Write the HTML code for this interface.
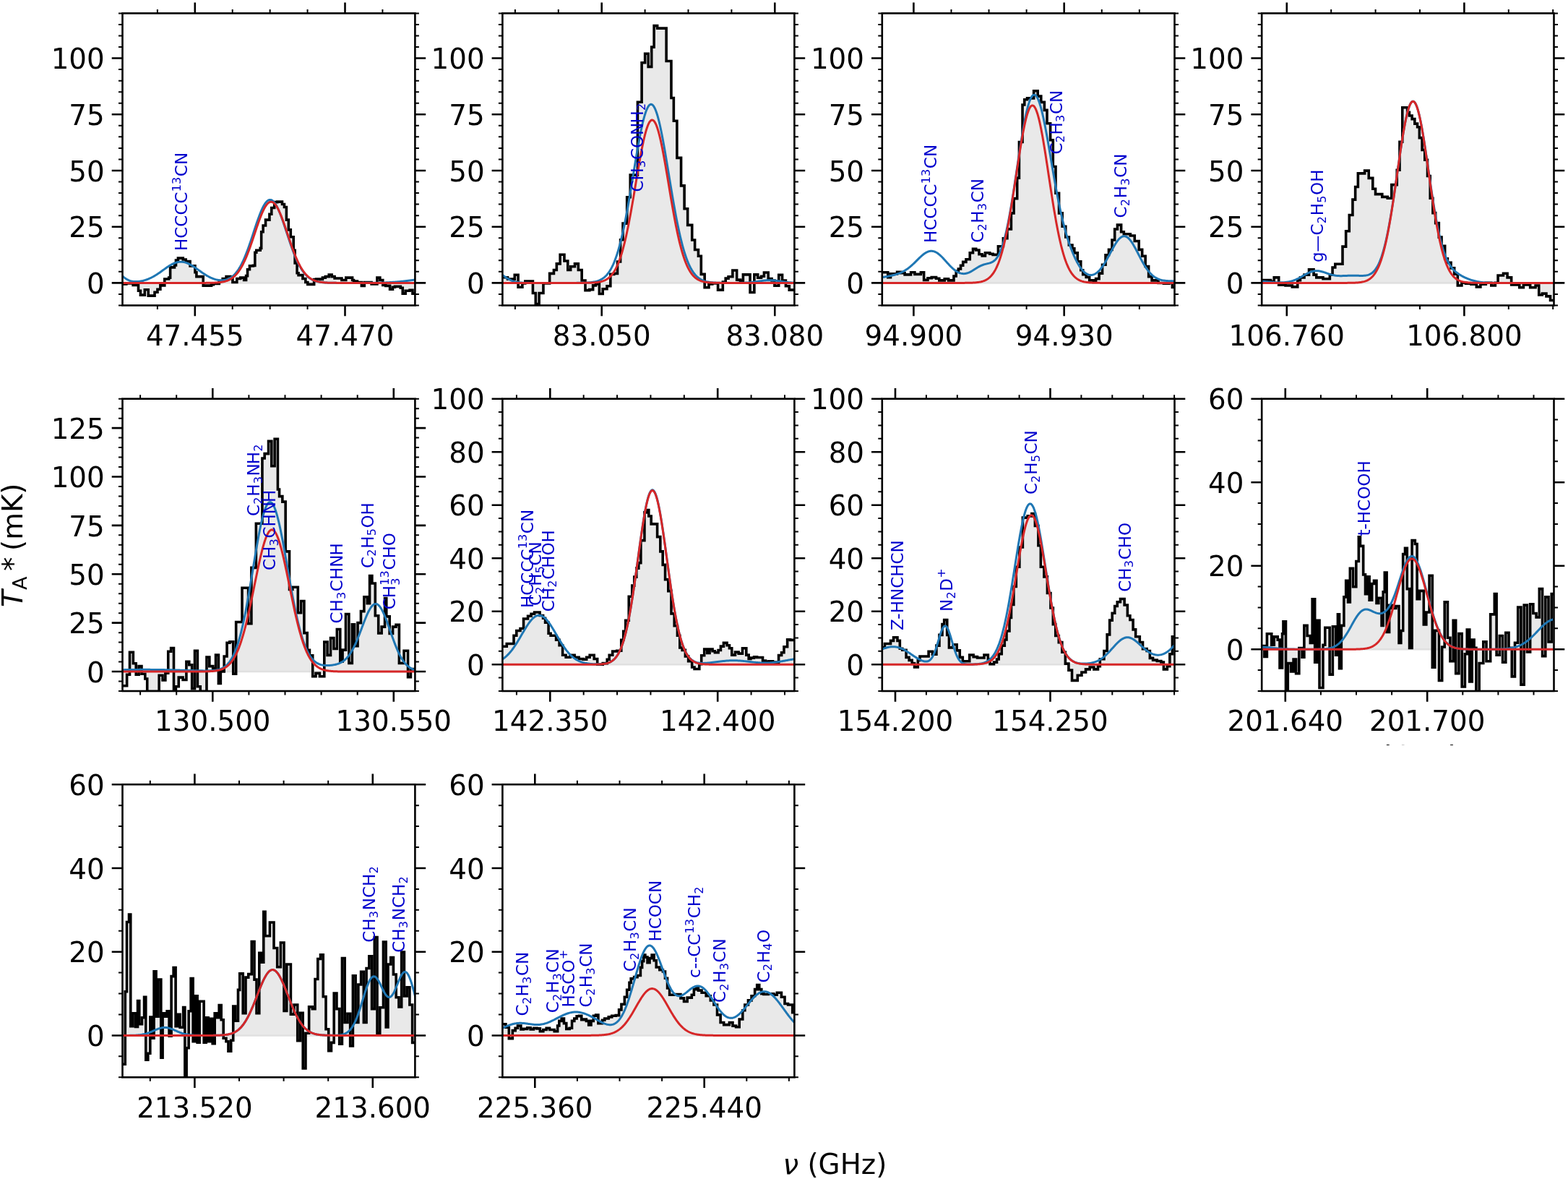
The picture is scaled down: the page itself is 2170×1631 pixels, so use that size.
<!DOCTYPE html>
<html><head><meta charset="utf-8"><style>
html,body{margin:0;padding:0;background:#fff;}
svg{display:block;}
.t{font-family:"DejaVu Sans","Liberation Sans",sans-serif;font-size:38.8px;fill:#000;}
.l{font-family:"DejaVu Sans","Liberation Sans",sans-serif;fill:#0000cd;}
.a{font-family:"DejaVu Sans","Liberation Sans",sans-serif;font-size:38.8px;fill:#000;}
</style></head><body>
<svg width="2170" height="1631" viewBox="0 0 2170 1631">
<rect width="2170" height="1631" fill="#fff"/>
<clipPath id="c1"><rect x="169.5" y="18.4" width="404.9" height="404.1"/></clipPath>
<g clip-path="url(#c1)">
<path d="M170.39,391.42 L170.39,392.91 L174.81,392.91 L174.81,391.93 L184.13,391.93 L184.13,394.38 L191.48,394.38 L191.48,402.23 L194.43,402.23 L194.43,408.11 L200.31,408.11 L200.31,400.76 L205.22,400.76 L205.22,409.09 L214.04,409.09 L214.04,404.19 L217.97,404.19 L217.97,400.26 L221.89,400.26 L221.89,394.87 L227.78,394.87 L227.78,386.04 L233.66,386.04 L233.66,384.08 L235.62,384.08 L235.62,369.86 L241.51,369.86 L241.51,366.92 L243.47,366.92 L243.47,360.05 L246.41,360.05 L246.41,357.11 L253.28,357.11 L253.28,359.07 L257.2,359.07 L257.2,361.52 L263.09,361.52 L263.09,367.9 L269.95,367.9 L269.95,376.72 L271.92,376.72 L271.92,382.61 L281.23,382.61 L281.23,395.16 L292.51,395.16 L292.51,393.59 L295.46,393.59 L295.46,392.42 L303.3,392.42 L303.3,388.49 L308.21,388.49 L308.21,385.55 L313.11,385.55 L313.11,382.61 L319,382.61 L319,385.55 L321.94,385.55 L321.94,390.46 L327.82,390.46 L327.82,385.55 L332.73,385.55 L332.73,384.08 L337.63,384.08 L337.63,387.51 L340.58,387.51 L340.58,381.63 L342.54,381.63 L342.54,372.8 L345.48,372.8 L345.48,367.9 L350.38,367.9 L350.38,367.41 L352.84,367.41 L352.84,349.26 L354.8,349.26 L354.8,346.32 L360.19,346.32 L360.19,343.37 L361.67,343.37 L361.67,320.81 L364.12,320.81 L364.12,311.99 L367.55,311.99 L367.55,304.14 L372.95,304.14 L372.95,296.29 L375.79,296.29 L375.79,287.46 L379.71,287.46 L379.71,279.62 L383.64,279.62 L383.64,279.13 L390.5,279.13 L390.5,282.56 L393.45,282.56 L393.45,286.48 L396.39,286.48 L396.39,304.14 L399.33,304.14 L399.33,317.87 L402.27,317.87 L402.27,327.68 L406.2,327.68 L406.2,346.32 L408.16,346.32 L408.16,363.97 L411.1,363.97 L411.1,377.7 L413.06,377.7 L413.06,380.65 L418.95,380.65 L418.95,385.55 L422.87,385.55 L422.87,390.46 L425.81,390.46 L425.81,393.4 L434.64,393.4 L434.64,386.53 L437.58,386.53 L437.58,386.04 L443.47,386.04 L443.47,386.53 L446.41,386.53 L446.41,384.08 L450.34,384.08 L450.34,382.61 L455.24,382.61 L455.24,380.16 L459.16,380.16 L459.16,382.61 L463.09,382.61 L463.09,385.06 L472.9,385.06 L472.9,387.51 L478.78,387.51 L478.78,384.08 L487.61,384.08 L487.61,387.51 L489.57,387.51 L489.57,388.98 L494.48,388.98 L494.48,390.46 L500.36,390.46 L500.36,395.36 L504.28,395.36 L504.28,390.46 L514.09,390.46 L514.09,392.91 L521.94,392.91 L521.94,384.08 L525.86,384.08 L525.86,387.51 L529.79,387.51 L529.79,394.38 L533.71,394.38 L533.71,395.36 L539.6,395.36 L539.6,400.26 L543.52,400.26 L543.52,397.32 L546.46,397.32 L546.46,396.34 L554.31,396.34 L554.31,398.3 L557.25,398.3 L557.25,406.15 L561.17,406.15 L561.17,402.23 L567.06,402.23 L567.06,401.25 L570.98,401.25 L570.98,406.15 L575,406.15 L575,391.42 Z" fill="#e9e9e9" stroke="none"/>
<line x1="169.5" y1="391.42" x2="574.4" y2="391.42" stroke="#e0e0e0" stroke-width="2.6"/>
<path d="M170.39,392.91 L174.81,392.91 L174.81,391.93 L184.13,391.93 L184.13,394.38 L191.48,394.38 L191.48,402.23 L194.43,402.23 L194.43,408.11 L200.31,408.11 L200.31,400.76 L205.22,400.76 L205.22,409.09 L214.04,409.09 L214.04,404.19 L217.97,404.19 L217.97,400.26 L221.89,400.26 L221.89,394.87 L227.78,394.87 L227.78,386.04 L233.66,386.04 L233.66,384.08 L235.62,384.08 L235.62,369.86 L241.51,369.86 L241.51,366.92 L243.47,366.92 L243.47,360.05 L246.41,360.05 L246.41,357.11 L253.28,357.11 L253.28,359.07 L257.2,359.07 L257.2,361.52 L263.09,361.52 L263.09,367.9 L269.95,367.9 L269.95,376.72 L271.92,376.72 L271.92,382.61 L281.23,382.61 L281.23,395.16 L292.51,395.16 L292.51,393.59 L295.46,393.59 L295.46,392.42 L303.3,392.42 L303.3,388.49 L308.21,388.49 L308.21,385.55 L313.11,385.55 L313.11,382.61 L319,382.61 L319,385.55 L321.94,385.55 L321.94,390.46 L327.82,390.46 L327.82,385.55 L332.73,385.55 L332.73,384.08 L337.63,384.08 L337.63,387.51 L340.58,387.51 L340.58,381.63 L342.54,381.63 L342.54,372.8 L345.48,372.8 L345.48,367.9 L350.38,367.9 L350.38,367.41 L352.84,367.41 L352.84,349.26 L354.8,349.26 L354.8,346.32 L360.19,346.32 L360.19,343.37 L361.67,343.37 L361.67,320.81 L364.12,320.81 L364.12,311.99 L367.55,311.99 L367.55,304.14 L372.95,304.14 L372.95,296.29 L375.79,296.29 L375.79,287.46 L379.71,287.46 L379.71,279.62 L383.64,279.62 L383.64,279.13 L390.5,279.13 L390.5,282.56 L393.45,282.56 L393.45,286.48 L396.39,286.48 L396.39,304.14 L399.33,304.14 L399.33,317.87 L402.27,317.87 L402.27,327.68 L406.2,327.68 L406.2,346.32 L408.16,346.32 L408.16,363.97 L411.1,363.97 L411.1,377.7 L413.06,377.7 L413.06,380.65 L418.95,380.65 L418.95,385.55 L422.87,385.55 L422.87,390.46 L425.81,390.46 L425.81,393.4 L434.64,393.4 L434.64,386.53 L437.58,386.53 L437.58,386.04 L443.47,386.04 L443.47,386.53 L446.41,386.53 L446.41,384.08 L450.34,384.08 L450.34,382.61 L455.24,382.61 L455.24,380.16 L459.16,380.16 L459.16,382.61 L463.09,382.61 L463.09,385.06 L472.9,385.06 L472.9,387.51 L478.78,387.51 L478.78,384.08 L487.61,384.08 L487.61,387.51 L489.57,387.51 L489.57,388.98 L494.48,388.98 L494.48,390.46 L500.36,390.46 L500.36,395.36 L504.28,395.36 L504.28,390.46 L514.09,390.46 L514.09,392.91 L521.94,392.91 L521.94,384.08 L525.86,384.08 L525.86,387.51 L529.79,387.51 L529.79,394.38 L533.71,394.38 L533.71,395.36 L539.6,395.36 L539.6,400.26 L543.52,400.26 L543.52,397.32 L546.46,397.32 L546.46,396.34 L554.31,396.34 L554.31,398.3 L557.25,398.3 L557.25,406.15 L561.17,406.15 L561.17,402.23 L567.06,402.23 L567.06,401.25 L570.98,401.25 L570.98,406.15 L575,406.15" fill="none" stroke="#000" stroke-width="3.6" stroke-linejoin="miter" stroke-linecap="square"/>
<path d="M167.5,379.93 L168.5,380.91 L169.5,381.86 L170.5,382.75 L171.5,383.6 L172.5,384.38 L173.5,385.11 L174.5,385.78 L175.5,386.39 L176.5,386.94 L177.5,387.44 L178.5,387.87 L179.5,388.25 L180.5,388.58 L181.5,388.85 L182.5,389.08 L183.5,389.26 L184.5,389.4 L185.5,389.51 L186.5,389.57 L187.5,389.6 L188.5,389.6 L189.5,389.57 L190.5,389.51 L191.5,389.43 L192.5,389.32 L193.5,389.18 L194.5,389.03 L195.5,388.84 L196.5,388.64 L197.5,388.42 L198.5,388.17 L199.5,387.9 L200.5,387.61 L201.5,387.3 L202.5,386.97 L203.5,386.61 L204.5,386.24 L205.5,385.84 L206.5,385.42 L207.5,384.98 L208.5,384.51 L209.5,384.03 L210.5,383.52 L211.5,382.99 L212.5,382.44 L213.5,381.87 L214.5,381.28 L215.5,380.67 L216.5,380.05 L217.5,379.4 L218.5,378.74 L219.5,378.07 L220.5,377.39 L221.5,376.69 L222.5,375.99 L223.5,375.27 L224.5,374.56 L225.5,373.84 L226.5,373.12 L227.5,372.4 L228.5,371.68 L229.5,370.98 L230.5,370.28 L231.5,369.6 L232.5,368.93 L233.5,368.27 L234.5,367.64 L235.5,367.03 L236.5,366.45 L237.5,365.9 L238.5,365.37 L239.5,364.88 L240.5,364.42 L241.5,364.01 L242.5,363.63 L243.5,363.29 L244.5,363 L245.5,362.75 L246.5,362.54 L247.5,362.38 L248.5,362.27 L249.5,362.21 L250.5,362.2 L251.5,362.23 L252.5,362.31 L253.5,362.44 L254.5,362.62 L255.5,362.84 L256.5,363.11 L257.5,363.42 L258.5,363.77 L259.5,364.17 L260.5,364.6 L261.5,365.07 L262.5,365.58 L263.5,366.11 L264.5,366.68 L265.5,367.27 L266.5,367.89 L267.5,368.53 L268.5,369.19 L269.5,369.86 L270.5,370.55 L271.5,371.25 L272.5,371.96 L273.5,372.68 L274.5,373.4 L275.5,374.11 L276.5,374.83 L277.5,375.54 L278.5,376.25 L279.5,376.95 L280.5,377.63 L281.5,378.31 L282.5,378.97 L283.5,379.61 L284.5,380.24 L285.5,380.85 L286.5,381.44 L287.5,382.01 L288.5,382.55 L289.5,383.08 L290.5,383.57 L291.5,384.05 L292.5,384.5 L293.5,384.92 L294.5,385.31 L295.5,385.68 L296.5,386.02 L297.5,386.33 L298.5,386.61 L299.5,386.87 L300.5,387.09 L301.5,387.28 L302.5,387.44 L303.5,387.56 L304.5,387.65 L305.5,387.71 L306.5,387.73 L307.5,387.72 L308.5,387.66 L309.5,387.57 L310.5,387.43 L311.5,387.25 L312.5,387.02 L313.5,386.75 L314.5,386.42 L315.5,386.04 L316.5,385.61 L317.5,385.11 L318.5,384.56 L319.5,383.94 L320.5,383.25 L321.5,382.5 L322.5,381.67 L323.5,380.76 L324.5,379.77 L325.5,378.7 L326.5,377.55 L327.5,376.31 L328.5,374.97 L329.5,373.55 L330.5,372.02 L331.5,370.4 L332.5,368.69 L333.5,366.87 L334.5,364.96 L335.5,362.94 L336.5,360.83 L337.5,358.62 L338.5,356.31 L339.5,353.91 L340.5,351.42 L341.5,348.85 L342.5,346.2 L343.5,343.47 L344.5,340.67 L345.5,337.81 L346.5,334.89 L347.5,331.93 L348.5,328.93 L349.5,325.91 L350.5,322.87 L351.5,319.82 L352.5,316.79 L353.5,313.77 L354.5,310.78 L355.5,307.84 L356.5,304.95 L357.5,302.14 L358.5,299.41 L359.5,296.77 L360.5,294.25 L361.5,291.85 L362.5,289.59 L363.5,287.47 L364.5,285.51 L365.5,283.71 L366.5,282.1 L367.5,280.67 L368.5,279.44 L369.5,278.41 L370.5,277.59 L371.5,276.98 L372.5,276.59 L373.5,276.41 L374.5,276.46 L375.5,276.72 L376.5,277.2 L377.5,277.89 L378.5,278.8 L379.5,279.91 L380.5,281.22 L381.5,282.72 L382.5,284.41 L383.5,286.27 L384.5,288.3 L385.5,290.48 L386.5,292.8 L387.5,295.25 L388.5,297.82 L389.5,300.49 L390.5,303.26 L391.5,306.1 L392.5,309.01 L393.5,311.97 L394.5,314.98 L395.5,318 L396.5,321.05 L397.5,324.09 L398.5,327.13 L399.5,330.14 L400.5,333.13 L401.5,336.08 L402.5,338.97 L403.5,341.81 L404.5,344.59 L405.5,347.29 L406.5,349.92 L407.5,352.47 L408.5,354.93 L409.5,357.3 L410.5,359.57 L411.5,361.75 L412.5,363.84 L413.5,365.82 L414.5,367.71 L415.5,369.5 L416.5,371.2 L417.5,372.8 L418.5,374.3 L419.5,375.71 L420.5,377.04 L421.5,378.28 L422.5,379.43 L423.5,380.5 L424.5,381.5 L425.5,382.42 L426.5,383.27 L427.5,384.06 L428.5,384.78 L429.5,385.44 L430.5,386.05 L431.5,386.61 L432.5,387.11 L433.5,387.57 L434.5,387.99 L435.5,388.36 L436.5,388.71 L437.5,389.01 L438.5,389.29 L439.5,389.54 L440.5,389.76 L441.5,389.96 L442.5,390.14 L443.5,390.3 L444.5,390.44 L445.5,390.56 L446.5,390.67 L447.5,390.77 L448.5,390.85 L449.5,390.93 L450.5,390.99 L451.5,391.05 L452.5,391.1 L453.5,391.15 L454.5,391.18 L455.5,391.22 L456.5,391.25 L457.5,391.27 L458.5,391.29 L459.5,391.31 L460.5,391.33 L461.5,391.34 L462.5,391.35 L463.5,391.36 L464.5,391.37 L465.5,391.38 L466.5,391.38 L467.5,391.39 L468.5,391.39 L469.5,391.4 L470.5,391.4 L471.5,391.4 L472.5,391.4 L473.5,391.41 L474.5,391.41 L475.5,391.41 L476.5,391.41 L477.5,391.41 L478.5,391.41 L479.5,391.41 L480.5,391.41 L481.5,391.41 L482.5,391.41 L483.5,391.41 L484.5,391.41 L485.5,391.41 L486.5,391.41 L487.5,391.41 L488.5,391.41 L489.5,391.41 L490.5,391.41 L491.5,391.41 L492.5,391.41 L493.5,391.4 L494.5,391.4 L495.5,391.4 L496.5,391.4 L497.5,391.4 L498.5,391.4 L499.5,391.39 L500.5,391.39 L501.5,391.39 L502.5,391.38 L503.5,391.38 L504.5,391.38 L505.5,391.37 L506.5,391.37 L507.5,391.36 L508.5,391.36 L509.5,391.35 L510.5,391.34 L511.5,391.34 L512.5,391.33 L513.5,391.32 L514.5,391.31 L515.5,391.3 L516.5,391.29 L517.5,391.27 L518.5,391.26 L519.5,391.25 L520.5,391.23 L521.5,391.21 L522.5,391.19 L523.5,391.17 L524.5,391.15 L525.5,391.13 L526.5,391.11 L527.5,391.08 L528.5,391.05 L529.5,391.02 L530.5,390.99 L531.5,390.96 L532.5,390.92 L533.5,390.88 L534.5,390.84 L535.5,390.8 L536.5,390.75 L537.5,390.71 L538.5,390.66 L539.5,390.6 L540.5,390.55 L541.5,390.49 L542.5,390.42 L543.5,390.36 L544.5,390.29 L545.5,390.22 L546.5,390.15 L547.5,390.07 L548.5,389.99 L549.5,389.91 L550.5,389.82 L551.5,389.73 L552.5,389.64 L553.5,389.55 L554.5,389.45 L555.5,389.35 L556.5,389.24 L557.5,389.14 L558.5,389.03 L559.5,388.92 L560.5,388.8 L561.5,388.69 L562.5,388.57 L563.5,388.45 L564.5,388.33 L565.5,388.21 L566.5,388.08 L567.5,387.96 L568.5,387.83 L569.5,387.71 L570.5,387.58 L571.5,387.46 L572.5,387.33 L573.5,387.21 L574.5,387.08 L575.5,386.96" fill="none" stroke="#1f77b4" stroke-width="3.0" stroke-linejoin="round"/>
<path d="M167.5,391.42 L168.5,391.42 L169.5,391.42 L170.5,391.42 L171.5,391.42 L172.5,391.42 L173.5,391.42 L174.5,391.42 L175.5,391.42 L176.5,391.42 L177.5,391.42 L178.5,391.42 L179.5,391.42 L180.5,391.42 L181.5,391.42 L182.5,391.42 L183.5,391.42 L184.5,391.42 L185.5,391.42 L186.5,391.42 L187.5,391.42 L188.5,391.42 L189.5,391.42 L190.5,391.42 L191.5,391.42 L192.5,391.42 L193.5,391.42 L194.5,391.42 L195.5,391.42 L196.5,391.42 L197.5,391.42 L198.5,391.42 L199.5,391.42 L200.5,391.42 L201.5,391.42 L202.5,391.42 L203.5,391.42 L204.5,391.42 L205.5,391.42 L206.5,391.42 L207.5,391.42 L208.5,391.42 L209.5,391.42 L210.5,391.42 L211.5,391.42 L212.5,391.42 L213.5,391.42 L214.5,391.42 L215.5,391.42 L216.5,391.42 L217.5,391.42 L218.5,391.42 L219.5,391.42 L220.5,391.42 L221.5,391.42 L222.5,391.42 L223.5,391.42 L224.5,391.42 L225.5,391.42 L226.5,391.42 L227.5,391.42 L228.5,391.42 L229.5,391.42 L230.5,391.42 L231.5,391.42 L232.5,391.42 L233.5,391.42 L234.5,391.42 L235.5,391.42 L236.5,391.42 L237.5,391.42 L238.5,391.42 L239.5,391.42 L240.5,391.42 L241.5,391.42 L242.5,391.42 L243.5,391.42 L244.5,391.42 L245.5,391.42 L246.5,391.42 L247.5,391.42 L248.5,391.42 L249.5,391.42 L250.5,391.42 L251.5,391.42 L252.5,391.42 L253.5,391.42 L254.5,391.42 L255.5,391.42 L256.5,391.42 L257.5,391.42 L258.5,391.42 L259.5,391.42 L260.5,391.42 L261.5,391.41 L262.5,391.41 L263.5,391.41 L264.5,391.41 L265.5,391.41 L266.5,391.41 L267.5,391.41 L268.5,391.41 L269.5,391.41 L270.5,391.41 L271.5,391.41 L272.5,391.41 L273.5,391.41 L274.5,391.41 L275.5,391.41 L276.5,391.41 L277.5,391.4 L278.5,391.4 L279.5,391.4 L280.5,391.4 L281.5,391.39 L282.5,391.39 L283.5,391.38 L284.5,391.38 L285.5,391.37 L286.5,391.36 L287.5,391.35 L288.5,391.34 L289.5,391.32 L290.5,391.31 L291.5,391.29 L292.5,391.27 L293.5,391.24 L294.5,391.21 L295.5,391.18 L296.5,391.14 L297.5,391.09 L298.5,391.04 L299.5,390.98 L300.5,390.91 L301.5,390.83 L302.5,390.74 L303.5,390.64 L304.5,390.52 L305.5,390.4 L306.5,390.25 L307.5,390.08 L308.5,389.9 L309.5,389.69 L310.5,389.46 L311.5,389.2 L312.5,388.91 L313.5,388.59 L314.5,388.23 L315.5,387.84 L316.5,387.41 L317.5,386.93 L318.5,386.4 L319.5,385.83 L320.5,385.2 L321.5,384.51 L322.5,383.76 L323.5,382.94 L324.5,382.06 L325.5,381.1 L326.5,380.07 L327.5,378.96 L328.5,377.77 L329.5,376.49 L330.5,375.13 L331.5,373.67 L332.5,372.13 L333.5,370.48 L334.5,368.75 L335.5,366.91 L336.5,364.98 L337.5,362.95 L338.5,360.83 L339.5,358.61 L340.5,356.29 L341.5,353.89 L342.5,351.4 L343.5,348.83 L344.5,346.18 L345.5,343.46 L346.5,340.67 L347.5,337.83 L348.5,334.94 L349.5,332 L350.5,329.04 L351.5,326.05 L352.5,323.05 L353.5,320.06 L354.5,317.08 L355.5,314.12 L356.5,311.2 L357.5,308.33 L358.5,305.53 L359.5,302.8 L360.5,300.17 L361.5,297.64 L362.5,295.22 L363.5,292.94 L364.5,290.79 L365.5,288.8 L366.5,286.97 L367.5,285.32 L368.5,283.84 L369.5,282.56 L370.5,281.48 L371.5,280.6 L372.5,279.93 L373.5,279.48 L374.5,279.24 L375.5,279.22 L376.5,279.41 L377.5,279.83 L378.5,280.45 L379.5,281.29 L380.5,282.33 L381.5,283.57 L382.5,285.01 L383.5,286.63 L384.5,288.42 L385.5,290.38 L386.5,292.49 L387.5,294.75 L388.5,297.14 L389.5,299.65 L390.5,302.27 L391.5,304.98 L392.5,307.77 L393.5,310.62 L394.5,313.53 L395.5,316.48 L396.5,319.46 L397.5,322.45 L398.5,325.45 L399.5,328.44 L400.5,331.41 L401.5,334.35 L402.5,337.26 L403.5,340.11 L404.5,342.91 L405.5,345.64 L406.5,348.31 L407.5,350.89 L408.5,353.4 L409.5,355.82 L410.5,358.15 L411.5,360.39 L412.5,362.53 L413.5,364.58 L414.5,366.53 L415.5,368.39 L416.5,370.14 L417.5,371.81 L418.5,373.37 L419.5,374.85 L420.5,376.23 L421.5,377.52 L422.5,378.73 L423.5,379.86 L424.5,380.9 L425.5,381.87 L426.5,382.77 L427.5,383.6 L428.5,384.36 L429.5,385.06 L430.5,385.7 L431.5,386.29 L432.5,386.83 L433.5,387.32 L434.5,387.76 L435.5,388.16 L436.5,388.52 L437.5,388.85 L438.5,389.14 L439.5,389.41 L440.5,389.65 L441.5,389.86 L442.5,390.05 L443.5,390.22 L444.5,390.37 L445.5,390.5 L446.5,390.62 L447.5,390.72 L448.5,390.81 L449.5,390.89 L450.5,390.96 L451.5,391.03 L452.5,391.08 L453.5,391.13 L454.5,391.17 L455.5,391.2 L456.5,391.23 L457.5,391.26 L458.5,391.28 L459.5,391.3 L460.5,391.32 L461.5,391.34 L462.5,391.35 L463.5,391.36 L464.5,391.37 L465.5,391.37 L466.5,391.38 L467.5,391.39 L468.5,391.39 L469.5,391.4 L470.5,391.4 L471.5,391.4 L472.5,391.4 L473.5,391.41 L474.5,391.41 L475.5,391.41 L476.5,391.41 L477.5,391.41 L478.5,391.41 L479.5,391.41 L480.5,391.41 L481.5,391.41 L482.5,391.41 L483.5,391.41 L484.5,391.41 L485.5,391.41 L486.5,391.41 L487.5,391.41 L488.5,391.41 L489.5,391.42 L490.5,391.42 L491.5,391.42 L492.5,391.42 L493.5,391.42 L494.5,391.42 L495.5,391.42 L496.5,391.42 L497.5,391.42 L498.5,391.42 L499.5,391.42 L500.5,391.42 L501.5,391.42 L502.5,391.42 L503.5,391.42 L504.5,391.42 L505.5,391.42 L506.5,391.42 L507.5,391.42 L508.5,391.42 L509.5,391.42 L510.5,391.42 L511.5,391.42 L512.5,391.42 L513.5,391.42 L514.5,391.42 L515.5,391.42 L516.5,391.42 L517.5,391.42 L518.5,391.42 L519.5,391.42 L520.5,391.42 L521.5,391.42 L522.5,391.42 L523.5,391.42 L524.5,391.42 L525.5,391.42 L526.5,391.42 L527.5,391.42 L528.5,391.42 L529.5,391.42 L530.5,391.42 L531.5,391.42 L532.5,391.42 L533.5,391.42 L534.5,391.42 L535.5,391.42 L536.5,391.42 L537.5,391.42 L538.5,391.42 L539.5,391.42 L540.5,391.42 L541.5,391.42 L542.5,391.42 L543.5,391.42 L544.5,391.42 L545.5,391.42 L546.5,391.42 L547.5,391.42 L548.5,391.42 L549.5,391.42 L550.5,391.42 L551.5,391.42 L552.5,391.42 L553.5,391.42 L554.5,391.42 L555.5,391.42 L556.5,391.42 L557.5,391.42 L558.5,391.42 L559.5,391.42 L560.5,391.42 L561.5,391.42 L562.5,391.42 L563.5,391.42 L564.5,391.42 L565.5,391.42 L566.5,391.42 L567.5,391.42 L568.5,391.42 L569.5,391.42 L570.5,391.42 L571.5,391.42 L572.5,391.42 L573.5,391.42 L574.5,391.42 L575.5,391.42" fill="none" stroke="#d62728" stroke-width="3.0" stroke-linejoin="round"/>
</g>
<text transform="translate(258.7,347) rotate(-90)" class="l"><tspan x="0" y="-0" style="font-size:23px">H</tspan><tspan x="17.29" y="-0" style="font-size:23px">C</tspan><tspan x="33.35" y="-0" style="font-size:23px">C</tspan><tspan x="49.41" y="-0" style="font-size:23px">C</tspan><tspan x="65.47" y="-0" style="font-size:23px">C</tspan><tspan x="81.75" y="-8.8" style="font-size:16.1px">1</tspan><tspan x="92" y="-8.8" style="font-size:16.1px">3</tspan><tspan x="102.87" y="-0" style="font-size:23px">C</tspan><tspan x="118.93" y="-0" style="font-size:23px">N</tspan></text>
<rect x="169.5" y="18.4" width="404.9" height="404.1" fill="none" stroke="#000" stroke-width="2.6"/>
<path d="M164,422.5H169.5M574.4,422.5H579.9" stroke="#000" stroke-width="2.0"/>
<path d="M164,406.96H169.5M574.4,406.96H579.9" stroke="#000" stroke-width="2.0"/>
<path d="M154.7,391.42H169.5M574.4,391.42H589.2" stroke="#000" stroke-width="2.6"/>
<text x="144.7" y="406.02" text-anchor="end" class="t">0</text>
<path d="M164,375.87H169.5M574.4,375.87H579.9" stroke="#000" stroke-width="2.0"/>
<path d="M164,360.33H169.5M574.4,360.33H579.9" stroke="#000" stroke-width="2.0"/>
<path d="M164,344.79H169.5M574.4,344.79H579.9" stroke="#000" stroke-width="2.0"/>
<path d="M164,329.25H169.5M574.4,329.25H579.9" stroke="#000" stroke-width="2.0"/>
<path d="M154.7,313.7H169.5M574.4,313.7H589.2" stroke="#000" stroke-width="2.6"/>
<text x="144.7" y="328.3" text-anchor="end" class="t">25</text>
<path d="M164,298.16H169.5M574.4,298.16H579.9" stroke="#000" stroke-width="2.0"/>
<path d="M164,282.62H169.5M574.4,282.62H579.9" stroke="#000" stroke-width="2.0"/>
<path d="M164,267.08H169.5M574.4,267.08H579.9" stroke="#000" stroke-width="2.0"/>
<path d="M164,251.53H169.5M574.4,251.53H579.9" stroke="#000" stroke-width="2.0"/>
<path d="M154.7,235.99H169.5M574.4,235.99H589.2" stroke="#000" stroke-width="2.6"/>
<text x="144.7" y="250.59" text-anchor="end" class="t">50</text>
<path d="M164,220.45H169.5M574.4,220.45H579.9" stroke="#000" stroke-width="2.0"/>
<path d="M164,204.91H169.5M574.4,204.91H579.9" stroke="#000" stroke-width="2.0"/>
<path d="M164,189.37H169.5M574.4,189.37H579.9" stroke="#000" stroke-width="2.0"/>
<path d="M164,173.82H169.5M574.4,173.82H579.9" stroke="#000" stroke-width="2.0"/>
<path d="M154.7,158.28H169.5M574.4,158.28H589.2" stroke="#000" stroke-width="2.6"/>
<text x="144.7" y="172.88" text-anchor="end" class="t">75</text>
<path d="M164,142.74H169.5M574.4,142.74H579.9" stroke="#000" stroke-width="2.0"/>
<path d="M164,127.2H169.5M574.4,127.2H579.9" stroke="#000" stroke-width="2.0"/>
<path d="M164,111.65H169.5M574.4,111.65H579.9" stroke="#000" stroke-width="2.0"/>
<path d="M164,96.11H169.5M574.4,96.11H579.9" stroke="#000" stroke-width="2.0"/>
<path d="M154.7,80.57H169.5M574.4,80.57H589.2" stroke="#000" stroke-width="2.6"/>
<text x="144.7" y="95.17" text-anchor="end" class="t">100</text>
<path d="M164,65.03H169.5M574.4,65.03H579.9" stroke="#000" stroke-width="2.0"/>
<path d="M164,49.48H169.5M574.4,49.48H579.9" stroke="#000" stroke-width="2.0"/>
<path d="M164,33.94H169.5M574.4,33.94H579.9" stroke="#000" stroke-width="2.0"/>
<path d="M164,18.4H169.5M574.4,18.4H579.9" stroke="#000" stroke-width="2.0"/>
<path d="M269.8,422.5V437.3M269.8,3.6V18.4" stroke="#000" stroke-width="2.6"/>
<text x="269.8" y="477.8" text-anchor="middle" class="t">47.455</text>
<path d="M477.5,422.5V437.3M477.5,3.6V18.4" stroke="#000" stroke-width="2.6"/>
<text x="477.5" y="477.8" text-anchor="middle" class="t">47.470</text>
<path d="M217.88,422.5V428M217.88,12.9V18.4" stroke="#000" stroke-width="2.0"/>
<path d="M321.73,422.5V428M321.73,12.9V18.4" stroke="#000" stroke-width="2.0"/>
<path d="M373.65,422.5V428M373.65,12.9V18.4" stroke="#000" stroke-width="2.0"/>
<path d="M425.57,422.5V428M425.57,12.9V18.4" stroke="#000" stroke-width="2.0"/>
<path d="M529.42,422.5V428M529.42,12.9V18.4" stroke="#000" stroke-width="2.0"/>
<clipPath id="c2"><rect x="695.4" y="18.4" width="404" height="404.1"/></clipPath>
<g clip-path="url(#c2)">
<path d="M695.81,391.42 L695.81,383.71 L702.58,383.71 L702.58,386.13 L712.26,386.13 L712.26,380.32 L717.1,380.32 L717.1,397.26 L722.9,397.26 L722.9,391.94 L726.78,391.94 L726.78,389.03 L737.42,389.03 L737.42,405.49 L741.29,405.49 L741.29,420.49 L746.13,420.49 L746.13,405.49 L751.94,405.49 L751.94,391.94 L760.65,391.94 L760.65,378.39 L766.45,378.39 L766.45,373.55 L770.33,373.55 L770.33,364.84 L775.16,364.84 L775.16,352.26 L780.97,352.26 L780.97,360.97 L785.81,360.97 L785.81,373.55 L789.68,373.55 L789.68,368.71 L795.49,368.71 L795.49,364.84 L800.33,364.84 L800.33,373.55 L805.17,373.55 L805.17,388.07 L810,388.07 L810,401.62 L815.81,401.62 L815.81,400.65 L820.65,400.65 L820.65,394.84 L824.52,394.84 L824.52,392.91 L829.36,392.91 L829.36,406.45 L834.2,406.45 L834.2,399.68 L840,399.68 L840,395.81 L844.84,395.81 L844.84,379.36 L849.68,379.36 L849.68,378.39 L854.52,378.39 L854.52,361.94 L858.61,361.94 L858.61,331.79 L862.02,331.79 L862.02,309.1 L867.69,309.1 L867.69,272.8 L872.23,272.8 L872.23,242.16 L882.44,242.16 L882.44,141.19 L888.11,141.19 L888.11,86.73 L892.65,86.73 L892.65,74.25 L897.19,74.25 L897.19,92.4 L901.73,92.4 L901.73,65.17 L905.13,65.17 L905.13,35.67 L909.67,35.67 L909.67,39.08 L922.15,39.08 L922.15,84.46 L928.96,84.46 L928.96,135.51 L932.36,135.51 L932.36,167.28 L936.9,167.28 L936.9,218.34 L942.57,218.34 L942.57,256.91 L947.11,256.91 L947.11,288.68 L951.65,288.68 L951.65,311.37 L957.74,311.37 L957.74,331.94 L961.62,331.94 L961.62,345.48 L966.45,345.48 L966.45,354.19 L970.33,354.19 L970.33,379.36 L975.16,379.36 L975.16,397.74 L980.97,397.74 L980.97,392.91 L985.81,392.91 L985.81,391.94 L993.55,391.94 L993.55,401.13 L1000.33,401.13 L1000.33,390 L1004.2,390 L1004.2,385.16 L1008.07,385.16 L1008.07,382.74 L1013.87,382.74 L1013.87,374.03 L1019.68,374.03 L1019.68,387.1 L1024.52,387.1 L1024.52,388.55 L1028.39,388.55 L1028.39,379.84 L1038.07,379.84 L1038.07,404.52 L1043.88,404.52 L1043.88,379.84 L1048.71,379.84 L1048.71,384.2 L1053.55,384.2 L1053.55,382.26 L1057.42,382.26 L1057.42,376.94 L1063.23,376.94 L1063.23,385.65 L1068.07,385.65 L1068.07,388.07 L1071.94,388.07 L1071.94,395.32 L1077.75,395.32 L1077.75,380.32 L1082.59,380.32 L1082.59,388.07 L1087.43,388.07 L1087.43,395.81 L1092.26,395.81 L1092.26,401.13 L1099.04,401.13 L1099.04,391.42 Z" fill="#e9e9e9" stroke="none"/>
<line x1="695.4" y1="391.42" x2="1099.4" y2="391.42" stroke="#e0e0e0" stroke-width="2.6"/>
<path d="M695.81,383.71 L702.58,383.71 L702.58,386.13 L712.26,386.13 L712.26,380.32 L717.1,380.32 L717.1,397.26 L722.9,397.26 L722.9,391.94 L726.78,391.94 L726.78,389.03 L737.42,389.03 L737.42,405.49 L741.29,405.49 L741.29,420.49 L746.13,420.49 L746.13,405.49 L751.94,405.49 L751.94,391.94 L760.65,391.94 L760.65,378.39 L766.45,378.39 L766.45,373.55 L770.33,373.55 L770.33,364.84 L775.16,364.84 L775.16,352.26 L780.97,352.26 L780.97,360.97 L785.81,360.97 L785.81,373.55 L789.68,373.55 L789.68,368.71 L795.49,368.71 L795.49,364.84 L800.33,364.84 L800.33,373.55 L805.17,373.55 L805.17,388.07 L810,388.07 L810,401.62 L815.81,401.62 L815.81,400.65 L820.65,400.65 L820.65,394.84 L824.52,394.84 L824.52,392.91 L829.36,392.91 L829.36,406.45 L834.2,406.45 L834.2,399.68 L840,399.68 L840,395.81 L844.84,395.81 L844.84,379.36 L849.68,379.36 L849.68,378.39 L854.52,378.39 L854.52,361.94 L858.61,361.94 L858.61,331.79 L862.02,331.79 L862.02,309.1 L867.69,309.1 L867.69,272.8 L872.23,272.8 L872.23,242.16 L882.44,242.16 L882.44,141.19 L888.11,141.19 L888.11,86.73 L892.65,86.73 L892.65,74.25 L897.19,74.25 L897.19,92.4 L901.73,92.4 L901.73,65.17 L905.13,65.17 L905.13,35.67 L909.67,35.67 L909.67,39.08 L922.15,39.08 L922.15,84.46 L928.96,84.46 L928.96,135.51 L932.36,135.51 L932.36,167.28 L936.9,167.28 L936.9,218.34 L942.57,218.34 L942.57,256.91 L947.11,256.91 L947.11,288.68 L951.65,288.68 L951.65,311.37 L957.74,311.37 L957.74,331.94 L961.62,331.94 L961.62,345.48 L966.45,345.48 L966.45,354.19 L970.33,354.19 L970.33,379.36 L975.16,379.36 L975.16,397.74 L980.97,397.74 L980.97,392.91 L985.81,392.91 L985.81,391.94 L993.55,391.94 L993.55,401.13 L1000.33,401.13 L1000.33,390 L1004.2,390 L1004.2,385.16 L1008.07,385.16 L1008.07,382.74 L1013.87,382.74 L1013.87,374.03 L1019.68,374.03 L1019.68,387.1 L1024.52,387.1 L1024.52,388.55 L1028.39,388.55 L1028.39,379.84 L1038.07,379.84 L1038.07,404.52 L1043.88,404.52 L1043.88,379.84 L1048.71,379.84 L1048.71,384.2 L1053.55,384.2 L1053.55,382.26 L1057.42,382.26 L1057.42,376.94 L1063.23,376.94 L1063.23,385.65 L1068.07,385.65 L1068.07,388.07 L1071.94,388.07 L1071.94,395.32 L1077.75,395.32 L1077.75,380.32 L1082.59,380.32 L1082.59,388.07 L1087.43,388.07 L1087.43,395.81 L1092.26,395.81 L1092.26,401.13 L1099.04,401.13" fill="none" stroke="#000" stroke-width="3.6" stroke-linejoin="miter" stroke-linecap="square"/>
<path d="M693.4,378.9 L694.4,379.65 L695.4,380.4 L696.4,381.16 L697.4,381.9 L698.4,382.63 L699.4,383.33 L700.4,384.02 L701.4,384.67 L702.4,385.3 L703.4,385.89 L704.4,386.45 L705.4,386.97 L706.4,387.45 L707.4,387.9 L708.4,388.31 L709.4,388.68 L710.4,389.02 L711.4,389.33 L712.4,389.61 L713.4,389.85 L714.4,390.07 L715.4,390.26 L716.4,390.43 L717.4,390.58 L718.4,390.71 L719.4,390.82 L720.4,390.92 L721.4,391 L722.4,391.07 L723.4,391.13 L724.4,391.18 L725.4,391.22 L726.4,391.26 L727.4,391.29 L728.4,391.31 L729.4,391.33 L730.4,391.35 L731.4,391.36 L732.4,391.37 L733.4,391.38 L734.4,391.39 L735.4,391.4 L736.4,391.4 L737.4,391.4 L738.4,391.41 L739.4,391.41 L740.4,391.41 L741.4,391.41 L742.4,391.41 L743.4,391.41 L744.4,391.41 L745.4,391.41 L746.4,391.41 L747.4,391.41 L748.4,391.41 L749.4,391.41 L750.4,391.42 L751.4,391.42 L752.4,391.42 L753.4,391.42 L754.4,391.42 L755.4,391.42 L756.4,391.42 L757.4,391.42 L758.4,391.42 L759.4,391.42 L760.4,391.42 L761.4,391.42 L762.4,391.42 L763.4,391.42 L764.4,391.42 L765.4,391.42 L766.4,391.42 L767.4,391.42 L768.4,391.42 L769.4,391.42 L770.4,391.42 L771.4,391.42 L772.4,391.42 L773.4,391.42 L774.4,391.41 L775.4,391.41 L776.4,391.41 L777.4,391.41 L778.4,391.41 L779.4,391.41 L780.4,391.41 L781.4,391.41 L782.4,391.41 L783.4,391.41 L784.4,391.41 L785.4,391.41 L786.4,391.41 L787.4,391.41 L788.4,391.41 L789.4,391.41 L790.4,391.41 L791.4,391.4 L792.4,391.4 L793.4,391.4 L794.4,391.39 L795.4,391.39 L796.4,391.39 L797.4,391.38 L798.4,391.37 L799.4,391.37 L800.4,391.36 L801.4,391.35 L802.4,391.34 L803.4,391.32 L804.4,391.3 L805.4,391.29 L806.4,391.26 L807.4,391.24 L808.4,391.21 L809.4,391.17 L810.4,391.14 L811.4,391.09 L812.4,391.04 L813.4,390.98 L814.4,390.91 L815.4,390.84 L816.4,390.75 L817.4,390.65 L818.4,390.53 L819.4,390.41 L820.4,390.26 L821.4,390.1 L822.4,389.92 L823.4,389.71 L824.4,389.48 L825.4,389.22 L826.4,388.93 L827.4,388.6 L828.4,388.24 L829.4,387.84 L830.4,387.39 L831.4,386.9 L832.4,386.35 L833.4,385.75 L834.4,385.09 L835.4,384.36 L836.4,383.55 L837.4,382.68 L838.4,381.72 L839.4,380.67 L840.4,379.53 L841.4,378.28 L842.4,376.94 L843.4,375.48 L844.4,373.9 L845.4,372.2 L846.4,370.37 L847.4,368.4 L848.4,366.29 L849.4,364.03 L850.4,361.62 L851.4,359.05 L852.4,356.31 L853.4,353.41 L854.4,350.33 L855.4,347.08 L856.4,343.65 L857.4,340.03 L858.4,336.24 L859.4,332.27 L860.4,328.11 L861.4,323.77 L862.4,319.26 L863.4,314.57 L864.4,309.71 L865.4,304.69 L866.4,299.51 L867.4,294.18 L868.4,288.72 L869.4,283.12 L870.4,277.41 L871.4,271.6 L872.4,265.69 L873.4,259.72 L874.4,253.69 L875.4,247.62 L876.4,241.53 L877.4,235.44 L878.4,229.37 L879.4,223.34 L880.4,217.38 L881.4,211.5 L882.4,205.73 L883.4,200.09 L884.4,194.61 L885.4,189.3 L886.4,184.2 L887.4,179.31 L888.4,174.67 L889.4,170.29 L890.4,166.2 L891.4,162.41 L892.4,158.94 L893.4,155.81 L894.4,153.03 L895.4,150.61 L896.4,148.58 L897.4,146.92 L898.4,145.67 L899.4,144.81 L900.4,144.37 L901.4,144.33 L902.4,144.69 L903.4,145.47 L904.4,146.64 L905.4,148.21 L906.4,150.18 L907.4,152.52 L908.4,155.22 L909.4,158.29 L910.4,161.69 L911.4,165.42 L912.4,169.45 L913.4,173.77 L914.4,178.37 L915.4,183.2 L916.4,188.27 L917.4,193.54 L918.4,198.98 L919.4,204.59 L920.4,210.34 L921.4,216.2 L922.4,222.14 L923.4,228.16 L924.4,234.22 L925.4,240.31 L926.4,246.4 L927.4,252.48 L928.4,258.52 L929.4,264.5 L930.4,270.42 L931.4,276.26 L932.4,281.99 L933.4,287.61 L934.4,293.1 L935.4,298.46 L936.4,303.67 L937.4,308.72 L938.4,313.61 L939.4,318.33 L940.4,322.88 L941.4,327.26 L942.4,331.45 L943.4,335.46 L944.4,339.29 L945.4,342.94 L946.4,346.4 L947.4,349.69 L948.4,352.8 L949.4,355.74 L950.4,358.51 L951.4,361.12 L952.4,363.56 L953.4,365.85 L954.4,367.99 L955.4,369.99 L956.4,371.84 L957.4,373.57 L958.4,375.17 L959.4,376.65 L960.4,378.02 L961.4,379.29 L962.4,380.45 L963.4,381.51 L964.4,382.49 L965.4,383.39 L966.4,384.2 L967.4,384.95 L968.4,385.62 L969.4,386.24 L970.4,386.8 L971.4,387.3 L972.4,387.75 L973.4,388.16 L974.4,388.53 L975.4,388.86 L976.4,389.16 L977.4,389.43 L978.4,389.66 L979.4,389.88 L980.4,390.06 L981.4,390.23 L982.4,390.38 L983.4,390.51 L984.4,390.63 L985.4,390.73 L986.4,390.82 L987.4,390.9 L988.4,390.97 L989.4,391.03 L990.4,391.08 L991.4,391.13 L992.4,391.17 L993.4,391.2 L994.4,391.23 L995.4,391.26 L996.4,391.28 L997.4,391.3 L998.4,391.32 L999.4,391.33 L1000.4,391.34 L1001.4,391.36 L1002.4,391.36 L1003.4,391.37 L1004.4,391.38 L1005.4,391.38 L1006.4,391.39 L1007.4,391.39 L1008.4,391.39 L1009.4,391.4 L1010.4,391.4 L1011.4,391.4 L1012.4,391.4 L1013.4,391.4 L1014.4,391.4 L1015.4,391.39 L1016.4,391.39 L1017.4,391.39 L1018.4,391.38 L1019.4,391.38 L1020.4,391.37 L1021.4,391.36 L1022.4,391.35 L1023.4,391.33 L1024.4,391.32 L1025.4,391.3 L1026.4,391.28 L1027.4,391.25 L1028.4,391.22 L1029.4,391.19 L1030.4,391.15 L1031.4,391.11 L1032.4,391.06 L1033.4,391.01 L1034.4,390.95 L1035.4,390.88 L1036.4,390.81 L1037.4,390.73 L1038.4,390.64 L1039.4,390.55 L1040.4,390.44 L1041.4,390.33 L1042.4,390.22 L1043.4,390.09 L1044.4,389.96 L1045.4,389.83 L1046.4,389.69 L1047.4,389.54 L1048.4,389.39 L1049.4,389.24 L1050.4,389.09 L1051.4,388.94 L1052.4,388.79 L1053.4,388.65 L1054.4,388.51 L1055.4,388.38 L1056.4,388.25 L1057.4,388.13 L1058.4,388.03 L1059.4,387.94 L1060.4,387.86 L1061.4,387.79 L1062.4,387.74 L1063.4,387.71 L1064.4,387.69 L1065.4,387.69 L1066.4,387.7 L1067.4,387.73 L1068.4,387.78 L1069.4,387.84 L1070.4,387.92 L1071.4,388.01 L1072.4,388.11 L1073.4,388.23 L1074.4,388.35 L1075.4,388.48 L1076.4,388.62 L1077.4,388.76 L1078.4,388.91 L1079.4,389.06 L1080.4,389.21 L1081.4,389.36 L1082.4,389.51 L1083.4,389.66 L1084.4,389.8 L1085.4,389.94 L1086.4,390.07 L1087.4,390.19 L1088.4,390.31 L1089.4,390.42 L1090.4,390.53 L1091.4,390.62 L1092.4,390.71 L1093.4,390.79 L1094.4,390.87 L1095.4,390.94 L1096.4,391 L1097.4,391.05 L1098.4,391.1 L1099.4,391.15 L1100.4,391.19 L1101.4,391.22" fill="none" stroke="#1f77b4" stroke-width="3.0" stroke-linejoin="round"/>
<path d="M693.4,391.42 L694.4,391.42 L695.4,391.42 L696.4,391.42 L697.4,391.42 L698.4,391.42 L699.4,391.42 L700.4,391.42 L701.4,391.42 L702.4,391.42 L703.4,391.42 L704.4,391.42 L705.4,391.42 L706.4,391.42 L707.4,391.42 L708.4,391.42 L709.4,391.42 L710.4,391.42 L711.4,391.42 L712.4,391.42 L713.4,391.42 L714.4,391.42 L715.4,391.42 L716.4,391.42 L717.4,391.42 L718.4,391.42 L719.4,391.42 L720.4,391.42 L721.4,391.42 L722.4,391.42 L723.4,391.42 L724.4,391.42 L725.4,391.42 L726.4,391.42 L727.4,391.42 L728.4,391.42 L729.4,391.42 L730.4,391.42 L731.4,391.42 L732.4,391.42 L733.4,391.42 L734.4,391.42 L735.4,391.42 L736.4,391.42 L737.4,391.42 L738.4,391.42 L739.4,391.42 L740.4,391.42 L741.4,391.42 L742.4,391.42 L743.4,391.42 L744.4,391.42 L745.4,391.42 L746.4,391.42 L747.4,391.42 L748.4,391.42 L749.4,391.42 L750.4,391.42 L751.4,391.42 L752.4,391.42 L753.4,391.42 L754.4,391.42 L755.4,391.42 L756.4,391.42 L757.4,391.42 L758.4,391.42 L759.4,391.42 L760.4,391.42 L761.4,391.42 L762.4,391.42 L763.4,391.42 L764.4,391.42 L765.4,391.42 L766.4,391.42 L767.4,391.42 L768.4,391.42 L769.4,391.42 L770.4,391.42 L771.4,391.42 L772.4,391.42 L773.4,391.42 L774.4,391.42 L775.4,391.42 L776.4,391.42 L777.4,391.42 L778.4,391.42 L779.4,391.42 L780.4,391.42 L781.4,391.42 L782.4,391.42 L783.4,391.42 L784.4,391.42 L785.4,391.41 L786.4,391.41 L787.4,391.41 L788.4,391.41 L789.4,391.41 L790.4,391.41 L791.4,391.41 L792.4,391.41 L793.4,391.41 L794.4,391.41 L795.4,391.41 L796.4,391.41 L797.4,391.41 L798.4,391.41 L799.4,391.41 L800.4,391.41 L801.4,391.4 L802.4,391.4 L803.4,391.4 L804.4,391.39 L805.4,391.39 L806.4,391.38 L807.4,391.38 L808.4,391.37 L809.4,391.36 L810.4,391.35 L811.4,391.34 L812.4,391.32 L813.4,391.31 L814.4,391.29 L815.4,391.26 L816.4,391.23 L817.4,391.2 L818.4,391.17 L819.4,391.12 L820.4,391.07 L821.4,391.01 L822.4,390.94 L823.4,390.87 L824.4,390.78 L825.4,390.67 L826.4,390.56 L827.4,390.42 L828.4,390.27 L829.4,390.09 L830.4,389.9 L831.4,389.67 L832.4,389.42 L833.4,389.13 L834.4,388.81 L835.4,388.45 L836.4,388.04 L837.4,387.59 L838.4,387.08 L839.4,386.52 L840.4,385.89 L841.4,385.2 L842.4,384.43 L843.4,383.58 L844.4,382.65 L845.4,381.62 L846.4,380.5 L847.4,379.26 L848.4,377.92 L849.4,376.45 L850.4,374.86 L851.4,373.13 L852.4,371.26 L853.4,369.24 L854.4,367.07 L855.4,364.73 L856.4,362.23 L857.4,359.56 L858.4,356.7 L859.4,353.66 L860.4,350.44 L861.4,347.03 L862.4,343.42 L863.4,339.62 L864.4,335.63 L865.4,331.45 L866.4,327.07 L867.4,322.51 L868.4,317.77 L869.4,312.85 L870.4,307.77 L871.4,302.52 L872.4,297.13 L873.4,291.61 L874.4,285.97 L875.4,280.22 L876.4,274.38 L877.4,268.47 L878.4,262.51 L879.4,256.52 L880.4,250.53 L881.4,244.55 L882.4,238.62 L883.4,232.75 L884.4,226.97 L885.4,221.3 L886.4,215.78 L887.4,210.43 L888.4,205.28 L889.4,200.34 L890.4,195.65 L891.4,191.24 L892.4,187.11 L893.4,183.31 L894.4,179.83 L895.4,176.72 L896.4,173.98 L897.4,171.62 L898.4,169.67 L899.4,168.13 L900.4,167.01 L901.4,166.31 L902.4,166.05 L903.4,166.23 L904.4,166.83 L905.4,167.87 L906.4,169.32 L907.4,171.2 L908.4,173.47 L909.4,176.14 L910.4,179.18 L911.4,182.58 L912.4,186.33 L913.4,190.39 L914.4,194.75 L915.4,199.38 L916.4,204.27 L917.4,209.38 L918.4,214.7 L919.4,220.19 L920.4,225.82 L921.4,231.58 L922.4,237.44 L923.4,243.36 L924.4,249.33 L925.4,255.33 L926.4,261.32 L927.4,267.28 L928.4,273.2 L929.4,279.05 L930.4,284.82 L931.4,290.49 L932.4,296.04 L933.4,301.46 L934.4,306.73 L935.4,311.85 L936.4,316.8 L937.4,321.58 L938.4,326.17 L939.4,330.59 L940.4,334.81 L941.4,338.84 L942.4,342.68 L943.4,346.32 L944.4,349.77 L945.4,353.04 L946.4,356.11 L947.4,359 L948.4,361.71 L949.4,364.25 L950.4,366.61 L951.4,368.82 L952.4,370.87 L953.4,372.77 L954.4,374.52 L955.4,376.14 L956.4,377.63 L957.4,379 L958.4,380.26 L959.4,381.4 L960.4,382.45 L961.4,383.4 L962.4,384.27 L963.4,385.05 L964.4,385.76 L965.4,386.4 L966.4,386.98 L967.4,387.49 L968.4,387.96 L969.4,388.37 L970.4,388.74 L971.4,389.07 L972.4,389.36 L973.4,389.62 L974.4,389.85 L975.4,390.06 L976.4,390.24 L977.4,390.39 L978.4,390.53 L979.4,390.65 L980.4,390.76 L981.4,390.85 L982.4,390.93 L983.4,391 L984.4,391.06 L985.4,391.11 L986.4,391.16 L987.4,391.2 L988.4,391.23 L989.4,391.26 L990.4,391.28 L991.4,391.3 L992.4,391.32 L993.4,391.34 L994.4,391.35 L995.4,391.36 L996.4,391.37 L997.4,391.38 L998.4,391.38 L999.4,391.39 L1000.4,391.39 L1001.4,391.4 L1002.4,391.4 L1003.4,391.4 L1004.4,391.41 L1005.4,391.41 L1006.4,391.41 L1007.4,391.41 L1008.4,391.41 L1009.4,391.41 L1010.4,391.41 L1011.4,391.41 L1012.4,391.41 L1013.4,391.41 L1014.4,391.41 L1015.4,391.41 L1016.4,391.41 L1017.4,391.41 L1018.4,391.41 L1019.4,391.41 L1020.4,391.42 L1021.4,391.42 L1022.4,391.42 L1023.4,391.42 L1024.4,391.42 L1025.4,391.42 L1026.4,391.42 L1027.4,391.42 L1028.4,391.42 L1029.4,391.42 L1030.4,391.42 L1031.4,391.42 L1032.4,391.42 L1033.4,391.42 L1034.4,391.42 L1035.4,391.42 L1036.4,391.42 L1037.4,391.42 L1038.4,391.42 L1039.4,391.42 L1040.4,391.42 L1041.4,391.42 L1042.4,391.42 L1043.4,391.42 L1044.4,391.42 L1045.4,391.42 L1046.4,391.42 L1047.4,391.42 L1048.4,391.42 L1049.4,391.42 L1050.4,391.42 L1051.4,391.42 L1052.4,391.42 L1053.4,391.42 L1054.4,391.42 L1055.4,391.42 L1056.4,391.42 L1057.4,391.42 L1058.4,391.42 L1059.4,391.42 L1060.4,391.42 L1061.4,391.42 L1062.4,391.42 L1063.4,391.42 L1064.4,391.42 L1065.4,391.42 L1066.4,391.42 L1067.4,391.42 L1068.4,391.42 L1069.4,391.42 L1070.4,391.42 L1071.4,391.42 L1072.4,391.42 L1073.4,391.42 L1074.4,391.42 L1075.4,391.42 L1076.4,391.42 L1077.4,391.42 L1078.4,391.42 L1079.4,391.42 L1080.4,391.42 L1081.4,391.42 L1082.4,391.42 L1083.4,391.42 L1084.4,391.42 L1085.4,391.42 L1086.4,391.42 L1087.4,391.42 L1088.4,391.42 L1089.4,391.42 L1090.4,391.42 L1091.4,391.42 L1092.4,391.42 L1093.4,391.42 L1094.4,391.42 L1095.4,391.42 L1096.4,391.42 L1097.4,391.42 L1098.4,391.42 L1099.4,391.42 L1100.4,391.42 L1101.4,391.42" fill="none" stroke="#d62728" stroke-width="3.0" stroke-linejoin="round"/>
</g>
<text transform="translate(889.7,265.5) rotate(-90)" class="l"><tspan x="0" y="-0" style="font-size:23px">C</tspan><tspan x="16.06" y="-0" style="font-size:23px">H</tspan><tspan x="33.57" y="3.77" style="font-size:16.1px">3</tspan><tspan x="44.45" y="-0" style="font-size:23px">C</tspan><tspan x="60.51" y="-0" style="font-size:23px">O</tspan><tspan x="78.61" y="-0" style="font-size:23px">N</tspan><tspan x="94.94" y="-0" style="font-size:23px">H</tspan><tspan x="112.46" y="3.77" style="font-size:16.1px">2</tspan></text>
<rect x="695.4" y="18.4" width="404" height="404.1" fill="none" stroke="#000" stroke-width="2.6"/>
<path d="M689.9,422.5H695.4M1099.4,422.5H1104.9" stroke="#000" stroke-width="2.0"/>
<path d="M689.9,406.96H695.4M1099.4,406.96H1104.9" stroke="#000" stroke-width="2.0"/>
<path d="M680.6,391.42H695.4M1099.4,391.42H1114.2" stroke="#000" stroke-width="2.6"/>
<text x="670.6" y="406.02" text-anchor="end" class="t">0</text>
<path d="M689.9,375.87H695.4M1099.4,375.87H1104.9" stroke="#000" stroke-width="2.0"/>
<path d="M689.9,360.33H695.4M1099.4,360.33H1104.9" stroke="#000" stroke-width="2.0"/>
<path d="M689.9,344.79H695.4M1099.4,344.79H1104.9" stroke="#000" stroke-width="2.0"/>
<path d="M689.9,329.25H695.4M1099.4,329.25H1104.9" stroke="#000" stroke-width="2.0"/>
<path d="M680.6,313.7H695.4M1099.4,313.7H1114.2" stroke="#000" stroke-width="2.6"/>
<text x="670.6" y="328.3" text-anchor="end" class="t">25</text>
<path d="M689.9,298.16H695.4M1099.4,298.16H1104.9" stroke="#000" stroke-width="2.0"/>
<path d="M689.9,282.62H695.4M1099.4,282.62H1104.9" stroke="#000" stroke-width="2.0"/>
<path d="M689.9,267.08H695.4M1099.4,267.08H1104.9" stroke="#000" stroke-width="2.0"/>
<path d="M689.9,251.53H695.4M1099.4,251.53H1104.9" stroke="#000" stroke-width="2.0"/>
<path d="M680.6,235.99H695.4M1099.4,235.99H1114.2" stroke="#000" stroke-width="2.6"/>
<text x="670.6" y="250.59" text-anchor="end" class="t">50</text>
<path d="M689.9,220.45H695.4M1099.4,220.45H1104.9" stroke="#000" stroke-width="2.0"/>
<path d="M689.9,204.91H695.4M1099.4,204.91H1104.9" stroke="#000" stroke-width="2.0"/>
<path d="M689.9,189.37H695.4M1099.4,189.37H1104.9" stroke="#000" stroke-width="2.0"/>
<path d="M689.9,173.82H695.4M1099.4,173.82H1104.9" stroke="#000" stroke-width="2.0"/>
<path d="M680.6,158.28H695.4M1099.4,158.28H1114.2" stroke="#000" stroke-width="2.6"/>
<text x="670.6" y="172.88" text-anchor="end" class="t">75</text>
<path d="M689.9,142.74H695.4M1099.4,142.74H1104.9" stroke="#000" stroke-width="2.0"/>
<path d="M689.9,127.2H695.4M1099.4,127.2H1104.9" stroke="#000" stroke-width="2.0"/>
<path d="M689.9,111.65H695.4M1099.4,111.65H1104.9" stroke="#000" stroke-width="2.0"/>
<path d="M689.9,96.11H695.4M1099.4,96.11H1104.9" stroke="#000" stroke-width="2.0"/>
<path d="M680.6,80.57H695.4M1099.4,80.57H1114.2" stroke="#000" stroke-width="2.6"/>
<text x="670.6" y="95.17" text-anchor="end" class="t">100</text>
<path d="M689.9,65.03H695.4M1099.4,65.03H1104.9" stroke="#000" stroke-width="2.0"/>
<path d="M689.9,49.48H695.4M1099.4,49.48H1104.9" stroke="#000" stroke-width="2.0"/>
<path d="M689.9,33.94H695.4M1099.4,33.94H1104.9" stroke="#000" stroke-width="2.0"/>
<path d="M689.9,18.4H695.4M1099.4,18.4H1104.9" stroke="#000" stroke-width="2.0"/>
<path d="M832.7,422.5V437.3M832.7,3.6V18.4" stroke="#000" stroke-width="2.6"/>
<text x="832.7" y="477.8" text-anchor="middle" class="t">83.050</text>
<path d="M1072.3,422.5V437.3M1072.3,3.6V18.4" stroke="#000" stroke-width="2.6"/>
<text x="1072.3" y="477.8" text-anchor="middle" class="t">83.080</text>
<path d="M772.8,422.5V428M772.8,12.9V18.4" stroke="#000" stroke-width="2.0"/>
<path d="M712.9,422.5V428M712.9,12.9V18.4" stroke="#000" stroke-width="2.0"/>
<path d="M892.6,422.5V428M892.6,12.9V18.4" stroke="#000" stroke-width="2.0"/>
<path d="M952.5,422.5V428M952.5,12.9V18.4" stroke="#000" stroke-width="2.0"/>
<path d="M1012.4,422.5V428M1012.4,12.9V18.4" stroke="#000" stroke-width="2.0"/>
<clipPath id="c3"><rect x="1220.8" y="18.4" width="404.7" height="404.1"/></clipPath>
<g clip-path="url(#c3)">
<path d="M1222.42,391.42 L1222.42,376.72 L1228.79,376.72 L1228.79,383.62 L1232.5,383.62 L1232.5,378.84 L1241.51,378.84 L1241.51,376.19 L1246.81,376.19 L1246.81,377.78 L1252.12,377.78 L1252.12,379.9 L1260.6,379.9 L1260.6,376.72 L1265.9,376.72 L1265.9,379.37 L1274.38,379.37 L1274.38,376.72 L1278.63,376.72 L1278.63,387.33 L1283.93,387.33 L1283.93,384.68 L1289.23,384.68 L1289.23,383.62 L1295.59,383.62 L1295.59,385.21 L1299.84,385.21 L1299.84,387.86 L1307.26,387.86 L1307.26,385.74 L1312.56,385.74 L1312.56,387.86 L1319.98,387.86 L1319.98,382.03 L1323.17,382.03 L1323.17,375.13 L1326.35,375.13 L1326.35,371.95 L1329.53,371.95 L1329.53,367.18 L1332.71,367.18 L1332.71,362.41 L1336.95,362.41 L1336.95,358.7 L1342.25,358.7 L1342.25,349.68 L1346.5,349.68 L1346.5,344.38 L1350.74,344.38 L1350.74,345.97 L1354.98,345.97 L1354.98,351.8 L1359.22,351.8 L1359.22,353.92 L1363.46,353.92 L1363.46,349.68 L1369.83,349.68 L1369.83,351.27 L1374.07,351.27 L1374.07,352.33 L1381.4,352.33 L1381.4,340.81 L1388.38,340.81 L1388.38,329.78 L1393.9,329.78 L1393.9,316.91 L1399.41,316.91 L1399.41,294.85 L1403.09,294.85 L1403.09,274.63 L1407.68,274.63 L1407.68,246.14 L1410.44,246.14 L1410.44,196.51 L1415.04,196.51 L1415.04,145.04 L1417.79,145.04 L1417.79,137.68 L1421.47,137.68 L1421.47,135.85 L1430.66,135.85 L1430.66,125.74 L1436.18,125.74 L1436.18,133.09 L1440.77,133.09 L1440.77,141.36 L1445.37,141.36 L1445.37,152.39 L1449.04,152.39 L1449.04,170.77 L1453.64,170.77 L1453.64,193.75 L1457.32,193.75 L1457.32,230.51 L1460.99,230.51 L1460.99,267.28 L1465.59,267.28 L1465.59,294.85 L1470.18,294.85 L1470.18,313.24 L1474.78,313.24 L1474.78,327.94 L1479.38,327.94 L1479.38,338.97 L1483.99,338.97 L1483.99,343.89 L1486.82,343.89 L1486.82,349.85 L1491.29,349.85 L1491.29,361.76 L1495.76,361.76 L1495.76,373.68 L1498.74,373.68 L1498.74,379.64 L1503.21,379.64 L1503.21,383.37 L1507.68,383.37 L1507.68,387.84 L1513.64,387.84 L1513.64,388.58 L1516.62,388.58 L1516.62,385.6 L1521.08,385.6 L1521.08,378.15 L1525.55,378.15 L1525.55,366.23 L1530.02,366.23 L1530.02,352.82 L1534.49,352.82 L1534.49,345.38 L1538.96,345.38 L1538.96,331.97 L1542.69,331.97 L1542.69,317.07 L1546.41,317.07 L1546.41,311.11 L1551.63,311.11 L1551.63,320.79 L1555.35,320.79 L1555.35,323.77 L1564.29,323.77 L1564.29,326.01 L1570.25,326.01 L1570.25,333.46 L1576.21,333.46 L1576.21,345.38 L1580.68,345.38 L1580.68,354.31 L1585.15,354.31 L1585.15,368.47 L1589.62,368.47 L1589.62,382.62 L1594.09,382.62 L1594.09,387.84 L1603.03,387.84 L1603.03,391.56 L1610.48,391.56 L1610.48,392.31 L1617.93,392.31 L1617.93,391.56 L1622.4,391.56 L1622.4,397.52 L1625.38,397.52 L1625.38,391.42 Z" fill="#e9e9e9" stroke="none"/>
<line x1="1220.8" y1="391.42" x2="1625.5" y2="391.42" stroke="#e0e0e0" stroke-width="2.6"/>
<path d="M1222.42,376.72 L1228.79,376.72 L1228.79,383.62 L1232.5,383.62 L1232.5,378.84 L1241.51,378.84 L1241.51,376.19 L1246.81,376.19 L1246.81,377.78 L1252.12,377.78 L1252.12,379.9 L1260.6,379.9 L1260.6,376.72 L1265.9,376.72 L1265.9,379.37 L1274.38,379.37 L1274.38,376.72 L1278.63,376.72 L1278.63,387.33 L1283.93,387.33 L1283.93,384.68 L1289.23,384.68 L1289.23,383.62 L1295.59,383.62 L1295.59,385.21 L1299.84,385.21 L1299.84,387.86 L1307.26,387.86 L1307.26,385.74 L1312.56,385.74 L1312.56,387.86 L1319.98,387.86 L1319.98,382.03 L1323.17,382.03 L1323.17,375.13 L1326.35,375.13 L1326.35,371.95 L1329.53,371.95 L1329.53,367.18 L1332.71,367.18 L1332.71,362.41 L1336.95,362.41 L1336.95,358.7 L1342.25,358.7 L1342.25,349.68 L1346.5,349.68 L1346.5,344.38 L1350.74,344.38 L1350.74,345.97 L1354.98,345.97 L1354.98,351.8 L1359.22,351.8 L1359.22,353.92 L1363.46,353.92 L1363.46,349.68 L1369.83,349.68 L1369.83,351.27 L1374.07,351.27 L1374.07,352.33 L1381.4,352.33 L1381.4,340.81 L1388.38,340.81 L1388.38,329.78 L1393.9,329.78 L1393.9,316.91 L1399.41,316.91 L1399.41,294.85 L1403.09,294.85 L1403.09,274.63 L1407.68,274.63 L1407.68,246.14 L1410.44,246.14 L1410.44,196.51 L1415.04,196.51 L1415.04,145.04 L1417.79,145.04 L1417.79,137.68 L1421.47,137.68 L1421.47,135.85 L1430.66,135.85 L1430.66,125.74 L1436.18,125.74 L1436.18,133.09 L1440.77,133.09 L1440.77,141.36 L1445.37,141.36 L1445.37,152.39 L1449.04,152.39 L1449.04,170.77 L1453.64,170.77 L1453.64,193.75 L1457.32,193.75 L1457.32,230.51 L1460.99,230.51 L1460.99,267.28 L1465.59,267.28 L1465.59,294.85 L1470.18,294.85 L1470.18,313.24 L1474.78,313.24 L1474.78,327.94 L1479.38,327.94 L1479.38,338.97 L1483.99,338.97 L1483.99,343.89 L1486.82,343.89 L1486.82,349.85 L1491.29,349.85 L1491.29,361.76 L1495.76,361.76 L1495.76,373.68 L1498.74,373.68 L1498.74,379.64 L1503.21,379.64 L1503.21,383.37 L1507.68,383.37 L1507.68,387.84 L1513.64,387.84 L1513.64,388.58 L1516.62,388.58 L1516.62,385.6 L1521.08,385.6 L1521.08,378.15 L1525.55,378.15 L1525.55,366.23 L1530.02,366.23 L1530.02,352.82 L1534.49,352.82 L1534.49,345.38 L1538.96,345.38 L1538.96,331.97 L1542.69,331.97 L1542.69,317.07 L1546.41,317.07 L1546.41,311.11 L1551.63,311.11 L1551.63,320.79 L1555.35,320.79 L1555.35,323.77 L1564.29,323.77 L1564.29,326.01 L1570.25,326.01 L1570.25,333.46 L1576.21,333.46 L1576.21,345.38 L1580.68,345.38 L1580.68,354.31 L1585.15,354.31 L1585.15,368.47 L1589.62,368.47 L1589.62,382.62 L1594.09,382.62 L1594.09,387.84 L1603.03,387.84 L1603.03,391.56 L1610.48,391.56 L1610.48,392.31 L1617.93,392.31 L1617.93,391.56 L1622.4,391.56 L1622.4,397.52 L1625.38,397.52" fill="none" stroke="#000" stroke-width="3.6" stroke-linejoin="miter" stroke-linecap="square"/>
<path d="M1218.8,384 L1219.8,383.84 L1220.8,383.67 L1221.8,383.51 L1222.8,383.34 L1223.8,383.17 L1224.8,382.99 L1225.8,382.81 L1226.8,382.63 L1227.8,382.45 L1228.8,382.26 L1229.8,382.06 L1230.8,381.86 L1231.8,381.66 L1232.8,381.44 L1233.8,381.22 L1234.8,380.99 L1235.8,380.75 L1236.8,380.49 L1237.8,380.23 L1238.8,379.95 L1239.8,379.66 L1240.8,379.35 L1241.8,379.02 L1242.8,378.68 L1243.8,378.31 L1244.8,377.93 L1245.8,377.52 L1246.8,377.08 L1247.8,376.63 L1248.8,376.14 L1249.8,375.63 L1250.8,375.08 L1251.8,374.51 L1252.8,373.91 L1253.8,373.27 L1254.8,372.61 L1255.8,371.91 L1256.8,371.18 L1257.8,370.42 L1258.8,369.62 L1259.8,368.8 L1260.8,367.95 L1261.8,367.07 L1262.8,366.16 L1263.8,365.24 L1264.8,364.29 L1265.8,363.33 L1266.8,362.35 L1267.8,361.37 L1268.8,360.38 L1269.8,359.38 L1270.8,358.4 L1271.8,357.42 L1272.8,356.45 L1273.8,355.51 L1274.8,354.59 L1275.8,353.7 L1276.8,352.85 L1277.8,352.03 L1278.8,351.27 L1279.8,350.56 L1280.8,349.91 L1281.8,349.32 L1282.8,348.79 L1283.8,348.34 L1284.8,347.96 L1285.8,347.66 L1286.8,347.44 L1287.8,347.3 L1288.8,347.25 L1289.8,347.28 L1290.8,347.4 L1291.8,347.6 L1292.8,347.89 L1293.8,348.26 L1294.8,348.71 L1295.8,349.23 L1296.8,349.83 L1297.8,350.51 L1298.8,351.25 L1299.8,352.05 L1300.8,352.91 L1301.8,353.82 L1302.8,354.77 L1303.8,355.77 L1304.8,356.8 L1305.8,357.86 L1306.8,358.94 L1307.8,360.04 L1308.8,361.15 L1309.8,362.26 L1310.8,363.38 L1311.8,364.48 L1312.8,365.57 L1313.8,366.65 L1314.8,367.7 L1315.8,368.73 L1316.8,369.72 L1317.8,370.67 L1318.8,371.59 L1319.8,372.46 L1320.8,373.29 L1321.8,374.06 L1322.8,374.78 L1323.8,375.45 L1324.8,376.05 L1325.8,376.6 L1326.8,377.08 L1327.8,377.5 L1328.8,377.86 L1329.8,378.15 L1330.8,378.37 L1331.8,378.52 L1332.8,378.61 L1333.8,378.63 L1334.8,378.59 L1335.8,378.48 L1336.8,378.31 L1337.8,378.07 L1338.8,377.78 L1339.8,377.44 L1340.8,377.04 L1341.8,376.59 L1342.8,376.11 L1343.8,375.58 L1344.8,375.02 L1345.8,374.43 L1346.8,373.83 L1347.8,373.2 L1348.8,372.57 L1349.8,371.94 L1350.8,371.31 L1351.8,370.68 L1352.8,370.08 L1353.8,369.49 L1354.8,368.93 L1355.8,368.4 L1356.8,367.9 L1357.8,367.44 L1358.8,367.01 L1359.8,366.62 L1360.8,366.26 L1361.8,365.94 L1362.8,365.64 L1363.8,365.38 L1364.8,365.13 L1365.8,364.89 L1366.8,364.65 L1367.8,364.41 L1368.8,364.16 L1369.8,363.87 L1370.8,363.55 L1371.8,363.17 L1372.8,362.72 L1373.8,362.19 L1374.8,361.56 L1375.8,360.83 L1376.8,359.96 L1377.8,358.96 L1378.8,357.8 L1379.8,356.47 L1380.8,354.97 L1381.8,353.26 L1382.8,351.35 L1383.8,349.23 L1384.8,346.88 L1385.8,344.29 L1386.8,341.47 L1387.8,338.39 L1388.8,335.07 L1389.8,331.49 L1390.8,327.66 L1391.8,323.57 L1392.8,319.23 L1393.8,314.64 L1394.8,309.81 L1395.8,304.74 L1396.8,299.45 L1397.8,293.94 L1398.8,288.23 L1399.8,282.34 L1400.8,276.27 L1401.8,270.04 L1402.8,263.68 L1403.8,257.21 L1404.8,250.65 L1405.8,244.01 L1406.8,237.34 L1407.8,230.64 L1408.8,223.95 L1409.8,217.3 L1410.8,210.71 L1411.8,204.21 L1412.8,197.84 L1413.8,191.6 L1414.8,185.55 L1415.8,179.69 L1416.8,174.07 L1417.8,168.7 L1418.8,163.61 L1419.8,158.82 L1420.8,154.36 L1421.8,150.24 L1422.8,146.49 L1423.8,143.12 L1424.8,140.14 L1425.8,137.57 L1426.8,135.42 L1427.8,133.7 L1428.8,132.41 L1429.8,131.56 L1430.8,131.14 L1431.8,131.16 L1432.8,131.62 L1433.8,132.5 L1434.8,133.8 L1435.8,135.51 L1436.8,137.62 L1437.8,140.12 L1438.8,142.98 L1439.8,146.2 L1440.8,149.76 L1441.8,153.63 L1442.8,157.79 L1443.8,162.23 L1444.8,166.92 L1445.8,171.84 L1446.8,176.96 L1447.8,182.27 L1448.8,187.72 L1449.8,193.31 L1450.8,199.01 L1451.8,204.79 L1452.8,210.63 L1453.8,216.51 L1454.8,222.4 L1455.8,228.28 L1456.8,234.14 L1457.8,239.96 L1458.8,245.71 L1459.8,251.38 L1460.8,256.96 L1461.8,262.44 L1462.8,267.79 L1463.8,273.02 L1464.8,278.11 L1465.8,283.06 L1466.8,287.86 L1467.8,292.51 L1468.8,297.01 L1469.8,301.35 L1470.8,305.55 L1471.8,309.59 L1472.8,313.48 L1473.8,317.23 L1474.8,320.84 L1475.8,324.31 L1476.8,327.65 L1477.8,330.87 L1478.8,333.97 L1479.8,336.94 L1480.8,339.81 L1481.8,342.57 L1482.8,345.23 L1483.8,347.78 L1484.8,350.24 L1485.8,352.6 L1486.8,354.86 L1487.8,357.03 L1488.8,359.11 L1489.8,361.1 L1490.8,362.99 L1491.8,364.79 L1492.8,366.5 L1493.8,368.11 L1494.8,369.63 L1495.8,371.05 L1496.8,372.37 L1497.8,373.59 L1498.8,374.72 L1499.8,375.74 L1500.8,376.66 L1501.8,377.49 L1502.8,378.21 L1503.8,378.84 L1504.8,379.36 L1505.8,379.79 L1506.8,380.11 L1507.8,380.34 L1508.8,380.47 L1509.8,380.51 L1510.8,380.45 L1511.8,380.29 L1512.8,380.04 L1513.8,379.7 L1514.8,379.26 L1515.8,378.73 L1516.8,378.11 L1517.8,377.4 L1518.8,376.6 L1519.8,375.71 L1520.8,374.74 L1521.8,373.67 L1522.8,372.52 L1523.8,371.29 L1524.8,369.98 L1525.8,368.59 L1526.8,367.13 L1527.8,365.6 L1528.8,364 L1529.8,362.34 L1530.8,360.63 L1531.8,358.87 L1532.8,357.07 L1533.8,355.23 L1534.8,353.37 L1535.8,351.5 L1536.8,349.62 L1537.8,347.74 L1538.8,345.88 L1539.8,344.04 L1540.8,342.24 L1541.8,340.49 L1542.8,338.8 L1543.8,337.18 L1544.8,335.64 L1545.8,334.19 L1546.8,332.85 L1547.8,331.62 L1548.8,330.51 L1549.8,329.53 L1550.8,328.69 L1551.8,328 L1552.8,327.45 L1553.8,327.06 L1554.8,326.83 L1555.8,326.76 L1556.8,326.85 L1557.8,327.1 L1558.8,327.51 L1559.8,328.08 L1560.8,328.8 L1561.8,329.66 L1562.8,330.66 L1563.8,331.8 L1564.8,333.06 L1565.8,334.44 L1566.8,335.92 L1567.8,337.5 L1568.8,339.17 L1569.8,340.9 L1570.8,342.7 L1571.8,344.55 L1572.8,346.44 L1573.8,348.36 L1574.8,350.29 L1575.8,352.23 L1576.8,354.17 L1577.8,356.09 L1578.8,358 L1579.8,359.87 L1580.8,361.7 L1581.8,363.49 L1582.8,365.22 L1583.8,366.9 L1584.8,368.52 L1585.8,370.07 L1586.8,371.56 L1587.8,372.97 L1588.8,374.31 L1589.8,375.58 L1590.8,376.78 L1591.8,377.9 L1592.8,378.94 L1593.8,379.92 L1594.8,380.83 L1595.8,381.67 L1596.8,382.44 L1597.8,383.16 L1598.8,383.81 L1599.8,384.4 L1600.8,384.94 L1601.8,385.43 L1602.8,385.87 L1603.8,386.27 L1604.8,386.62 L1605.8,386.94 L1606.8,387.22 L1607.8,387.47 L1608.8,387.69 L1609.8,387.88 L1610.8,388.05 L1611.8,388.2 L1612.8,388.32 L1613.8,388.43 L1614.8,388.52 L1615.8,388.6 L1616.8,388.66 L1617.8,388.72 L1618.8,388.76 L1619.8,388.79 L1620.8,388.82 L1621.8,388.85 L1622.8,388.86 L1623.8,388.88 L1624.8,388.88 L1625.8,388.89 L1626.8,388.89" fill="none" stroke="#1f77b4" stroke-width="3.0" stroke-linejoin="round"/>
<path d="M1218.8,391.42 L1219.8,391.42 L1220.8,391.42 L1221.8,391.42 L1222.8,391.42 L1223.8,391.42 L1224.8,391.42 L1225.8,391.42 L1226.8,391.42 L1227.8,391.42 L1228.8,391.42 L1229.8,391.42 L1230.8,391.42 L1231.8,391.42 L1232.8,391.42 L1233.8,391.42 L1234.8,391.42 L1235.8,391.42 L1236.8,391.42 L1237.8,391.42 L1238.8,391.42 L1239.8,391.42 L1240.8,391.42 L1241.8,391.42 L1242.8,391.42 L1243.8,391.42 L1244.8,391.42 L1245.8,391.42 L1246.8,391.42 L1247.8,391.42 L1248.8,391.42 L1249.8,391.42 L1250.8,391.42 L1251.8,391.42 L1252.8,391.42 L1253.8,391.42 L1254.8,391.42 L1255.8,391.42 L1256.8,391.42 L1257.8,391.42 L1258.8,391.42 L1259.8,391.42 L1260.8,391.42 L1261.8,391.42 L1262.8,391.42 L1263.8,391.42 L1264.8,391.42 L1265.8,391.42 L1266.8,391.42 L1267.8,391.42 L1268.8,391.42 L1269.8,391.42 L1270.8,391.42 L1271.8,391.42 L1272.8,391.42 L1273.8,391.42 L1274.8,391.42 L1275.8,391.42 L1276.8,391.42 L1277.8,391.42 L1278.8,391.42 L1279.8,391.42 L1280.8,391.42 L1281.8,391.42 L1282.8,391.42 L1283.8,391.42 L1284.8,391.42 L1285.8,391.42 L1286.8,391.42 L1287.8,391.42 L1288.8,391.42 L1289.8,391.42 L1290.8,391.42 L1291.8,391.42 L1292.8,391.42 L1293.8,391.42 L1294.8,391.42 L1295.8,391.42 L1296.8,391.42 L1297.8,391.42 L1298.8,391.42 L1299.8,391.42 L1300.8,391.42 L1301.8,391.42 L1302.8,391.42 L1303.8,391.42 L1304.8,391.42 L1305.8,391.42 L1306.8,391.42 L1307.8,391.42 L1308.8,391.42 L1309.8,391.42 L1310.8,391.42 L1311.8,391.42 L1312.8,391.41 L1313.8,391.41 L1314.8,391.41 L1315.8,391.41 L1316.8,391.41 L1317.8,391.41 L1318.8,391.41 L1319.8,391.41 L1320.8,391.41 L1321.8,391.41 L1322.8,391.41 L1323.8,391.41 L1324.8,391.41 L1325.8,391.41 L1326.8,391.41 L1327.8,391.41 L1328.8,391.4 L1329.8,391.4 L1330.8,391.4 L1331.8,391.39 L1332.8,391.39 L1333.8,391.38 L1334.8,391.38 L1335.8,391.37 L1336.8,391.36 L1337.8,391.35 L1338.8,391.33 L1339.8,391.32 L1340.8,391.3 L1341.8,391.28 L1342.8,391.25 L1343.8,391.22 L1344.8,391.18 L1345.8,391.14 L1346.8,391.09 L1347.8,391.04 L1348.8,390.97 L1349.8,390.9 L1350.8,390.81 L1351.8,390.71 L1352.8,390.6 L1353.8,390.47 L1354.8,390.32 L1355.8,390.14 L1356.8,389.95 L1357.8,389.73 L1358.8,389.47 L1359.8,389.19 L1360.8,388.86 L1361.8,388.5 L1362.8,388.09 L1363.8,387.63 L1364.8,387.12 L1365.8,386.54 L1366.8,385.9 L1367.8,385.19 L1368.8,384.4 L1369.8,383.53 L1370.8,382.56 L1371.8,381.49 L1372.8,380.32 L1373.8,379.04 L1374.8,377.63 L1375.8,376.09 L1376.8,374.42 L1377.8,372.6 L1378.8,370.63 L1379.8,368.49 L1380.8,366.19 L1381.8,363.7 L1382.8,361.04 L1383.8,358.18 L1384.8,355.13 L1385.8,351.87 L1386.8,348.41 L1387.8,344.73 L1388.8,340.85 L1389.8,336.74 L1390.8,332.42 L1391.8,327.89 L1392.8,323.14 L1393.8,318.18 L1394.8,313.01 L1395.8,307.65 L1396.8,302.1 L1397.8,296.36 L1398.8,290.46 L1399.8,284.4 L1400.8,278.2 L1401.8,271.88 L1402.8,265.46 L1403.8,258.95 L1404.8,252.39 L1405.8,245.78 L1406.8,239.16 L1407.8,232.56 L1408.8,225.99 L1409.8,219.49 L1410.8,213.1 L1411.8,206.82 L1412.8,200.71 L1413.8,194.78 L1414.8,189.07 L1415.8,183.6 L1416.8,178.4 L1417.8,173.51 L1418.8,168.94 L1419.8,164.73 L1420.8,160.89 L1421.8,157.45 L1422.8,154.42 L1423.8,151.84 L1424.8,149.7 L1425.8,148.02 L1426.8,146.82 L1427.8,146.09 L1428.8,145.85 L1429.8,146.09 L1430.8,146.82 L1431.8,148.02 L1432.8,149.7 L1433.8,151.84 L1434.8,154.42 L1435.8,157.45 L1436.8,160.89 L1437.8,164.73 L1438.8,168.94 L1439.8,173.51 L1440.8,178.4 L1441.8,183.6 L1442.8,189.07 L1443.8,194.78 L1444.8,200.71 L1445.8,206.82 L1446.8,213.1 L1447.8,219.49 L1448.8,225.99 L1449.8,232.56 L1450.8,239.16 L1451.8,245.78 L1452.8,252.39 L1453.8,258.95 L1454.8,265.46 L1455.8,271.88 L1456.8,278.2 L1457.8,284.4 L1458.8,290.46 L1459.8,296.36 L1460.8,302.1 L1461.8,307.65 L1462.8,313.01 L1463.8,318.18 L1464.8,323.14 L1465.8,327.89 L1466.8,332.42 L1467.8,336.74 L1468.8,340.85 L1469.8,344.73 L1470.8,348.41 L1471.8,351.87 L1472.8,355.13 L1473.8,358.18 L1474.8,361.04 L1475.8,363.7 L1476.8,366.19 L1477.8,368.49 L1478.8,370.63 L1479.8,372.6 L1480.8,374.42 L1481.8,376.09 L1482.8,377.63 L1483.8,379.04 L1484.8,380.32 L1485.8,381.49 L1486.8,382.56 L1487.8,383.53 L1488.8,384.4 L1489.8,385.19 L1490.8,385.9 L1491.8,386.54 L1492.8,387.12 L1493.8,387.63 L1494.8,388.09 L1495.8,388.5 L1496.8,388.86 L1497.8,389.19 L1498.8,389.47 L1499.8,389.73 L1500.8,389.95 L1501.8,390.14 L1502.8,390.32 L1503.8,390.47 L1504.8,390.6 L1505.8,390.71 L1506.8,390.81 L1507.8,390.9 L1508.8,390.97 L1509.8,391.04 L1510.8,391.09 L1511.8,391.14 L1512.8,391.18 L1513.8,391.22 L1514.8,391.25 L1515.8,391.28 L1516.8,391.3 L1517.8,391.32 L1518.8,391.33 L1519.8,391.35 L1520.8,391.36 L1521.8,391.37 L1522.8,391.38 L1523.8,391.38 L1524.8,391.39 L1525.8,391.39 L1526.8,391.4 L1527.8,391.4 L1528.8,391.4 L1529.8,391.41 L1530.8,391.41 L1531.8,391.41 L1532.8,391.41 L1533.8,391.41 L1534.8,391.41 L1535.8,391.41 L1536.8,391.41 L1537.8,391.41 L1538.8,391.41 L1539.8,391.41 L1540.8,391.41 L1541.8,391.41 L1542.8,391.41 L1543.8,391.41 L1544.8,391.41 L1545.8,391.42 L1546.8,391.42 L1547.8,391.42 L1548.8,391.42 L1549.8,391.42 L1550.8,391.42 L1551.8,391.42 L1552.8,391.42 L1553.8,391.42 L1554.8,391.42 L1555.8,391.42 L1556.8,391.42 L1557.8,391.42 L1558.8,391.42 L1559.8,391.42 L1560.8,391.42 L1561.8,391.42 L1562.8,391.42 L1563.8,391.42 L1564.8,391.42 L1565.8,391.42 L1566.8,391.42 L1567.8,391.42 L1568.8,391.42 L1569.8,391.42 L1570.8,391.42 L1571.8,391.42 L1572.8,391.42 L1573.8,391.42 L1574.8,391.42 L1575.8,391.42 L1576.8,391.42 L1577.8,391.42 L1578.8,391.42 L1579.8,391.42 L1580.8,391.42 L1581.8,391.42 L1582.8,391.42 L1583.8,391.42 L1584.8,391.42 L1585.8,391.42 L1586.8,391.42 L1587.8,391.42 L1588.8,391.42 L1589.8,391.42 L1590.8,391.42 L1591.8,391.42 L1592.8,391.42 L1593.8,391.42 L1594.8,391.42 L1595.8,391.42 L1596.8,391.42 L1597.8,391.42 L1598.8,391.42 L1599.8,391.42 L1600.8,391.42 L1601.8,391.42 L1602.8,391.42 L1603.8,391.42 L1604.8,391.42 L1605.8,391.42 L1606.8,391.42 L1607.8,391.42 L1608.8,391.42 L1609.8,391.42 L1610.8,391.42 L1611.8,391.42 L1612.8,391.42 L1613.8,391.42 L1614.8,391.42 L1615.8,391.42 L1616.8,391.42 L1617.8,391.42 L1618.8,391.42 L1619.8,391.42 L1620.8,391.42 L1621.8,391.42 L1622.8,391.42 L1623.8,391.42 L1624.8,391.42 L1625.8,391.42 L1626.8,391.42" fill="none" stroke="#d62728" stroke-width="3.0" stroke-linejoin="round"/>
</g>
<text transform="translate(1296.1,336) rotate(-90)" class="l"><tspan x="0" y="-0" style="font-size:23px">H</tspan><tspan x="17.29" y="-0" style="font-size:23px">C</tspan><tspan x="33.35" y="-0" style="font-size:23px">C</tspan><tspan x="49.41" y="-0" style="font-size:23px">C</tspan><tspan x="65.47" y="-0" style="font-size:23px">C</tspan><tspan x="81.75" y="-8.8" style="font-size:16.1px">1</tspan><tspan x="92" y="-8.8" style="font-size:16.1px">3</tspan><tspan x="102.87" y="-0" style="font-size:23px">C</tspan><tspan x="118.93" y="-0" style="font-size:23px">N</tspan></text>
<text transform="translate(1361.3,335.8) rotate(-90)" class="l"><tspan x="0" y="-0" style="font-size:23px">C</tspan><tspan x="16.28" y="3.77" style="font-size:16.1px">2</tspan><tspan x="27.15" y="-0" style="font-size:23px">H</tspan><tspan x="44.67" y="3.77" style="font-size:16.1px">3</tspan><tspan x="55.54" y="-0" style="font-size:23px">C</tspan><tspan x="71.6" y="-0" style="font-size:23px">N</tspan></text>
<text transform="translate(1469.6,213.6) rotate(-90)" class="l"><tspan x="0" y="-0" style="font-size:23px">C</tspan><tspan x="16.28" y="3.77" style="font-size:16.1px">2</tspan><tspan x="27.15" y="-0" style="font-size:23px">H</tspan><tspan x="44.67" y="3.77" style="font-size:16.1px">3</tspan><tspan x="55.54" y="-0" style="font-size:23px">C</tspan><tspan x="71.6" y="-0" style="font-size:23px">N</tspan></text>
<text transform="translate(1559.1,301.4) rotate(-90)" class="l"><tspan x="0" y="-0" style="font-size:23px">C</tspan><tspan x="16.28" y="3.77" style="font-size:16.1px">2</tspan><tspan x="27.15" y="-0" style="font-size:23px">H</tspan><tspan x="44.67" y="3.77" style="font-size:16.1px">3</tspan><tspan x="55.54" y="-0" style="font-size:23px">C</tspan><tspan x="71.6" y="-0" style="font-size:23px">N</tspan></text>
<rect x="1220.8" y="18.4" width="404.7" height="404.1" fill="none" stroke="#000" stroke-width="2.6"/>
<path d="M1215.3,422.5H1220.8M1625.5,422.5H1631" stroke="#000" stroke-width="2.0"/>
<path d="M1215.3,406.96H1220.8M1625.5,406.96H1631" stroke="#000" stroke-width="2.0"/>
<path d="M1206,391.42H1220.8M1625.5,391.42H1640.3" stroke="#000" stroke-width="2.6"/>
<text x="1196" y="406.02" text-anchor="end" class="t">0</text>
<path d="M1215.3,375.87H1220.8M1625.5,375.87H1631" stroke="#000" stroke-width="2.0"/>
<path d="M1215.3,360.33H1220.8M1625.5,360.33H1631" stroke="#000" stroke-width="2.0"/>
<path d="M1215.3,344.79H1220.8M1625.5,344.79H1631" stroke="#000" stroke-width="2.0"/>
<path d="M1215.3,329.25H1220.8M1625.5,329.25H1631" stroke="#000" stroke-width="2.0"/>
<path d="M1206,313.7H1220.8M1625.5,313.7H1640.3" stroke="#000" stroke-width="2.6"/>
<text x="1196" y="328.3" text-anchor="end" class="t">25</text>
<path d="M1215.3,298.16H1220.8M1625.5,298.16H1631" stroke="#000" stroke-width="2.0"/>
<path d="M1215.3,282.62H1220.8M1625.5,282.62H1631" stroke="#000" stroke-width="2.0"/>
<path d="M1215.3,267.08H1220.8M1625.5,267.08H1631" stroke="#000" stroke-width="2.0"/>
<path d="M1215.3,251.53H1220.8M1625.5,251.53H1631" stroke="#000" stroke-width="2.0"/>
<path d="M1206,235.99H1220.8M1625.5,235.99H1640.3" stroke="#000" stroke-width="2.6"/>
<text x="1196" y="250.59" text-anchor="end" class="t">50</text>
<path d="M1215.3,220.45H1220.8M1625.5,220.45H1631" stroke="#000" stroke-width="2.0"/>
<path d="M1215.3,204.91H1220.8M1625.5,204.91H1631" stroke="#000" stroke-width="2.0"/>
<path d="M1215.3,189.37H1220.8M1625.5,189.37H1631" stroke="#000" stroke-width="2.0"/>
<path d="M1215.3,173.82H1220.8M1625.5,173.82H1631" stroke="#000" stroke-width="2.0"/>
<path d="M1206,158.28H1220.8M1625.5,158.28H1640.3" stroke="#000" stroke-width="2.6"/>
<text x="1196" y="172.88" text-anchor="end" class="t">75</text>
<path d="M1215.3,142.74H1220.8M1625.5,142.74H1631" stroke="#000" stroke-width="2.0"/>
<path d="M1215.3,127.2H1220.8M1625.5,127.2H1631" stroke="#000" stroke-width="2.0"/>
<path d="M1215.3,111.65H1220.8M1625.5,111.65H1631" stroke="#000" stroke-width="2.0"/>
<path d="M1215.3,96.11H1220.8M1625.5,96.11H1631" stroke="#000" stroke-width="2.0"/>
<path d="M1206,80.57H1220.8M1625.5,80.57H1640.3" stroke="#000" stroke-width="2.6"/>
<text x="1196" y="95.17" text-anchor="end" class="t">100</text>
<path d="M1215.3,65.03H1220.8M1625.5,65.03H1631" stroke="#000" stroke-width="2.0"/>
<path d="M1215.3,49.48H1220.8M1625.5,49.48H1631" stroke="#000" stroke-width="2.0"/>
<path d="M1215.3,33.94H1220.8M1625.5,33.94H1631" stroke="#000" stroke-width="2.0"/>
<path d="M1215.3,18.4H1220.8M1625.5,18.4H1631" stroke="#000" stroke-width="2.0"/>
<path d="M1264.4,422.5V437.3M1264.4,3.6V18.4" stroke="#000" stroke-width="2.6"/>
<text x="1264.4" y="477.8" text-anchor="middle" class="t">94.900</text>
<path d="M1472.7,422.5V437.3M1472.7,3.6V18.4" stroke="#000" stroke-width="2.6"/>
<text x="1472.7" y="477.8" text-anchor="middle" class="t">94.930</text>
<path d="M1316.48,422.5V428M1316.48,12.9V18.4" stroke="#000" stroke-width="2.0"/>
<path d="M1368.55,422.5V428M1368.55,12.9V18.4" stroke="#000" stroke-width="2.0"/>
<path d="M1420.62,422.5V428M1420.62,12.9V18.4" stroke="#000" stroke-width="2.0"/>
<path d="M1524.78,422.5V428M1524.78,12.9V18.4" stroke="#000" stroke-width="2.0"/>
<path d="M1576.85,422.5V428M1576.85,12.9V18.4" stroke="#000" stroke-width="2.0"/>
<clipPath id="c4"><rect x="1746.2" y="18.4" width="404.3" height="404.1"/></clipPath>
<g clip-path="url(#c4)">
<path d="M1747.43,391.42 L1747.43,387.61 L1758.58,387.61 L1758.58,389.47 L1763.23,389.47 L1763.23,383.89 L1769.73,383.89 L1769.73,394.11 L1779.03,394.11 L1779.03,395.04 L1788.32,395.04 L1788.32,396.9 L1795.75,396.9 L1795.75,387.61 L1799.47,387.61 L1799.47,383.89 L1805.04,383.89 L1805.04,380.17 L1811.55,380.17 L1811.55,372.74 L1818.05,372.74 L1818.05,380.17 L1821.77,380.17 L1821.77,383.89 L1831.06,383.89 L1831.06,385.75 L1840.35,385.75 L1840.35,380.17 L1844.07,380.17 L1844.07,369.95 L1847.79,369.95 L1847.79,365.31 L1858.01,365.31 L1858.01,341.15 L1862.65,341.15 L1862.65,319.78 L1867.3,319.78 L1867.3,297.48 L1871.95,297.48 L1871.95,276.1 L1875.66,276.1 L1875.66,258.45 L1879.38,258.45 L1879.38,239.87 L1888.67,239.87 L1888.67,236.15 L1894.25,236.15 L1894.25,246.37 L1899.82,246.37 L1899.82,261.24 L1903.54,261.24 L1903.54,268.67 L1912.83,268.67 L1912.83,272.39 L1920.26,272.39 L1920.26,274.25 L1925.84,274.25 L1925.84,255.66 L1933.27,255.66 L1933.27,235.22 L1936.99,235.22 L1936.99,196.19 L1940.78,196.19 L1940.78,148.8 L1947.65,148.8 L1947.65,155.3 L1950.44,155.3 L1950.44,159.95 L1954.15,159.95 L1954.15,164.59 L1957.87,164.59 L1957.87,171.1 L1961.59,171.1 L1961.59,175.74 L1964.37,175.74 L1964.37,190.61 L1968.09,190.61 L1968.09,207.33 L1971.81,207.33 L1971.81,221.26 L1975.52,221.26 L1975.52,243.56 L1979.24,243.56 L1979.24,274.22 L1982.95,274.22 L1982.95,294.66 L1986.67,294.66 L1986.67,308.59 L1991.32,308.59 L1991.32,328.1 L1995.03,328.1 L1995.03,340.18 L1999.68,340.18 L1999.68,357.83 L2003.39,357.83 L2003.39,363.4 L2008.04,363.4 L2008.04,370.84 L2012.68,370.84 L2012.68,379.2 L2017.33,379.2 L2017.33,394.99 L2022.9,394.99 L2022.9,391.27 L2028.48,391.27 L2028.48,392.2 L2035.91,392.2 L2035.91,393.13 L2043.34,393.13 L2043.34,396.85 L2048.91,396.85 L2048.91,393.13 L2056.35,393.13 L2056.35,391.27 L2063.78,391.27 L2063.78,394.99 L2069.35,394.99 L2069.35,391.27 L2073.07,391.27 L2073.07,381.06 L2080.5,381.06 L2080.5,378.27 L2086.08,378.27 L2086.08,383.84 L2091.65,383.84 L2091.65,394.06 L2102.8,394.06 L2102.8,397.78 L2108.37,397.78 L2108.37,394.06 L2117.66,394.06 L2117.66,397.78 L2125.09,397.78 L2125.09,394.99 L2129.74,394.99 L2129.74,408 L2134.38,408 L2134.38,406.14 L2139.96,406.14 L2139.96,409.86 L2145.53,409.86 L2145.53,415.43 L2152.97,415.43 L2152.97,391.42 Z" fill="#e9e9e9" stroke="none"/>
<line x1="1746.2" y1="391.42" x2="2150.5" y2="391.42" stroke="#e0e0e0" stroke-width="2.6"/>
<path d="M1747.43,387.61 L1758.58,387.61 L1758.58,389.47 L1763.23,389.47 L1763.23,383.89 L1769.73,383.89 L1769.73,394.11 L1779.03,394.11 L1779.03,395.04 L1788.32,395.04 L1788.32,396.9 L1795.75,396.9 L1795.75,387.61 L1799.47,387.61 L1799.47,383.89 L1805.04,383.89 L1805.04,380.17 L1811.55,380.17 L1811.55,372.74 L1818.05,372.74 L1818.05,380.17 L1821.77,380.17 L1821.77,383.89 L1831.06,383.89 L1831.06,385.75 L1840.35,385.75 L1840.35,380.17 L1844.07,380.17 L1844.07,369.95 L1847.79,369.95 L1847.79,365.31 L1858.01,365.31 L1858.01,341.15 L1862.65,341.15 L1862.65,319.78 L1867.3,319.78 L1867.3,297.48 L1871.95,297.48 L1871.95,276.1 L1875.66,276.1 L1875.66,258.45 L1879.38,258.45 L1879.38,239.87 L1888.67,239.87 L1888.67,236.15 L1894.25,236.15 L1894.25,246.37 L1899.82,246.37 L1899.82,261.24 L1903.54,261.24 L1903.54,268.67 L1912.83,268.67 L1912.83,272.39 L1920.26,272.39 L1920.26,274.25 L1925.84,274.25 L1925.84,255.66 L1933.27,255.66 L1933.27,235.22 L1936.99,235.22 L1936.99,196.19 L1940.78,196.19 L1940.78,148.8 L1947.65,148.8 L1947.65,155.3 L1950.44,155.3 L1950.44,159.95 L1954.15,159.95 L1954.15,164.59 L1957.87,164.59 L1957.87,171.1 L1961.59,171.1 L1961.59,175.74 L1964.37,175.74 L1964.37,190.61 L1968.09,190.61 L1968.09,207.33 L1971.81,207.33 L1971.81,221.26 L1975.52,221.26 L1975.52,243.56 L1979.24,243.56 L1979.24,274.22 L1982.95,274.22 L1982.95,294.66 L1986.67,294.66 L1986.67,308.59 L1991.32,308.59 L1991.32,328.1 L1995.03,328.1 L1995.03,340.18 L1999.68,340.18 L1999.68,357.83 L2003.39,357.83 L2003.39,363.4 L2008.04,363.4 L2008.04,370.84 L2012.68,370.84 L2012.68,379.2 L2017.33,379.2 L2017.33,394.99 L2022.9,394.99 L2022.9,391.27 L2028.48,391.27 L2028.48,392.2 L2035.91,392.2 L2035.91,393.13 L2043.34,393.13 L2043.34,396.85 L2048.91,396.85 L2048.91,393.13 L2056.35,393.13 L2056.35,391.27 L2063.78,391.27 L2063.78,394.99 L2069.35,394.99 L2069.35,391.27 L2073.07,391.27 L2073.07,381.06 L2080.5,381.06 L2080.5,378.27 L2086.08,378.27 L2086.08,383.84 L2091.65,383.84 L2091.65,394.06 L2102.8,394.06 L2102.8,397.78 L2108.37,397.78 L2108.37,394.06 L2117.66,394.06 L2117.66,397.78 L2125.09,397.78 L2125.09,394.99 L2129.74,394.99 L2129.74,408 L2134.38,408 L2134.38,406.14 L2139.96,406.14 L2139.96,409.86 L2145.53,409.86 L2145.53,415.43 L2152.97,415.43" fill="none" stroke="#000" stroke-width="3.6" stroke-linejoin="miter" stroke-linecap="square"/>
<path d="M1744.2,389.02 L1745.2,389.07 L1746.2,389.13 L1747.2,389.2 L1748.2,389.27 L1749.2,389.35 L1750.2,389.44 L1751.2,389.53 L1752.2,389.62 L1753.2,389.72 L1754.2,389.82 L1755.2,389.92 L1756.2,390.01 L1757.2,390.11 L1758.2,390.2 L1759.2,390.29 L1760.2,390.38 L1761.2,390.46 L1762.2,390.53 L1763.2,390.6 L1764.2,390.67 L1765.2,390.72 L1766.2,390.77 L1767.2,390.81 L1768.2,390.84 L1769.2,390.86 L1770.2,390.87 L1771.2,390.87 L1772.2,390.87 L1773.2,390.85 L1774.2,390.81 L1775.2,390.77 L1776.2,390.71 L1777.2,390.64 L1778.2,390.55 L1779.2,390.45 L1780.2,390.33 L1781.2,390.2 L1782.2,390.04 L1783.2,389.87 L1784.2,389.67 L1785.2,389.45 L1786.2,389.21 L1787.2,388.95 L1788.2,388.66 L1789.2,388.35 L1790.2,388.02 L1791.2,387.65 L1792.2,387.27 L1793.2,386.86 L1794.2,386.42 L1795.2,385.96 L1796.2,385.48 L1797.2,384.98 L1798.2,384.46 L1799.2,383.92 L1800.2,383.37 L1801.2,382.8 L1802.2,382.23 L1803.2,381.65 L1804.2,381.07 L1805.2,380.5 L1806.2,379.92 L1807.2,379.36 L1808.2,378.82 L1809.2,378.29 L1810.2,377.78 L1811.2,377.31 L1812.2,376.86 L1813.2,376.44 L1814.2,376.06 L1815.2,375.73 L1816.2,375.43 L1817.2,375.18 L1818.2,374.98 L1819.2,374.82 L1820.2,374.71 L1821.2,374.65 L1822.2,374.63 L1823.2,374.67 L1824.2,374.74 L1825.2,374.86 L1826.2,375.02 L1827.2,375.21 L1828.2,375.44 L1829.2,375.69 L1830.2,375.98 L1831.2,376.28 L1832.2,376.6 L1833.2,376.94 L1834.2,377.28 L1835.2,377.63 L1836.2,377.98 L1837.2,378.32 L1838.2,378.66 L1839.2,379 L1840.2,379.31 L1841.2,379.62 L1842.2,379.9 L1843.2,380.17 L1844.2,380.41 L1845.2,380.63 L1846.2,380.83 L1847.2,381.01 L1848.2,381.17 L1849.2,381.3 L1850.2,381.4 L1851.2,381.49 L1852.2,381.56 L1853.2,381.61 L1854.2,381.64 L1855.2,381.65 L1856.2,381.65 L1857.2,381.64 L1858.2,381.62 L1859.2,381.59 L1860.2,381.55 L1861.2,381.51 L1862.2,381.47 L1863.2,381.42 L1864.2,381.38 L1865.2,381.33 L1866.2,381.29 L1867.2,381.26 L1868.2,381.23 L1869.2,381.2 L1870.2,381.18 L1871.2,381.17 L1872.2,381.17 L1873.2,381.17 L1874.2,381.19 L1875.2,381.2 L1876.2,381.23 L1877.2,381.25 L1878.2,381.28 L1879.2,381.32 L1880.2,381.35 L1881.2,381.38 L1882.2,381.41 L1883.2,381.43 L1884.2,381.44 L1885.2,381.43 L1886.2,381.41 L1887.2,381.37 L1888.2,381.3 L1889.2,381.2 L1890.2,381.07 L1891.2,380.89 L1892.2,380.67 L1893.2,380.4 L1894.2,380.06 L1895.2,379.66 L1896.2,379.19 L1897.2,378.63 L1898.2,377.98 L1899.2,377.24 L1900.2,376.38 L1901.2,375.41 L1902.2,374.32 L1903.2,373.09 L1904.2,371.72 L1905.2,370.19 L1906.2,368.5 L1907.2,366.63 L1908.2,364.58 L1909.2,362.34 L1910.2,359.9 L1911.2,357.25 L1912.2,354.38 L1913.2,351.29 L1914.2,347.96 L1915.2,344.41 L1916.2,340.61 L1917.2,336.57 L1918.2,332.28 L1919.2,327.75 L1920.2,322.98 L1921.2,317.97 L1922.2,312.72 L1923.2,307.24 L1924.2,301.54 L1925.2,295.63 L1926.2,289.52 L1927.2,283.24 L1928.2,276.79 L1929.2,270.19 L1930.2,263.47 L1931.2,256.64 L1932.2,249.74 L1933.2,242.79 L1934.2,235.82 L1935.2,228.85 L1936.2,221.93 L1937.2,215.08 L1938.2,208.33 L1939.2,201.72 L1940.2,195.28 L1941.2,189.05 L1942.2,183.06 L1943.2,177.35 L1944.2,171.94 L1945.2,166.86 L1946.2,162.16 L1947.2,157.85 L1948.2,153.96 L1949.2,150.51 L1950.2,147.53 L1951.2,145.04 L1952.2,143.04 L1953.2,141.56 L1954.2,140.6 L1955.2,140.17 L1956.2,140.27 L1957.2,140.9 L1958.2,142.06 L1959.2,143.73 L1960.2,145.91 L1961.2,148.58 L1962.2,151.72 L1963.2,155.33 L1964.2,159.36 L1965.2,163.8 L1966.2,168.63 L1967.2,173.8 L1968.2,179.3 L1969.2,185.08 L1970.2,191.11 L1971.2,197.37 L1972.2,203.82 L1973.2,210.41 L1974.2,217.12 L1975.2,223.92 L1976.2,230.77 L1977.2,237.64 L1978.2,244.49 L1979.2,251.3 L1980.2,258.05 L1981.2,264.7 L1982.2,271.23 L1983.2,277.62 L1984.2,283.84 L1985.2,289.89 L1986.2,295.75 L1987.2,301.4 L1988.2,306.83 L1989.2,312.03 L1990.2,317 L1991.2,321.73 L1992.2,326.23 L1993.2,330.48 L1994.2,334.49 L1995.2,338.27 L1996.2,341.81 L1997.2,345.13 L1998.2,348.23 L1999.2,351.11 L2000.2,353.79 L2001.2,356.28 L2002.2,358.59 L2003.2,360.72 L2004.2,362.68 L2005.2,364.5 L2006.2,366.17 L2007.2,367.71 L2008.2,369.14 L2009.2,370.45 L2010.2,371.66 L2011.2,372.78 L2012.2,373.82 L2013.2,374.79 L2014.2,375.69 L2015.2,376.53 L2016.2,377.32 L2017.2,378.06 L2018.2,378.76 L2019.2,379.43 L2020.2,380.06 L2021.2,380.66 L2022.2,381.24 L2023.2,381.8 L2024.2,382.33 L2025.2,382.84 L2026.2,383.34 L2027.2,383.82 L2028.2,384.28 L2029.2,384.72 L2030.2,385.15 L2031.2,385.56 L2032.2,385.96 L2033.2,386.34 L2034.2,386.71 L2035.2,387.06 L2036.2,387.39 L2037.2,387.71 L2038.2,388.01 L2039.2,388.29 L2040.2,388.56 L2041.2,388.81 L2042.2,389.05 L2043.2,389.27 L2044.2,389.47 L2045.2,389.66 L2046.2,389.84 L2047.2,390 L2048.2,390.15 L2049.2,390.29 L2050.2,390.42 L2051.2,390.53 L2052.2,390.63 L2053.2,390.73 L2054.2,390.81 L2055.2,390.89 L2056.2,390.95 L2057.2,391.01 L2058.2,391.07 L2059.2,391.11 L2060.2,391.15 L2061.2,391.19 L2062.2,391.22 L2063.2,391.25 L2064.2,391.28 L2065.2,391.3 L2066.2,391.31 L2067.2,391.33 L2068.2,391.34 L2069.2,391.36 L2070.2,391.37 L2071.2,391.37 L2072.2,391.38 L2073.2,391.39 L2074.2,391.39 L2075.2,391.4 L2076.2,391.4 L2077.2,391.4 L2078.2,391.4 L2079.2,391.41 L2080.2,391.41 L2081.2,391.41 L2082.2,391.41 L2083.2,391.41 L2084.2,391.41 L2085.2,391.41 L2086.2,391.41 L2087.2,391.41 L2088.2,391.41 L2089.2,391.41 L2090.2,391.41 L2091.2,391.41 L2092.2,391.41 L2093.2,391.42 L2094.2,391.42 L2095.2,391.42 L2096.2,391.42 L2097.2,391.42 L2098.2,391.42 L2099.2,391.42 L2100.2,391.42 L2101.2,391.42 L2102.2,391.42 L2103.2,391.42 L2104.2,391.42 L2105.2,391.42 L2106.2,391.42 L2107.2,391.42 L2108.2,391.42 L2109.2,391.42 L2110.2,391.42 L2111.2,391.42 L2112.2,391.42 L2113.2,391.42 L2114.2,391.42 L2115.2,391.42 L2116.2,391.42 L2117.2,391.42 L2118.2,391.42 L2119.2,391.42 L2120.2,391.42 L2121.2,391.42 L2122.2,391.42 L2123.2,391.42 L2124.2,391.42 L2125.2,391.42 L2126.2,391.42 L2127.2,391.42 L2128.2,391.42 L2129.2,391.42 L2130.2,391.42 L2131.2,391.42 L2132.2,391.42 L2133.2,391.42 L2134.2,391.42 L2135.2,391.42 L2136.2,391.42 L2137.2,391.42 L2138.2,391.42 L2139.2,391.42 L2140.2,391.42 L2141.2,391.42 L2142.2,391.42 L2143.2,391.42 L2144.2,391.42 L2145.2,391.42 L2146.2,391.42 L2147.2,391.42 L2148.2,391.42 L2149.2,391.42 L2150.2,391.42 L2151.2,391.42 L2152.2,391.42" fill="none" stroke="#1f77b4" stroke-width="3.0" stroke-linejoin="round"/>
<path d="M1744.2,391.42 L1745.2,391.42 L1746.2,391.42 L1747.2,391.42 L1748.2,391.42 L1749.2,391.42 L1750.2,391.42 L1751.2,391.42 L1752.2,391.42 L1753.2,391.42 L1754.2,391.42 L1755.2,391.42 L1756.2,391.42 L1757.2,391.42 L1758.2,391.42 L1759.2,391.42 L1760.2,391.42 L1761.2,391.42 L1762.2,391.42 L1763.2,391.42 L1764.2,391.42 L1765.2,391.42 L1766.2,391.42 L1767.2,391.42 L1768.2,391.42 L1769.2,391.42 L1770.2,391.42 L1771.2,391.42 L1772.2,391.42 L1773.2,391.42 L1774.2,391.42 L1775.2,391.42 L1776.2,391.42 L1777.2,391.42 L1778.2,391.42 L1779.2,391.42 L1780.2,391.42 L1781.2,391.42 L1782.2,391.42 L1783.2,391.42 L1784.2,391.42 L1785.2,391.42 L1786.2,391.42 L1787.2,391.42 L1788.2,391.42 L1789.2,391.42 L1790.2,391.42 L1791.2,391.42 L1792.2,391.42 L1793.2,391.42 L1794.2,391.42 L1795.2,391.42 L1796.2,391.42 L1797.2,391.42 L1798.2,391.42 L1799.2,391.42 L1800.2,391.42 L1801.2,391.42 L1802.2,391.42 L1803.2,391.42 L1804.2,391.42 L1805.2,391.42 L1806.2,391.42 L1807.2,391.42 L1808.2,391.42 L1809.2,391.42 L1810.2,391.42 L1811.2,391.42 L1812.2,391.42 L1813.2,391.42 L1814.2,391.42 L1815.2,391.42 L1816.2,391.42 L1817.2,391.42 L1818.2,391.42 L1819.2,391.42 L1820.2,391.42 L1821.2,391.42 L1822.2,391.42 L1823.2,391.42 L1824.2,391.42 L1825.2,391.42 L1826.2,391.42 L1827.2,391.42 L1828.2,391.42 L1829.2,391.42 L1830.2,391.42 L1831.2,391.42 L1832.2,391.42 L1833.2,391.42 L1834.2,391.42 L1835.2,391.42 L1836.2,391.42 L1837.2,391.42 L1838.2,391.42 L1839.2,391.42 L1840.2,391.42 L1841.2,391.42 L1842.2,391.42 L1843.2,391.42 L1844.2,391.41 L1845.2,391.41 L1846.2,391.41 L1847.2,391.41 L1848.2,391.41 L1849.2,391.41 L1850.2,391.41 L1851.2,391.41 L1852.2,391.41 L1853.2,391.41 L1854.2,391.41 L1855.2,391.41 L1856.2,391.41 L1857.2,391.41 L1858.2,391.4 L1859.2,391.4 L1860.2,391.4 L1861.2,391.4 L1862.2,391.39 L1863.2,391.39 L1864.2,391.38 L1865.2,391.37 L1866.2,391.36 L1867.2,391.35 L1868.2,391.34 L1869.2,391.32 L1870.2,391.3 L1871.2,391.28 L1872.2,391.26 L1873.2,391.23 L1874.2,391.19 L1875.2,391.15 L1876.2,391.1 L1877.2,391.04 L1878.2,390.97 L1879.2,390.9 L1880.2,390.81 L1881.2,390.7 L1882.2,390.58 L1883.2,390.44 L1884.2,390.28 L1885.2,390.09 L1886.2,389.88 L1887.2,389.64 L1888.2,389.37 L1889.2,389.06 L1890.2,388.7 L1891.2,388.3 L1892.2,387.85 L1893.2,387.34 L1894.2,386.77 L1895.2,386.13 L1896.2,385.41 L1897.2,384.61 L1898.2,383.73 L1899.2,382.74 L1900.2,381.65 L1901.2,380.44 L1902.2,379.12 L1903.2,377.66 L1904.2,376.06 L1905.2,374.31 L1906.2,372.4 L1907.2,370.32 L1908.2,368.07 L1909.2,365.63 L1910.2,362.99 L1911.2,360.16 L1912.2,357.11 L1913.2,353.85 L1914.2,350.36 L1915.2,346.64 L1916.2,342.69 L1917.2,338.51 L1918.2,334.09 L1919.2,329.43 L1920.2,324.53 L1921.2,319.4 L1922.2,314.04 L1923.2,308.46 L1924.2,302.66 L1925.2,296.66 L1926.2,290.47 L1927.2,284.11 L1928.2,277.58 L1929.2,270.91 L1930.2,264.13 L1931.2,257.24 L1932.2,250.29 L1933.2,243.29 L1934.2,236.27 L1935.2,229.26 L1936.2,222.3 L1937.2,215.41 L1938.2,208.63 L1939.2,201.99 L1940.2,195.53 L1941.2,189.27 L1942.2,183.26 L1943.2,177.53 L1944.2,172.1 L1945.2,167.01 L1946.2,162.29 L1947.2,157.97 L1948.2,154.07 L1949.2,150.62 L1950.2,147.63 L1951.2,145.13 L1952.2,143.14 L1953.2,141.66 L1954.2,140.7 L1955.2,140.28 L1956.2,140.38 L1957.2,141.02 L1958.2,142.19 L1959.2,143.88 L1960.2,146.07 L1961.2,148.77 L1962.2,151.94 L1963.2,155.58 L1964.2,159.65 L1965.2,164.13 L1966.2,169 L1967.2,174.23 L1968.2,179.78 L1969.2,185.63 L1970.2,191.75 L1971.2,198.09 L1972.2,204.63 L1973.2,211.33 L1974.2,218.15 L1975.2,225.08 L1976.2,232.06 L1977.2,239.08 L1978.2,246.09 L1979.2,253.08 L1980.2,260.01 L1981.2,266.86 L1982.2,273.6 L1983.2,280.21 L1984.2,286.67 L1985.2,292.97 L1986.2,299.09 L1987.2,305.01 L1988.2,310.72 L1989.2,316.21 L1990.2,321.48 L1991.2,326.52 L1992.2,331.32 L1993.2,335.88 L1994.2,340.21 L1995.2,344.3 L1996.2,348.16 L1997.2,351.78 L1998.2,355.18 L1999.2,358.35 L2000.2,361.32 L2001.2,364.07 L2002.2,366.63 L2003.2,368.99 L2004.2,371.17 L2005.2,373.18 L2006.2,375.02 L2007.2,376.71 L2008.2,378.26 L2009.2,379.66 L2010.2,380.94 L2011.2,382.1 L2012.2,383.15 L2013.2,384.09 L2014.2,384.94 L2015.2,385.71 L2016.2,386.39 L2017.2,387.01 L2018.2,387.55 L2019.2,388.04 L2020.2,388.47 L2021.2,388.85 L2022.2,389.18 L2023.2,389.48 L2024.2,389.74 L2025.2,389.97 L2026.2,390.17 L2027.2,390.35 L2028.2,390.5 L2029.2,390.63 L2030.2,390.74 L2031.2,390.84 L2032.2,390.93 L2033.2,391 L2034.2,391.07 L2035.2,391.12 L2036.2,391.17 L2037.2,391.21 L2038.2,391.24 L2039.2,391.27 L2040.2,391.29 L2041.2,391.31 L2042.2,391.33 L2043.2,391.34 L2044.2,391.36 L2045.2,391.37 L2046.2,391.37 L2047.2,391.38 L2048.2,391.39 L2049.2,391.39 L2050.2,391.4 L2051.2,391.4 L2052.2,391.4 L2053.2,391.41 L2054.2,391.41 L2055.2,391.41 L2056.2,391.41 L2057.2,391.41 L2058.2,391.41 L2059.2,391.41 L2060.2,391.41 L2061.2,391.41 L2062.2,391.41 L2063.2,391.41 L2064.2,391.41 L2065.2,391.41 L2066.2,391.41 L2067.2,391.41 L2068.2,391.42 L2069.2,391.42 L2070.2,391.42 L2071.2,391.42 L2072.2,391.42 L2073.2,391.42 L2074.2,391.42 L2075.2,391.42 L2076.2,391.42 L2077.2,391.42 L2078.2,391.42 L2079.2,391.42 L2080.2,391.42 L2081.2,391.42 L2082.2,391.42 L2083.2,391.42 L2084.2,391.42 L2085.2,391.42 L2086.2,391.42 L2087.2,391.42 L2088.2,391.42 L2089.2,391.42 L2090.2,391.42 L2091.2,391.42 L2092.2,391.42 L2093.2,391.42 L2094.2,391.42 L2095.2,391.42 L2096.2,391.42 L2097.2,391.42 L2098.2,391.42 L2099.2,391.42 L2100.2,391.42 L2101.2,391.42 L2102.2,391.42 L2103.2,391.42 L2104.2,391.42 L2105.2,391.42 L2106.2,391.42 L2107.2,391.42 L2108.2,391.42 L2109.2,391.42 L2110.2,391.42 L2111.2,391.42 L2112.2,391.42 L2113.2,391.42 L2114.2,391.42 L2115.2,391.42 L2116.2,391.42 L2117.2,391.42 L2118.2,391.42 L2119.2,391.42 L2120.2,391.42 L2121.2,391.42 L2122.2,391.42 L2123.2,391.42 L2124.2,391.42 L2125.2,391.42 L2126.2,391.42 L2127.2,391.42 L2128.2,391.42 L2129.2,391.42 L2130.2,391.42 L2131.2,391.42 L2132.2,391.42 L2133.2,391.42 L2134.2,391.42 L2135.2,391.42 L2136.2,391.42 L2137.2,391.42 L2138.2,391.42 L2139.2,391.42 L2140.2,391.42 L2141.2,391.42 L2142.2,391.42 L2143.2,391.42 L2144.2,391.42 L2145.2,391.42 L2146.2,391.42 L2147.2,391.42 L2148.2,391.42 L2149.2,391.42 L2150.2,391.42 L2151.2,391.42 L2152.2,391.42" fill="none" stroke="#d62728" stroke-width="3.0" stroke-linejoin="round"/>
</g>
<text transform="translate(1831.1,363) rotate(-90)" class="l"><tspan x="0" y="-0" style="font-size:23px">g</tspan><tspan x="14.6" y="-0" style="font-size:23px">—</tspan><tspan x="37.6" y="-0" style="font-size:23px">C</tspan><tspan x="53.88" y="3.77" style="font-size:16.1px">2</tspan><tspan x="64.75" y="-0" style="font-size:23px">H</tspan><tspan x="82.27" y="3.77" style="font-size:16.1px">5</tspan><tspan x="93.14" y="-0" style="font-size:23px">O</tspan><tspan x="111.24" y="-0" style="font-size:23px">H</tspan></text>
<rect x="1746.2" y="18.4" width="404.3" height="404.1" fill="none" stroke="#000" stroke-width="2.6"/>
<path d="M1740.7,422.5H1746.2M2150.5,422.5H2156" stroke="#000" stroke-width="2.0"/>
<path d="M1740.7,406.96H1746.2M2150.5,406.96H2156" stroke="#000" stroke-width="2.0"/>
<path d="M1731.4,391.42H1746.2M2150.5,391.42H2165.3" stroke="#000" stroke-width="2.6"/>
<text x="1721.4" y="406.02" text-anchor="end" class="t">0</text>
<path d="M1740.7,375.87H1746.2M2150.5,375.87H2156" stroke="#000" stroke-width="2.0"/>
<path d="M1740.7,360.33H1746.2M2150.5,360.33H2156" stroke="#000" stroke-width="2.0"/>
<path d="M1740.7,344.79H1746.2M2150.5,344.79H2156" stroke="#000" stroke-width="2.0"/>
<path d="M1740.7,329.25H1746.2M2150.5,329.25H2156" stroke="#000" stroke-width="2.0"/>
<path d="M1731.4,313.7H1746.2M2150.5,313.7H2165.3" stroke="#000" stroke-width="2.6"/>
<text x="1721.4" y="328.3" text-anchor="end" class="t">25</text>
<path d="M1740.7,298.16H1746.2M2150.5,298.16H2156" stroke="#000" stroke-width="2.0"/>
<path d="M1740.7,282.62H1746.2M2150.5,282.62H2156" stroke="#000" stroke-width="2.0"/>
<path d="M1740.7,267.08H1746.2M2150.5,267.08H2156" stroke="#000" stroke-width="2.0"/>
<path d="M1740.7,251.53H1746.2M2150.5,251.53H2156" stroke="#000" stroke-width="2.0"/>
<path d="M1731.4,235.99H1746.2M2150.5,235.99H2165.3" stroke="#000" stroke-width="2.6"/>
<text x="1721.4" y="250.59" text-anchor="end" class="t">50</text>
<path d="M1740.7,220.45H1746.2M2150.5,220.45H2156" stroke="#000" stroke-width="2.0"/>
<path d="M1740.7,204.91H1746.2M2150.5,204.91H2156" stroke="#000" stroke-width="2.0"/>
<path d="M1740.7,189.37H1746.2M2150.5,189.37H2156" stroke="#000" stroke-width="2.0"/>
<path d="M1740.7,173.82H1746.2M2150.5,173.82H2156" stroke="#000" stroke-width="2.0"/>
<path d="M1731.4,158.28H1746.2M2150.5,158.28H2165.3" stroke="#000" stroke-width="2.6"/>
<text x="1721.4" y="172.88" text-anchor="end" class="t">75</text>
<path d="M1740.7,142.74H1746.2M2150.5,142.74H2156" stroke="#000" stroke-width="2.0"/>
<path d="M1740.7,127.2H1746.2M2150.5,127.2H2156" stroke="#000" stroke-width="2.0"/>
<path d="M1740.7,111.65H1746.2M2150.5,111.65H2156" stroke="#000" stroke-width="2.0"/>
<path d="M1740.7,96.11H1746.2M2150.5,96.11H2156" stroke="#000" stroke-width="2.0"/>
<path d="M1731.4,80.57H1746.2M2150.5,80.57H2165.3" stroke="#000" stroke-width="2.6"/>
<text x="1721.4" y="95.17" text-anchor="end" class="t">100</text>
<path d="M1740.7,65.03H1746.2M2150.5,65.03H2156" stroke="#000" stroke-width="2.0"/>
<path d="M1740.7,49.48H1746.2M2150.5,49.48H2156" stroke="#000" stroke-width="2.0"/>
<path d="M1740.7,33.94H1746.2M2150.5,33.94H2156" stroke="#000" stroke-width="2.0"/>
<path d="M1740.7,18.4H1746.2M2150.5,18.4H2156" stroke="#000" stroke-width="2.0"/>
<path d="M1780.8,422.5V437.3M1780.8,3.6V18.4" stroke="#000" stroke-width="2.6"/>
<text x="1780.8" y="477.8" text-anchor="middle" class="t">106.760</text>
<path d="M2026.4,422.5V437.3M2026.4,3.6V18.4" stroke="#000" stroke-width="2.6"/>
<text x="2026.4" y="477.8" text-anchor="middle" class="t">106.800</text>
<path d="M1842.2,422.5V428M1842.2,12.9V18.4" stroke="#000" stroke-width="2.0"/>
<path d="M1903.6,422.5V428M1903.6,12.9V18.4" stroke="#000" stroke-width="2.0"/>
<path d="M1965,422.5V428M1965,12.9V18.4" stroke="#000" stroke-width="2.0"/>
<path d="M2087.8,422.5V428M2087.8,12.9V18.4" stroke="#000" stroke-width="2.0"/>
<path d="M2149.2,422.5V428M2149.2,12.9V18.4" stroke="#000" stroke-width="2.0"/>
<clipPath id="c5"><rect x="169.5" y="551.7" width="404.9" height="404.3"/></clipPath>
<g clip-path="url(#c5)">
<path d="M170.81,929.05 L170.81,948.71 L175.65,948.71 L175.65,933.23 L179.52,933.23 L179.52,902.26 L184.36,902.26 L184.36,917.74 L188.23,917.74 L188.23,933.23 L192.1,933.23 L192.1,921.62 L195.97,921.62 L195.97,932.26 L200.81,932.26 L200.81,939.04 L203.71,939.04 L203.71,956.46 L220.16,956.46 L220.16,934.2 L225,934.2 L225,940.97 L228.87,940.97 L228.87,931.29 L232.74,931.29 L232.74,901.29 L236.62,901.29 L236.62,896.45 L240.49,896.45 L240.49,956.46 L243.39,956.46 L243.39,949.68 L247.26,949.68 L247.26,937.1 L253.07,937.1 L253.07,940.49 L257.91,940.49 L257.91,915.32 L261.78,915.32 L261.78,919.68 L265.65,919.68 L265.65,952.58 L269.52,952.58 L269.52,900.32 L273.39,900.32 L273.39,949.68 L277.26,949.68 L277.26,956.46 L285.97,956.46 L285.97,909.03 L289.84,909.03 L289.84,921.62 L294.68,921.62 L294.68,924.52 L298.55,924.52 L298.55,906.13 L302.42,906.13 L302.42,945.33 L305.33,945.33 L305.33,928.87 L310.17,928.87 L310.17,908.07 L314.04,908.07 L314.04,889.19 L317.91,889.19 L317.91,887.74 L322.75,887.74 L322.75,932.26 L326.66,932.26 L326.66,860.56 L335.03,860.56 L335.03,813.32 L343.62,813.32 L343.62,862.71 L347.91,862.71 L347.91,785.4 L354.36,785.4 L354.36,724.21 L362.95,724.21 L362.95,634.02 L366.17,634.02 L366.17,627.58 L371.54,627.58 L371.54,610.4 L375.83,610.4 L375.83,644.76 L380.12,644.76 L380.12,607.18 L384.42,607.18 L384.42,676.97 L386.57,676.97 L386.57,686.63 L390.86,686.63 L390.86,694.14 L395.16,694.14 L395.16,762.86 L400.52,762.86 L400.52,815.47 L404.82,815.47 L404.82,812.25 L412.33,812.25 L412.33,847.68 L416.63,847.68 L416.63,831.57 L420.92,831.57 L420.92,875.59 L425.22,875.59 L425.22,899.21 L428.44,899.21 L428.44,906.73 L432.73,906.73 L432.73,935.72 L437.03,935.72 L437.03,931.42 L442.4,931.42 L442.4,935.72 L448.8,935.72 L448.8,888.14 L453.1,888.14 L453.1,906.34 L457.52,906.34 L457.52,882.62 L461.93,882.62 L461.93,897.52 L466.34,897.52 L466.34,870.48 L470.76,870.48 L470.76,915.17 L474.07,915.17 L474.07,899.17 L478.48,899.17 L478.48,849.52 L482.9,849.52 L482.9,917.38 L487.31,917.38 L487.31,863.86 L490.62,863.86 L490.62,893.66 L495.03,893.66 L495.03,861.66 L499.45,861.66 L499.45,845.66 L503.86,845.66 L503.86,825.79 L508.28,825.79 L508.28,834.62 L511.59,834.62 L511.59,796.55 L514.9,796.55 L514.9,807.03 L519.31,807.03 L519.31,851.72 L523.72,851.72 L523.72,876 L528.14,876 L528.14,867.17 L532.55,867.17 L532.55,827.45 L534.76,827.45 L534.76,852.83 L539.17,852.83 L539.17,876.55 L543.59,876.55 L543.59,867.17 L548,867.17 L548,864.41 L552.41,864.41 L552.41,917.38 L559.03,917.38 L559.03,900.28 L564.55,900.28 L564.55,936.69 L568.41,936.69 L568.41,925.66 L574.48,925.66 L574.48,929.05 Z" fill="#e9e9e9" stroke="none"/>
<line x1="169.5" y1="929.05" x2="574.4" y2="929.05" stroke="#e0e0e0" stroke-width="2.6"/>
<path d="M170.81,948.71 L175.65,948.71 L175.65,933.23 L179.52,933.23 L179.52,902.26 L184.36,902.26 L184.36,917.74 L188.23,917.74 L188.23,933.23 L192.1,933.23 L192.1,921.62 L195.97,921.62 L195.97,932.26 L200.81,932.26 L200.81,939.04 L203.71,939.04 L203.71,956.46 L220.16,956.46 L220.16,934.2 L225,934.2 L225,940.97 L228.87,940.97 L228.87,931.29 L232.74,931.29 L232.74,901.29 L236.62,901.29 L236.62,896.45 L240.49,896.45 L240.49,956.46 L243.39,956.46 L243.39,949.68 L247.26,949.68 L247.26,937.1 L253.07,937.1 L253.07,940.49 L257.91,940.49 L257.91,915.32 L261.78,915.32 L261.78,919.68 L265.65,919.68 L265.65,952.58 L269.52,952.58 L269.52,900.32 L273.39,900.32 L273.39,949.68 L277.26,949.68 L277.26,956.46 L285.97,956.46 L285.97,909.03 L289.84,909.03 L289.84,921.62 L294.68,921.62 L294.68,924.52 L298.55,924.52 L298.55,906.13 L302.42,906.13 L302.42,945.33 L305.33,945.33 L305.33,928.87 L310.17,928.87 L310.17,908.07 L314.04,908.07 L314.04,889.19 L317.91,889.19 L317.91,887.74 L322.75,887.74 L322.75,932.26 L326.66,932.26 L326.66,860.56 L335.03,860.56 L335.03,813.32 L343.62,813.32 L343.62,862.71 L347.91,862.71 L347.91,785.4 L354.36,785.4 L354.36,724.21 L362.95,724.21 L362.95,634.02 L366.17,634.02 L366.17,627.58 L371.54,627.58 L371.54,610.4 L375.83,610.4 L375.83,644.76 L380.12,644.76 L380.12,607.18 L384.42,607.18 L384.42,676.97 L386.57,676.97 L386.57,686.63 L390.86,686.63 L390.86,694.14 L395.16,694.14 L395.16,762.86 L400.52,762.86 L400.52,815.47 L404.82,815.47 L404.82,812.25 L412.33,812.25 L412.33,847.68 L416.63,847.68 L416.63,831.57 L420.92,831.57 L420.92,875.59 L425.22,875.59 L425.22,899.21 L428.44,899.21 L428.44,906.73 L432.73,906.73 L432.73,935.72 L437.03,935.72 L437.03,931.42 L442.4,931.42 L442.4,935.72 L448.8,935.72 L448.8,888.14 L453.1,888.14 L453.1,906.34 L457.52,906.34 L457.52,882.62 L461.93,882.62 L461.93,897.52 L466.34,897.52 L466.34,870.48 L470.76,870.48 L470.76,915.17 L474.07,915.17 L474.07,899.17 L478.48,899.17 L478.48,849.52 L482.9,849.52 L482.9,917.38 L487.31,917.38 L487.31,863.86 L490.62,863.86 L490.62,893.66 L495.03,893.66 L495.03,861.66 L499.45,861.66 L499.45,845.66 L503.86,845.66 L503.86,825.79 L508.28,825.79 L508.28,834.62 L511.59,834.62 L511.59,796.55 L514.9,796.55 L514.9,807.03 L519.31,807.03 L519.31,851.72 L523.72,851.72 L523.72,876 L528.14,876 L528.14,867.17 L532.55,867.17 L532.55,827.45 L534.76,827.45 L534.76,852.83 L539.17,852.83 L539.17,876.55 L543.59,876.55 L543.59,867.17 L548,867.17 L548,864.41 L552.41,864.41 L552.41,917.38 L559.03,917.38 L559.03,900.28 L564.55,900.28 L564.55,936.69 L568.41,936.69 L568.41,925.66 L574.48,925.66" fill="none" stroke="#000" stroke-width="3.6" stroke-linejoin="miter" stroke-linecap="square"/>
<path d="M167.5,926.72 L168.5,926.7 L169.5,926.68 L170.5,926.66 L171.5,926.64 L172.5,926.62 L173.5,926.6 L174.5,926.58 L175.5,926.57 L176.5,926.55 L177.5,926.53 L178.5,926.52 L179.5,926.5 L180.5,926.49 L181.5,926.48 L182.5,926.46 L183.5,926.45 L184.5,926.44 L185.5,926.43 L186.5,926.42 L187.5,926.41 L188.5,926.4 L189.5,926.39 L190.5,926.38 L191.5,926.38 L192.5,926.37 L193.5,926.37 L194.5,926.36 L195.5,926.36 L196.5,926.36 L197.5,926.35 L198.5,926.35 L199.5,926.35 L200.5,926.35 L201.5,926.35 L202.5,926.35 L203.5,926.36 L204.5,926.36 L205.5,926.36 L206.5,926.37 L207.5,926.37 L208.5,926.38 L209.5,926.38 L210.5,926.39 L211.5,926.4 L212.5,926.41 L213.5,926.42 L214.5,926.43 L215.5,926.44 L216.5,926.45 L217.5,926.46 L218.5,926.48 L219.5,926.49 L220.5,926.5 L221.5,926.52 L222.5,926.53 L223.5,926.55 L224.5,926.57 L225.5,926.58 L226.5,926.6 L227.5,926.62 L228.5,926.64 L229.5,926.66 L230.5,926.68 L231.5,926.7 L232.5,926.72 L233.5,926.74 L234.5,926.76 L235.5,926.78 L236.5,926.81 L237.5,926.83 L238.5,926.85 L239.5,926.88 L240.5,926.9 L241.5,926.92 L242.5,926.95 L243.5,926.97 L244.5,927 L245.5,927.02 L246.5,927.05 L247.5,927.08 L248.5,927.1 L249.5,927.13 L250.5,927.15 L251.5,927.18 L252.5,927.21 L253.5,927.23 L254.5,927.26 L255.5,927.29 L256.5,927.32 L257.5,927.34 L258.5,927.37 L259.5,927.4 L260.5,927.42 L261.5,927.45 L262.5,927.48 L263.5,927.5 L264.5,927.53 L265.5,927.56 L266.5,927.58 L267.5,927.61 L268.5,927.63 L269.5,927.66 L270.5,927.68 L271.5,927.7 L272.5,927.73 L273.5,927.75 L274.5,927.77 L275.5,927.79 L276.5,927.81 L277.5,927.83 L278.5,927.84 L279.5,927.86 L280.5,927.87 L281.5,927.88 L282.5,927.88 L283.5,927.89 L284.5,927.89 L285.5,927.88 L286.5,927.87 L287.5,927.86 L288.5,927.84 L289.5,927.81 L290.5,927.77 L291.5,927.73 L292.5,927.68 L293.5,927.61 L294.5,927.53 L295.5,927.44 L296.5,927.33 L297.5,927.2 L298.5,927.06 L299.5,926.89 L300.5,926.69 L301.5,926.47 L302.5,926.22 L303.5,925.93 L304.5,925.61 L305.5,925.24 L306.5,924.83 L307.5,924.36 L308.5,923.85 L309.5,923.27 L310.5,922.63 L311.5,921.92 L312.5,921.13 L313.5,920.26 L314.5,919.3 L315.5,918.25 L316.5,917.09 L317.5,915.83 L318.5,914.45 L319.5,912.95 L320.5,911.31 L321.5,909.54 L322.5,907.62 L323.5,905.56 L324.5,903.33 L325.5,900.94 L326.5,898.38 L327.5,895.64 L328.5,892.72 L329.5,889.62 L330.5,886.32 L331.5,882.83 L332.5,879.15 L333.5,875.27 L334.5,871.2 L335.5,866.93 L336.5,862.47 L337.5,857.83 L338.5,853 L339.5,847.99 L340.5,842.81 L341.5,837.48 L342.5,832 L343.5,826.38 L344.5,820.64 L345.5,814.79 L346.5,808.86 L347.5,802.86 L348.5,796.8 L349.5,790.71 L350.5,784.61 L351.5,778.53 L352.5,772.48 L353.5,766.5 L354.5,760.59 L355.5,754.8 L356.5,749.14 L357.5,743.65 L358.5,738.33 L359.5,733.23 L360.5,728.36 L361.5,723.74 L362.5,719.4 L363.5,715.36 L364.5,711.63 L365.5,708.23 L366.5,705.19 L367.5,702.51 L368.5,700.21 L369.5,698.3 L370.5,696.78 L371.5,695.66 L372.5,694.95 L373.5,694.65 L374.5,694.75 L375.5,695.27 L376.5,696.18 L377.5,697.49 L378.5,699.19 L379.5,701.26 L380.5,703.7 L381.5,706.49 L382.5,709.61 L383.5,713.06 L384.5,716.8 L385.5,720.83 L386.5,725.12 L387.5,729.65 L388.5,734.4 L389.5,739.34 L390.5,744.47 L391.5,749.75 L392.5,755.15 L393.5,760.67 L394.5,766.28 L395.5,771.94 L396.5,777.66 L397.5,783.39 L398.5,789.13 L399.5,794.86 L400.5,800.55 L401.5,806.19 L402.5,811.76 L403.5,817.25 L404.5,822.65 L405.5,827.93 L406.5,833.1 L407.5,838.14 L408.5,843.04 L409.5,847.79 L410.5,852.38 L411.5,856.82 L412.5,861.08 L413.5,865.18 L414.5,869.11 L415.5,872.87 L416.5,876.45 L417.5,879.86 L418.5,883.09 L419.5,886.15 L420.5,889.04 L421.5,891.76 L422.5,894.32 L423.5,896.72 L424.5,898.97 L425.5,901.06 L426.5,903.01 L427.5,904.82 L428.5,906.5 L429.5,908.04 L430.5,909.46 L431.5,910.77 L432.5,911.96 L433.5,913.05 L434.5,914.04 L435.5,914.93 L436.5,915.74 L437.5,916.46 L438.5,917.1 L439.5,917.68 L440.5,918.19 L441.5,918.63 L442.5,919.02 L443.5,919.35 L444.5,919.64 L445.5,919.88 L446.5,920.08 L447.5,920.25 L448.5,920.38 L449.5,920.47 L450.5,920.54 L451.5,920.58 L452.5,920.6 L453.5,920.6 L454.5,920.57 L455.5,920.52 L456.5,920.45 L457.5,920.37 L458.5,920.26 L459.5,920.14 L460.5,919.99 L461.5,919.83 L462.5,919.64 L463.5,919.44 L464.5,919.2 L465.5,918.94 L466.5,918.66 L467.5,918.34 L468.5,917.98 L469.5,917.59 L470.5,917.16 L471.5,916.68 L472.5,916.15 L473.5,915.57 L474.5,914.93 L475.5,914.23 L476.5,913.46 L477.5,912.62 L478.5,911.71 L479.5,910.71 L480.5,909.64 L481.5,908.47 L482.5,907.22 L483.5,905.87 L484.5,904.43 L485.5,902.88 L486.5,901.24 L487.5,899.5 L488.5,897.66 L489.5,895.71 L490.5,893.68 L491.5,891.55 L492.5,889.32 L493.5,887.02 L494.5,884.64 L495.5,882.18 L496.5,879.67 L497.5,877.1 L498.5,874.5 L499.5,871.86 L500.5,869.2 L501.5,866.55 L502.5,863.9 L503.5,861.28 L504.5,858.71 L505.5,856.19 L506.5,853.74 L507.5,851.39 L508.5,849.14 L509.5,847.01 L510.5,845.03 L511.5,843.19 L512.5,841.52 L513.5,840.03 L514.5,838.73 L515.5,837.64 L516.5,836.75 L517.5,836.08 L518.5,835.64 L519.5,835.43 L520.5,835.45 L521.5,835.7 L522.5,836.18 L523.5,836.88 L524.5,837.82 L525.5,838.96 L526.5,840.32 L527.5,841.88 L528.5,843.63 L529.5,845.55 L530.5,847.63 L531.5,849.87 L532.5,852.24 L533.5,854.72 L534.5,857.31 L535.5,859.99 L536.5,862.73 L537.5,865.53 L538.5,868.36 L539.5,871.22 L540.5,874.08 L541.5,876.93 L542.5,879.77 L543.5,882.56 L544.5,885.31 L545.5,888.01 L546.5,890.63 L547.5,893.18 L548.5,895.65 L549.5,898.02 L550.5,900.31 L551.5,902.49 L552.5,904.57 L553.5,906.54 L554.5,908.41 L555.5,910.17 L556.5,911.82 L557.5,913.37 L558.5,914.82 L559.5,916.17 L560.5,917.42 L561.5,918.57 L562.5,919.64 L563.5,920.61 L564.5,921.51 L565.5,922.33 L566.5,923.07 L567.5,923.75 L568.5,924.36 L569.5,924.91 L570.5,925.41 L571.5,925.85 L572.5,926.25 L573.5,926.6 L574.5,926.92 L575.5,927.2" fill="none" stroke="#1f77b4" stroke-width="3.0" stroke-linejoin="round"/>
<path d="M167.5,929.05 L168.5,929.05 L169.5,929.05 L170.5,929.05 L171.5,929.05 L172.5,929.05 L173.5,929.05 L174.5,929.05 L175.5,929.05 L176.5,929.05 L177.5,929.05 L178.5,929.05 L179.5,929.05 L180.5,929.05 L181.5,929.05 L182.5,929.05 L183.5,929.05 L184.5,929.05 L185.5,929.05 L186.5,929.05 L187.5,929.05 L188.5,929.05 L189.5,929.05 L190.5,929.05 L191.5,929.05 L192.5,929.05 L193.5,929.05 L194.5,929.05 L195.5,929.05 L196.5,929.05 L197.5,929.05 L198.5,929.05 L199.5,929.05 L200.5,929.05 L201.5,929.05 L202.5,929.05 L203.5,929.05 L204.5,929.05 L205.5,929.05 L206.5,929.05 L207.5,929.05 L208.5,929.05 L209.5,929.05 L210.5,929.05 L211.5,929.05 L212.5,929.05 L213.5,929.05 L214.5,929.05 L215.5,929.05 L216.5,929.05 L217.5,929.05 L218.5,929.05 L219.5,929.05 L220.5,929.05 L221.5,929.05 L222.5,929.05 L223.5,929.05 L224.5,929.05 L225.5,929.05 L226.5,929.05 L227.5,929.05 L228.5,929.05 L229.5,929.05 L230.5,929.05 L231.5,929.05 L232.5,929.05 L233.5,929.05 L234.5,929.05 L235.5,929.05 L236.5,929.05 L237.5,929.05 L238.5,929.05 L239.5,929.05 L240.5,929.05 L241.5,929.05 L242.5,929.05 L243.5,929.05 L244.5,929.05 L245.5,929.05 L246.5,929.05 L247.5,929.05 L248.5,929.05 L249.5,929.05 L250.5,929.05 L251.5,929.05 L252.5,929.05 L253.5,929.05 L254.5,929.05 L255.5,929.05 L256.5,929.05 L257.5,929.05 L258.5,929.05 L259.5,929.04 L260.5,929.04 L261.5,929.04 L262.5,929.04 L263.5,929.04 L264.5,929.04 L265.5,929.04 L266.5,929.04 L267.5,929.04 L268.5,929.04 L269.5,929.04 L270.5,929.03 L271.5,929.03 L272.5,929.03 L273.5,929.02 L274.5,929.02 L275.5,929.01 L276.5,929.01 L277.5,929 L278.5,928.99 L279.5,928.98 L280.5,928.97 L281.5,928.96 L282.5,928.94 L283.5,928.92 L284.5,928.9 L285.5,928.87 L286.5,928.85 L287.5,928.81 L288.5,928.77 L289.5,928.73 L290.5,928.68 L291.5,928.62 L292.5,928.56 L293.5,928.48 L294.5,928.4 L295.5,928.3 L296.5,928.19 L297.5,928.07 L298.5,927.93 L299.5,927.77 L300.5,927.59 L301.5,927.39 L302.5,927.17 L303.5,926.92 L304.5,926.64 L305.5,926.33 L306.5,925.98 L307.5,925.6 L308.5,925.17 L309.5,924.7 L310.5,924.18 L311.5,923.6 L312.5,922.97 L313.5,922.28 L314.5,921.52 L315.5,920.69 L316.5,919.78 L317.5,918.8 L318.5,917.72 L319.5,916.56 L320.5,915.3 L321.5,913.94 L322.5,912.47 L323.5,910.89 L324.5,909.19 L325.5,907.38 L326.5,905.43 L327.5,903.36 L328.5,901.15 L329.5,898.8 L330.5,896.32 L331.5,893.68 L332.5,890.9 L333.5,887.98 L334.5,884.9 L335.5,881.68 L336.5,878.3 L337.5,874.78 L338.5,871.11 L339.5,867.3 L340.5,863.35 L341.5,859.27 L342.5,855.06 L343.5,850.73 L344.5,846.29 L345.5,841.75 L346.5,837.11 L347.5,832.4 L348.5,827.61 L349.5,822.77 L350.5,817.89 L351.5,812.98 L352.5,808.07 L353.5,803.16 L354.5,798.27 L355.5,793.43 L356.5,788.64 L357.5,783.94 L358.5,779.33 L359.5,774.84 L360.5,770.49 L361.5,766.29 L362.5,762.27 L363.5,758.44 L364.5,754.82 L365.5,751.43 L366.5,748.27 L367.5,745.38 L368.5,742.76 L369.5,740.42 L370.5,738.38 L371.5,736.65 L372.5,735.23 L373.5,734.14 L374.5,733.37 L375.5,732.93 L376.5,732.83 L377.5,733.07 L378.5,733.64 L379.5,734.53 L380.5,735.76 L381.5,737.3 L382.5,739.16 L383.5,741.32 L384.5,743.77 L385.5,746.51 L386.5,749.5 L387.5,752.75 L388.5,756.24 L389.5,759.95 L390.5,763.86 L391.5,767.95 L392.5,772.21 L393.5,776.62 L394.5,781.16 L395.5,785.81 L396.5,790.55 L397.5,795.36 L398.5,800.22 L399.5,805.12 L400.5,810.03 L401.5,814.95 L402.5,819.85 L403.5,824.71 L404.5,829.53 L405.5,834.29 L406.5,838.98 L407.5,843.58 L408.5,848.08 L409.5,852.48 L410.5,856.76 L411.5,860.92 L412.5,864.95 L413.5,868.84 L414.5,872.59 L415.5,876.2 L416.5,879.67 L417.5,882.98 L418.5,886.15 L419.5,889.17 L420.5,892.03 L421.5,894.75 L422.5,897.33 L423.5,899.76 L424.5,902.05 L425.5,904.2 L426.5,906.22 L427.5,908.12 L428.5,909.89 L429.5,911.53 L430.5,913.07 L431.5,914.49 L432.5,915.81 L433.5,917.04 L434.5,918.16 L435.5,919.2 L436.5,920.15 L437.5,921.03 L438.5,921.83 L439.5,922.56 L440.5,923.23 L441.5,923.84 L442.5,924.39 L443.5,924.89 L444.5,925.35 L445.5,925.76 L446.5,926.13 L447.5,926.46 L448.5,926.76 L449.5,927.02 L450.5,927.26 L451.5,927.48 L452.5,927.67 L453.5,927.84 L454.5,927.99 L455.5,928.12 L456.5,928.24 L457.5,928.34 L458.5,928.43 L459.5,928.51 L460.5,928.59 L461.5,928.65 L462.5,928.7 L463.5,928.75 L464.5,928.79 L465.5,928.83 L466.5,928.86 L467.5,928.88 L468.5,928.91 L469.5,928.93 L470.5,928.95 L471.5,928.96 L472.5,928.97 L473.5,928.99 L474.5,928.99 L475.5,929 L476.5,929.01 L477.5,929.02 L478.5,929.02 L479.5,929.02 L480.5,929.03 L481.5,929.03 L482.5,929.03 L483.5,929.04 L484.5,929.04 L485.5,929.04 L486.5,929.04 L487.5,929.04 L488.5,929.04 L489.5,929.04 L490.5,929.04 L491.5,929.04 L492.5,929.04 L493.5,929.05 L494.5,929.05 L495.5,929.05 L496.5,929.05 L497.5,929.05 L498.5,929.05 L499.5,929.05 L500.5,929.05 L501.5,929.05 L502.5,929.05 L503.5,929.05 L504.5,929.05 L505.5,929.05 L506.5,929.05 L507.5,929.05 L508.5,929.05 L509.5,929.05 L510.5,929.05 L511.5,929.05 L512.5,929.05 L513.5,929.05 L514.5,929.05 L515.5,929.05 L516.5,929.05 L517.5,929.05 L518.5,929.05 L519.5,929.05 L520.5,929.05 L521.5,929.05 L522.5,929.05 L523.5,929.05 L524.5,929.05 L525.5,929.05 L526.5,929.05 L527.5,929.05 L528.5,929.05 L529.5,929.05 L530.5,929.05 L531.5,929.05 L532.5,929.05 L533.5,929.05 L534.5,929.05 L535.5,929.05 L536.5,929.05 L537.5,929.05 L538.5,929.05 L539.5,929.05 L540.5,929.05 L541.5,929.05 L542.5,929.05 L543.5,929.05 L544.5,929.05 L545.5,929.05 L546.5,929.05 L547.5,929.05 L548.5,929.05 L549.5,929.05 L550.5,929.05 L551.5,929.05 L552.5,929.05 L553.5,929.05 L554.5,929.05 L555.5,929.05 L556.5,929.05 L557.5,929.05 L558.5,929.05 L559.5,929.05 L560.5,929.05 L561.5,929.05 L562.5,929.05 L563.5,929.05 L564.5,929.05 L565.5,929.05 L566.5,929.05 L567.5,929.05 L568.5,929.05 L569.5,929.05 L570.5,929.05 L571.5,929.05 L572.5,929.05 L573.5,929.05 L574.5,929.05 L575.5,929.05" fill="none" stroke="#d62728" stroke-width="3.0" stroke-linejoin="round"/>
</g>
<text transform="translate(359.3,714) rotate(-90)" class="l"><tspan x="0" y="-0" style="font-size:23px">C</tspan><tspan x="16.28" y="3.77" style="font-size:16.1px">2</tspan><tspan x="27.15" y="-0" style="font-size:23px">H</tspan><tspan x="44.67" y="3.77" style="font-size:16.1px">3</tspan><tspan x="55.54" y="-0" style="font-size:23px">N</tspan><tspan x="71.87" y="-0" style="font-size:23px">H</tspan><tspan x="89.38" y="3.77" style="font-size:16.1px">2</tspan></text>
<text transform="translate(381.2,789) rotate(-90)" class="l"><tspan x="0" y="-0" style="font-size:23px">C</tspan><tspan x="16.06" y="-0" style="font-size:23px">H</tspan><tspan x="33.57" y="3.77" style="font-size:16.1px">3</tspan><tspan x="44.45" y="-0" style="font-size:23px">C</tspan><tspan x="60.51" y="-0" style="font-size:23px">H</tspan><tspan x="77.8" y="-0" style="font-size:23px">N</tspan><tspan x="94.13" y="-0" style="font-size:23px">H</tspan></text>
<text transform="translate(474.1,862.6) rotate(-90)" class="l"><tspan x="0" y="-0" style="font-size:23px">C</tspan><tspan x="16.06" y="-0" style="font-size:23px">H</tspan><tspan x="33.57" y="3.77" style="font-size:16.1px">3</tspan><tspan x="44.45" y="-0" style="font-size:23px">C</tspan><tspan x="60.51" y="-0" style="font-size:23px">H</tspan><tspan x="77.8" y="-0" style="font-size:23px">N</tspan><tspan x="94.13" y="-0" style="font-size:23px">H</tspan></text>
<text transform="translate(516.6,786) rotate(-90)" class="l"><tspan x="0" y="-0" style="font-size:23px">C</tspan><tspan x="16.28" y="3.77" style="font-size:16.1px">2</tspan><tspan x="27.15" y="-0" style="font-size:23px">H</tspan><tspan x="44.67" y="3.77" style="font-size:16.1px">5</tspan><tspan x="55.54" y="-0" style="font-size:23px">O</tspan><tspan x="73.64" y="-0" style="font-size:23px">H</tspan></text>
<text transform="translate(546.9,843.3) rotate(-90)" class="l"><tspan x="0" y="-0" style="font-size:23px">C</tspan><tspan x="16.06" y="-0" style="font-size:23px">H</tspan><tspan x="33.57" y="-8.8" style="font-size:16.1px">1</tspan><tspan x="43.82" y="-8.8" style="font-size:16.1px">3</tspan><tspan x="33.57" y="6.29" style="font-size:16.1px">3</tspan><tspan x="54.69" y="-0" style="font-size:23px">C</tspan><tspan x="70.75" y="-0" style="font-size:23px">H</tspan><tspan x="88.04" y="-0" style="font-size:23px">O</tspan></text>
<rect x="169.5" y="551.7" width="404.9" height="404.3" fill="none" stroke="#000" stroke-width="2.6"/>
<path d="M164,956H169.5M574.4,956H579.9" stroke="#000" stroke-width="2.0"/>
<path d="M164,942.52H169.5M574.4,942.52H579.9" stroke="#000" stroke-width="2.0"/>
<path d="M154.7,929.05H169.5M574.4,929.05H589.2" stroke="#000" stroke-width="2.6"/>
<text x="144.7" y="943.65" text-anchor="end" class="t">0</text>
<path d="M164,915.57H169.5M574.4,915.57H579.9" stroke="#000" stroke-width="2.0"/>
<path d="M164,902.09H169.5M574.4,902.09H579.9" stroke="#000" stroke-width="2.0"/>
<path d="M164,888.62H169.5M574.4,888.62H579.9" stroke="#000" stroke-width="2.0"/>
<path d="M164,875.14H169.5M574.4,875.14H579.9" stroke="#000" stroke-width="2.0"/>
<path d="M154.7,861.66H169.5M574.4,861.66H589.2" stroke="#000" stroke-width="2.6"/>
<text x="144.7" y="876.26" text-anchor="end" class="t">25</text>
<path d="M164,848.19H169.5M574.4,848.19H579.9" stroke="#000" stroke-width="2.0"/>
<path d="M164,834.71H169.5M574.4,834.71H579.9" stroke="#000" stroke-width="2.0"/>
<path d="M164,821.23H169.5M574.4,821.23H579.9" stroke="#000" stroke-width="2.0"/>
<path d="M164,807.76H169.5M574.4,807.76H579.9" stroke="#000" stroke-width="2.0"/>
<path d="M154.7,794.28H169.5M574.4,794.28H589.2" stroke="#000" stroke-width="2.6"/>
<text x="144.7" y="808.88" text-anchor="end" class="t">50</text>
<path d="M164,780.8H169.5M574.4,780.8H579.9" stroke="#000" stroke-width="2.0"/>
<path d="M164,767.33H169.5M574.4,767.33H579.9" stroke="#000" stroke-width="2.0"/>
<path d="M164,753.85H169.5M574.4,753.85H579.9" stroke="#000" stroke-width="2.0"/>
<path d="M164,740.37H169.5M574.4,740.37H579.9" stroke="#000" stroke-width="2.0"/>
<path d="M154.7,726.9H169.5M574.4,726.9H589.2" stroke="#000" stroke-width="2.6"/>
<text x="144.7" y="741.5" text-anchor="end" class="t">75</text>
<path d="M164,713.42H169.5M574.4,713.42H579.9" stroke="#000" stroke-width="2.0"/>
<path d="M164,699.94H169.5M574.4,699.94H579.9" stroke="#000" stroke-width="2.0"/>
<path d="M164,686.47H169.5M574.4,686.47H579.9" stroke="#000" stroke-width="2.0"/>
<path d="M164,672.99H169.5M574.4,672.99H579.9" stroke="#000" stroke-width="2.0"/>
<path d="M154.7,659.51H169.5M574.4,659.51H589.2" stroke="#000" stroke-width="2.6"/>
<text x="144.7" y="674.11" text-anchor="end" class="t">100</text>
<path d="M164,646.04H169.5M574.4,646.04H579.9" stroke="#000" stroke-width="2.0"/>
<path d="M164,632.56H169.5M574.4,632.56H579.9" stroke="#000" stroke-width="2.0"/>
<path d="M164,619.08H169.5M574.4,619.08H579.9" stroke="#000" stroke-width="2.0"/>
<path d="M164,605.61H169.5M574.4,605.61H579.9" stroke="#000" stroke-width="2.0"/>
<path d="M154.7,592.13H169.5M574.4,592.13H589.2" stroke="#000" stroke-width="2.6"/>
<text x="144.7" y="606.73" text-anchor="end" class="t">125</text>
<path d="M164,578.65H169.5M574.4,578.65H579.9" stroke="#000" stroke-width="2.0"/>
<path d="M164,565.18H169.5M574.4,565.18H579.9" stroke="#000" stroke-width="2.0"/>
<path d="M164,551.7H169.5M574.4,551.7H579.9" stroke="#000" stroke-width="2.0"/>
<path d="M294.3,956V970.8M294.3,536.9V551.7" stroke="#000" stroke-width="2.6"/>
<text x="294.3" y="1011.3" text-anchor="middle" class="t">130.500</text>
<path d="M544.8,956V970.8M544.8,536.9V551.7" stroke="#000" stroke-width="2.6"/>
<text x="544.8" y="1011.3" text-anchor="middle" class="t">130.550</text>
<path d="M244.2,956V961.5M244.2,546.2V551.7" stroke="#000" stroke-width="2.0"/>
<path d="M194.1,956V961.5M194.1,546.2V551.7" stroke="#000" stroke-width="2.0"/>
<path d="M344.4,956V961.5M344.4,546.2V551.7" stroke="#000" stroke-width="2.0"/>
<path d="M394.5,956V961.5M394.5,546.2V551.7" stroke="#000" stroke-width="2.0"/>
<path d="M444.6,956V961.5M444.6,546.2V551.7" stroke="#000" stroke-width="2.0"/>
<path d="M494.7,956V961.5M494.7,546.2V551.7" stroke="#000" stroke-width="2.0"/>
<clipPath id="c6"><rect x="695.4" y="551.7" width="404" height="404.3"/></clipPath>
<g clip-path="url(#c6)">
<path d="M696.76,919.25 L696.76,894.3 L701.27,894.3 L701.27,890.54 L711.03,890.54 L711.03,879.27 L714.79,879.27 L714.79,872.51 L720.04,872.51 L720.04,869.51 L724.55,869.51 L724.55,855.99 L730.56,855.99 L730.56,852.24 L735.07,852.24 L735.07,849.23 L739.57,849.23 L739.57,846.98 L747.08,846.98 L747.08,851.48 L751.59,851.48 L751.59,855.24 L754.59,855.24 L754.59,861.25 L759.1,861.25 L759.1,876.27 L762.1,876.27 L762.1,879.27 L769.62,879.27 L769.62,885.28 L774.12,885.28 L774.12,892.79 L778.63,892.79 L778.63,906.31 L783.14,906.31 L783.14,909.32 L789.14,909.32 L789.14,906.31 L795.15,906.31 L795.15,909.32 L801.16,909.32 L801.16,911.57 L807.17,911.57 L807.17,912.32 L811.68,912.32 L811.68,909.32 L816.18,909.32 L816.18,906.31 L822.19,906.31 L822.19,911.57 L826.7,911.57 L826.7,919.08 L834.21,919.08 L834.21,917.58 L840.22,917.58 L840.22,912.32 L843.22,912.32 L843.22,906.31 L847.73,906.31 L847.73,901.06 L853.74,901.06 L853.74,900.3 L859.75,900.3 L859.75,885.28 L862.75,885.28 L862.75,873.27 L865.75,873.27 L865.75,858.24 L870.26,858.24 L870.26,825.2 L874.77,825.2 L874.77,810.17 L877.77,810.17 L877.77,798.16 L880.78,798.16 L880.78,786.14 L883.78,786.14 L883.78,778.63 L886.86,778.63 L886.86,747.67 L891.92,747.67 L891.92,708.9 L894.45,708.9 L894.45,705.52 L897.82,705.52 L897.82,713.95 L901.19,713.95 L901.19,724.91 L909.62,724.91 L909.62,742.62 L913.84,742.62 L913.84,762.85 L917.21,762.85 L917.21,781.4 L920.58,781.4 L920.58,801.63 L924.8,801.63 L924.8,817.65 L929.01,817.65 L929.01,848.84 L933.23,848.84 L933.23,865.7 L937.44,865.7 L937.44,879.19 L940.81,879.19 L940.81,896.05 L944.19,896.05 L944.19,899.42 L948.4,899.42 L948.4,907.85 L952.62,907.85 L952.62,914.59 L957.67,914.59 L957.67,923.02 L961.05,923.02 L961.05,925.55 L967.82,925.55 L967.82,918.82 L970.69,918.82 L970.69,906.8 L974.7,906.8 L974.7,898.11 L978.71,898.11 L978.71,903.45 L982.05,903.45 L982.05,898.11 L986.06,898.11 L986.06,900.78 L989.4,900.78 L989.4,902.79 L994.08,902.79 L994.08,899.45 L997.42,899.45 L997.42,894.1 L1001.43,894.1 L1001.43,889.42 L1006.1,889.42 L1006.1,892.76 L1009.45,892.76 L1009.45,896.77 L1012.79,896.77 L1012.79,906.13 L1017.46,906.13 L1017.46,902.12 L1022.14,902.12 L1022.14,904.12 L1027.49,904.12 L1027.49,896.77 L1032.83,896.77 L1032.83,906.13 L1036.17,906.13 L1036.17,911.47 L1038.85,911.47 L1038.85,910.14 L1043.52,910.14 L1043.52,908.8 L1047.53,908.8 L1047.53,909.47 L1055.55,909.47 L1055.55,914.15 L1059.56,914.15 L1059.56,915.48 L1063.57,915.48 L1063.57,914.81 L1069.58,914.81 L1069.58,916.15 L1077.6,916.15 L1077.6,906.46 L1081.61,906.46 L1081.61,902.79 L1084.95,902.79 L1084.95,894.77 L1089.63,894.77 L1089.63,884.75 L1093.64,884.75 L1093.64,885.41 L1100.32,885.41 L1100.32,919.25 Z" fill="#e9e9e9" stroke="none"/>
<line x1="695.4" y1="919.25" x2="1099.4" y2="919.25" stroke="#e0e0e0" stroke-width="2.6"/>
<path d="M696.76,894.3 L701.27,894.3 L701.27,890.54 L711.03,890.54 L711.03,879.27 L714.79,879.27 L714.79,872.51 L720.04,872.51 L720.04,869.51 L724.55,869.51 L724.55,855.99 L730.56,855.99 L730.56,852.24 L735.07,852.24 L735.07,849.23 L739.57,849.23 L739.57,846.98 L747.08,846.98 L747.08,851.48 L751.59,851.48 L751.59,855.24 L754.59,855.24 L754.59,861.25 L759.1,861.25 L759.1,876.27 L762.1,876.27 L762.1,879.27 L769.62,879.27 L769.62,885.28 L774.12,885.28 L774.12,892.79 L778.63,892.79 L778.63,906.31 L783.14,906.31 L783.14,909.32 L789.14,909.32 L789.14,906.31 L795.15,906.31 L795.15,909.32 L801.16,909.32 L801.16,911.57 L807.17,911.57 L807.17,912.32 L811.68,912.32 L811.68,909.32 L816.18,909.32 L816.18,906.31 L822.19,906.31 L822.19,911.57 L826.7,911.57 L826.7,919.08 L834.21,919.08 L834.21,917.58 L840.22,917.58 L840.22,912.32 L843.22,912.32 L843.22,906.31 L847.73,906.31 L847.73,901.06 L853.74,901.06 L853.74,900.3 L859.75,900.3 L859.75,885.28 L862.75,885.28 L862.75,873.27 L865.75,873.27 L865.75,858.24 L870.26,858.24 L870.26,825.2 L874.77,825.2 L874.77,810.17 L877.77,810.17 L877.77,798.16 L880.78,798.16 L880.78,786.14 L883.78,786.14 L883.78,778.63 L886.86,778.63 L886.86,747.67 L891.92,747.67 L891.92,708.9 L894.45,708.9 L894.45,705.52 L897.82,705.52 L897.82,713.95 L901.19,713.95 L901.19,724.91 L909.62,724.91 L909.62,742.62 L913.84,742.62 L913.84,762.85 L917.21,762.85 L917.21,781.4 L920.58,781.4 L920.58,801.63 L924.8,801.63 L924.8,817.65 L929.01,817.65 L929.01,848.84 L933.23,848.84 L933.23,865.7 L937.44,865.7 L937.44,879.19 L940.81,879.19 L940.81,896.05 L944.19,896.05 L944.19,899.42 L948.4,899.42 L948.4,907.85 L952.62,907.85 L952.62,914.59 L957.67,914.59 L957.67,923.02 L961.05,923.02 L961.05,925.55 L967.82,925.55 L967.82,918.82 L970.69,918.82 L970.69,906.8 L974.7,906.8 L974.7,898.11 L978.71,898.11 L978.71,903.45 L982.05,903.45 L982.05,898.11 L986.06,898.11 L986.06,900.78 L989.4,900.78 L989.4,902.79 L994.08,902.79 L994.08,899.45 L997.42,899.45 L997.42,894.1 L1001.43,894.1 L1001.43,889.42 L1006.1,889.42 L1006.1,892.76 L1009.45,892.76 L1009.45,896.77 L1012.79,896.77 L1012.79,906.13 L1017.46,906.13 L1017.46,902.12 L1022.14,902.12 L1022.14,904.12 L1027.49,904.12 L1027.49,896.77 L1032.83,896.77 L1032.83,906.13 L1036.17,906.13 L1036.17,911.47 L1038.85,911.47 L1038.85,910.14 L1043.52,910.14 L1043.52,908.8 L1047.53,908.8 L1047.53,909.47 L1055.55,909.47 L1055.55,914.15 L1059.56,914.15 L1059.56,915.48 L1063.57,915.48 L1063.57,914.81 L1069.58,914.81 L1069.58,916.15 L1077.6,916.15 L1077.6,906.46 L1081.61,906.46 L1081.61,902.79 L1084.95,902.79 L1084.95,894.77 L1089.63,894.77 L1089.63,884.75 L1093.64,884.75 L1093.64,885.41 L1100.32,885.41" fill="none" stroke="#000" stroke-width="3.6" stroke-linejoin="miter" stroke-linecap="square"/>
<path d="M693.4,913.09 L694.4,912.5 L695.4,911.88 L696.4,911.21 L697.4,910.49 L698.4,909.73 L699.4,908.92 L700.4,908.06 L701.4,907.15 L702.4,906.19 L703.4,905.17 L704.4,904.11 L705.4,902.99 L706.4,901.82 L707.4,900.59 L708.4,899.32 L709.4,897.99 L710.4,896.61 L711.4,895.19 L712.4,893.73 L713.4,892.22 L714.4,890.67 L715.4,889.08 L716.4,887.46 L717.4,885.82 L718.4,884.15 L719.4,882.45 L720.4,880.75 L721.4,879.03 L722.4,877.32 L723.4,875.6 L724.4,873.89 L725.4,872.2 L726.4,870.53 L727.4,868.89 L728.4,867.28 L729.4,865.72 L730.4,864.2 L731.4,862.74 L732.4,861.34 L733.4,860 L734.4,858.75 L735.4,857.57 L736.4,856.48 L737.4,855.48 L738.4,854.57 L739.4,853.77 L740.4,853.08 L741.4,852.49 L742.4,852.01 L743.4,851.65 L744.4,851.4 L745.4,851.27 L746.4,851.26 L747.4,851.37 L748.4,851.59 L749.4,851.93 L750.4,852.38 L751.4,852.95 L752.4,853.62 L753.4,854.41 L754.4,855.29 L755.4,856.27 L756.4,857.34 L757.4,858.5 L758.4,859.75 L759.4,861.06 L760.4,862.45 L761.4,863.9 L762.4,865.41 L763.4,866.96 L764.4,868.56 L765.4,870.2 L766.4,871.87 L767.4,873.55 L768.4,875.26 L769.4,876.97 L770.4,878.69 L771.4,880.41 L772.4,882.11 L773.4,883.81 L774.4,885.48 L775.4,887.14 L776.4,888.76 L777.4,890.35 L778.4,891.91 L779.4,893.43 L780.4,894.9 L781.4,896.33 L782.4,897.72 L783.4,899.05 L784.4,900.34 L785.4,901.57 L786.4,902.76 L787.4,903.89 L788.4,904.96 L789.4,905.99 L790.4,906.96 L791.4,907.88 L792.4,908.75 L793.4,909.57 L794.4,910.35 L795.4,911.07 L796.4,911.75 L797.4,912.38 L798.4,912.97 L799.4,913.52 L800.4,914.04 L801.4,914.51 L802.4,914.95 L803.4,915.35 L804.4,915.72 L805.4,916.06 L806.4,916.38 L807.4,916.67 L808.4,916.93 L809.4,917.17 L810.4,917.38 L811.4,917.58 L812.4,917.76 L813.4,917.92 L814.4,918.06 L815.4,918.19 L816.4,918.3 L817.4,918.41 L818.4,918.49 L819.4,918.57 L820.4,918.64 L821.4,918.7 L822.4,918.74 L823.4,918.78 L824.4,918.81 L825.4,918.83 L826.4,918.84 L827.4,918.84 L828.4,918.82 L829.4,918.8 L830.4,918.77 L831.4,918.72 L832.4,918.66 L833.4,918.58 L834.4,918.48 L835.4,918.37 L836.4,918.23 L837.4,918.07 L838.4,917.87 L839.4,917.65 L840.4,917.39 L841.4,917.08 L842.4,916.74 L843.4,916.34 L844.4,915.88 L845.4,915.36 L846.4,914.77 L847.4,914.1 L848.4,913.34 L849.4,912.49 L850.4,911.54 L851.4,910.47 L852.4,909.28 L853.4,907.95 L854.4,906.48 L855.4,904.85 L856.4,903.06 L857.4,901.09 L858.4,898.93 L859.4,896.56 L860.4,893.99 L861.4,891.2 L862.4,888.17 L863.4,884.9 L864.4,881.38 L865.4,877.61 L866.4,873.57 L867.4,869.27 L868.4,864.7 L869.4,859.86 L870.4,854.76 L871.4,849.39 L872.4,843.76 L873.4,837.88 L874.4,831.76 L875.4,825.42 L876.4,818.87 L877.4,812.12 L878.4,805.22 L879.4,798.16 L880.4,791 L881.4,783.75 L882.4,776.44 L883.4,769.12 L884.4,761.82 L885.4,754.57 L886.4,747.42 L887.4,740.41 L888.4,733.58 L889.4,726.96 L890.4,720.61 L891.4,714.56 L892.4,708.86 L893.4,703.53 L894.4,698.62 L895.4,694.16 L896.4,690.19 L897.4,686.73 L898.4,683.8 L899.4,681.44 L900.4,679.65 L901.4,678.45 L902.4,677.84 L903.4,677.84 L904.4,678.45 L905.4,679.65 L906.4,681.44 L907.4,683.8 L908.4,686.73 L909.4,690.19 L910.4,694.16 L911.4,698.62 L912.4,703.53 L913.4,708.85 L914.4,714.56 L915.4,720.61 L916.4,726.96 L917.4,733.57 L918.4,740.41 L919.4,747.42 L920.4,754.57 L921.4,761.81 L922.4,769.12 L923.4,776.44 L924.4,783.74 L925.4,790.99 L926.4,798.15 L927.4,805.2 L928.4,812.11 L929.4,818.85 L930.4,825.4 L931.4,831.74 L932.4,837.86 L933.4,843.73 L934.4,849.36 L935.4,854.72 L936.4,859.83 L937.4,864.66 L938.4,869.22 L939.4,873.52 L940.4,877.55 L941.4,881.31 L942.4,884.82 L943.4,888.08 L944.4,891.09 L945.4,893.88 L946.4,896.44 L947.4,898.79 L948.4,900.93 L949.4,902.89 L950.4,904.66 L951.4,906.27 L952.4,907.72 L953.4,909.02 L954.4,910.18 L955.4,911.22 L956.4,912.15 L957.4,912.96 L958.4,913.68 L959.4,914.31 L960.4,914.86 L961.4,915.34 L962.4,915.75 L963.4,916.1 L964.4,916.4 L965.4,916.65 L966.4,916.85 L967.4,917.01 L968.4,917.14 L969.4,917.24 L970.4,917.31 L971.4,917.36 L972.4,917.38 L973.4,917.38 L974.4,917.37 L975.4,917.33 L976.4,917.29 L977.4,917.23 L978.4,917.16 L979.4,917.08 L980.4,917 L981.4,916.9 L982.4,916.8 L983.4,916.69 L984.4,916.58 L985.4,916.46 L986.4,916.34 L987.4,916.22 L988.4,916.09 L989.4,915.96 L990.4,915.83 L991.4,915.7 L992.4,915.57 L993.4,915.44 L994.4,915.31 L995.4,915.19 L996.4,915.06 L997.4,914.94 L998.4,914.82 L999.4,914.71 L1000.4,914.59 L1001.4,914.49 L1002.4,914.39 L1003.4,914.29 L1004.4,914.2 L1005.4,914.12 L1006.4,914.05 L1007.4,913.98 L1008.4,913.92 L1009.4,913.87 L1010.4,913.82 L1011.4,913.79 L1012.4,913.76 L1013.4,913.74 L1014.4,913.73 L1015.4,913.73 L1016.4,913.73 L1017.4,913.75 L1018.4,913.77 L1019.4,913.81 L1020.4,913.85 L1021.4,913.89 L1022.4,913.95 L1023.4,914.01 L1024.4,914.09 L1025.4,914.16 L1026.4,914.25 L1027.4,914.34 L1028.4,914.43 L1029.4,914.53 L1030.4,914.63 L1031.4,914.74 L1032.4,914.85 L1033.4,914.97 L1034.4,915.08 L1035.4,915.2 L1036.4,915.32 L1037.4,915.44 L1038.4,915.55 L1039.4,915.67 L1040.4,915.79 L1041.4,915.9 L1042.4,916.01 L1043.4,916.12 L1044.4,916.23 L1045.4,916.33 L1046.4,916.42 L1047.4,916.51 L1048.4,916.6 L1049.4,916.68 L1050.4,916.75 L1051.4,916.82 L1052.4,916.88 L1053.4,916.93 L1054.4,916.97 L1055.4,917.01 L1056.4,917.03 L1057.4,917.05 L1058.4,917.06 L1059.4,917.06 L1060.4,917.06 L1061.4,917.04 L1062.4,917.01 L1063.4,916.98 L1064.4,916.93 L1065.4,916.88 L1066.4,916.81 L1067.4,916.74 L1068.4,916.66 L1069.4,916.57 L1070.4,916.47 L1071.4,916.36 L1072.4,916.24 L1073.4,916.12 L1074.4,915.98 L1075.4,915.84 L1076.4,915.7 L1077.4,915.55 L1078.4,915.39 L1079.4,915.22 L1080.4,915.05 L1081.4,914.88 L1082.4,914.7 L1083.4,914.52 L1084.4,914.34 L1085.4,914.16 L1086.4,913.97 L1087.4,913.79 L1088.4,913.6 L1089.4,913.42 L1090.4,913.24 L1091.4,913.06 L1092.4,912.89 L1093.4,912.72 L1094.4,912.55 L1095.4,912.4 L1096.4,912.24 L1097.4,912.1 L1098.4,911.96 L1099.4,911.84 L1100.4,911.72 L1101.4,911.61" fill="none" stroke="#1f77b4" stroke-width="3.0" stroke-linejoin="round"/>
<path d="M693.4,919.25 L694.4,919.25 L695.4,919.25 L696.4,919.25 L697.4,919.25 L698.4,919.25 L699.4,919.25 L700.4,919.25 L701.4,919.25 L702.4,919.25 L703.4,919.25 L704.4,919.25 L705.4,919.25 L706.4,919.25 L707.4,919.25 L708.4,919.25 L709.4,919.25 L710.4,919.25 L711.4,919.25 L712.4,919.25 L713.4,919.25 L714.4,919.25 L715.4,919.25 L716.4,919.25 L717.4,919.25 L718.4,919.25 L719.4,919.25 L720.4,919.25 L721.4,919.25 L722.4,919.25 L723.4,919.25 L724.4,919.25 L725.4,919.25 L726.4,919.25 L727.4,919.25 L728.4,919.25 L729.4,919.25 L730.4,919.25 L731.4,919.25 L732.4,919.25 L733.4,919.25 L734.4,919.25 L735.4,919.25 L736.4,919.25 L737.4,919.25 L738.4,919.25 L739.4,919.25 L740.4,919.25 L741.4,919.25 L742.4,919.25 L743.4,919.25 L744.4,919.25 L745.4,919.25 L746.4,919.25 L747.4,919.25 L748.4,919.25 L749.4,919.25 L750.4,919.25 L751.4,919.25 L752.4,919.25 L753.4,919.25 L754.4,919.25 L755.4,919.25 L756.4,919.25 L757.4,919.25 L758.4,919.25 L759.4,919.25 L760.4,919.25 L761.4,919.25 L762.4,919.25 L763.4,919.25 L764.4,919.25 L765.4,919.25 L766.4,919.25 L767.4,919.25 L768.4,919.25 L769.4,919.25 L770.4,919.25 L771.4,919.25 L772.4,919.25 L773.4,919.25 L774.4,919.25 L775.4,919.25 L776.4,919.25 L777.4,919.25 L778.4,919.25 L779.4,919.25 L780.4,919.25 L781.4,919.25 L782.4,919.25 L783.4,919.25 L784.4,919.25 L785.4,919.25 L786.4,919.25 L787.4,919.25 L788.4,919.25 L789.4,919.25 L790.4,919.25 L791.4,919.25 L792.4,919.25 L793.4,919.25 L794.4,919.25 L795.4,919.25 L796.4,919.25 L797.4,919.25 L798.4,919.25 L799.4,919.25 L800.4,919.24 L801.4,919.24 L802.4,919.24 L803.4,919.24 L804.4,919.24 L805.4,919.24 L806.4,919.24 L807.4,919.24 L808.4,919.24 L809.4,919.24 L810.4,919.24 L811.4,919.24 L812.4,919.24 L813.4,919.23 L814.4,919.23 L815.4,919.23 L816.4,919.22 L817.4,919.22 L818.4,919.21 L819.4,919.21 L820.4,919.2 L821.4,919.19 L822.4,919.17 L823.4,919.16 L824.4,919.14 L825.4,919.11 L826.4,919.09 L827.4,919.05 L828.4,919.01 L829.4,918.96 L830.4,918.91 L831.4,918.84 L832.4,918.76 L833.4,918.67 L834.4,918.56 L835.4,918.44 L836.4,918.29 L837.4,918.12 L838.4,917.92 L839.4,917.69 L840.4,917.42 L841.4,917.12 L842.4,916.77 L843.4,916.36 L844.4,915.91 L845.4,915.38 L846.4,914.79 L847.4,914.12 L848.4,913.37 L849.4,912.52 L850.4,911.57 L851.4,910.5 L852.4,909.31 L853.4,907.99 L854.4,906.52 L855.4,904.9 L856.4,903.11 L857.4,901.15 L858.4,898.99 L859.4,896.63 L860.4,894.07 L861.4,891.28 L862.4,888.26 L863.4,885 L864.4,881.5 L865.4,877.74 L866.4,873.71 L867.4,869.43 L868.4,864.87 L869.4,860.05 L870.4,854.95 L871.4,849.6 L872.4,843.99 L873.4,838.13 L874.4,832.03 L875.4,825.7 L876.4,819.17 L877.4,812.45 L878.4,805.56 L879.4,798.53 L880.4,791.39 L881.4,784.16 L882.4,776.88 L883.4,769.58 L884.4,762.3 L885.4,755.07 L886.4,747.95 L887.4,740.95 L888.4,734.14 L889.4,727.55 L890.4,721.22 L891.4,715.19 L892.4,709.5 L893.4,704.19 L894.4,699.29 L895.4,694.85 L896.4,690.89 L897.4,687.44 L898.4,684.52 L899.4,682.16 L900.4,680.38 L901.4,679.18 L902.4,678.58 L903.4,678.58 L904.4,679.18 L905.4,680.38 L906.4,682.16 L907.4,684.52 L908.4,687.44 L909.4,690.89 L910.4,694.85 L911.4,699.29 L912.4,704.19 L913.4,709.5 L914.4,715.19 L915.4,721.22 L916.4,727.55 L917.4,734.14 L918.4,740.95 L919.4,747.95 L920.4,755.07 L921.4,762.3 L922.4,769.58 L923.4,776.88 L924.4,784.16 L925.4,791.39 L926.4,798.53 L927.4,805.56 L928.4,812.45 L929.4,819.17 L930.4,825.7 L931.4,832.03 L932.4,838.13 L933.4,843.99 L934.4,849.6 L935.4,854.95 L936.4,860.05 L937.4,864.87 L938.4,869.43 L939.4,873.71 L940.4,877.74 L941.4,881.5 L942.4,885 L943.4,888.26 L944.4,891.28 L945.4,894.07 L946.4,896.63 L947.4,898.99 L948.4,901.15 L949.4,903.11 L950.4,904.9 L951.4,906.52 L952.4,907.99 L953.4,909.31 L954.4,910.5 L955.4,911.57 L956.4,912.52 L957.4,913.37 L958.4,914.12 L959.4,914.79 L960.4,915.38 L961.4,915.91 L962.4,916.36 L963.4,916.77 L964.4,917.12 L965.4,917.42 L966.4,917.69 L967.4,917.92 L968.4,918.12 L969.4,918.29 L970.4,918.44 L971.4,918.56 L972.4,918.67 L973.4,918.76 L974.4,918.84 L975.4,918.91 L976.4,918.96 L977.4,919.01 L978.4,919.05 L979.4,919.09 L980.4,919.11 L981.4,919.14 L982.4,919.16 L983.4,919.17 L984.4,919.19 L985.4,919.2 L986.4,919.21 L987.4,919.21 L988.4,919.22 L989.4,919.22 L990.4,919.23 L991.4,919.23 L992.4,919.23 L993.4,919.24 L994.4,919.24 L995.4,919.24 L996.4,919.24 L997.4,919.24 L998.4,919.24 L999.4,919.24 L1000.4,919.24 L1001.4,919.24 L1002.4,919.24 L1003.4,919.24 L1004.4,919.24 L1005.4,919.24 L1006.4,919.25 L1007.4,919.25 L1008.4,919.25 L1009.4,919.25 L1010.4,919.25 L1011.4,919.25 L1012.4,919.25 L1013.4,919.25 L1014.4,919.25 L1015.4,919.25 L1016.4,919.25 L1017.4,919.25 L1018.4,919.25 L1019.4,919.25 L1020.4,919.25 L1021.4,919.25 L1022.4,919.25 L1023.4,919.25 L1024.4,919.25 L1025.4,919.25 L1026.4,919.25 L1027.4,919.25 L1028.4,919.25 L1029.4,919.25 L1030.4,919.25 L1031.4,919.25 L1032.4,919.25 L1033.4,919.25 L1034.4,919.25 L1035.4,919.25 L1036.4,919.25 L1037.4,919.25 L1038.4,919.25 L1039.4,919.25 L1040.4,919.25 L1041.4,919.25 L1042.4,919.25 L1043.4,919.25 L1044.4,919.25 L1045.4,919.25 L1046.4,919.25 L1047.4,919.25 L1048.4,919.25 L1049.4,919.25 L1050.4,919.25 L1051.4,919.25 L1052.4,919.25 L1053.4,919.25 L1054.4,919.25 L1055.4,919.25 L1056.4,919.25 L1057.4,919.25 L1058.4,919.25 L1059.4,919.25 L1060.4,919.25 L1061.4,919.25 L1062.4,919.25 L1063.4,919.25 L1064.4,919.25 L1065.4,919.25 L1066.4,919.25 L1067.4,919.25 L1068.4,919.25 L1069.4,919.25 L1070.4,919.25 L1071.4,919.25 L1072.4,919.25 L1073.4,919.25 L1074.4,919.25 L1075.4,919.25 L1076.4,919.25 L1077.4,919.25 L1078.4,919.25 L1079.4,919.25 L1080.4,919.25 L1081.4,919.25 L1082.4,919.25 L1083.4,919.25 L1084.4,919.25 L1085.4,919.25 L1086.4,919.25 L1087.4,919.25 L1088.4,919.25 L1089.4,919.25 L1090.4,919.25 L1091.4,919.25 L1092.4,919.25 L1093.4,919.25 L1094.4,919.25 L1095.4,919.25 L1096.4,919.25 L1097.4,919.25 L1098.4,919.25 L1099.4,919.25 L1100.4,919.25 L1101.4,919.25" fill="none" stroke="#d62728" stroke-width="3.0" stroke-linejoin="round"/>
</g>
<text transform="translate(738.1,841) rotate(-90)" class="l"><tspan x="0" y="-0" style="font-size:23px">H</tspan><tspan x="17.29" y="-0" style="font-size:23px">C</tspan><tspan x="33.35" y="-0" style="font-size:23px">C</tspan><tspan x="49.41" y="-0" style="font-size:23px">C</tspan><tspan x="65.47" y="-0" style="font-size:23px">C</tspan><tspan x="81.75" y="-8.8" style="font-size:16.1px">1</tspan><tspan x="92" y="-8.8" style="font-size:16.1px">3</tspan><tspan x="102.87" y="-0" style="font-size:23px">C</tspan><tspan x="118.93" y="-0" style="font-size:23px">N</tspan></text>
<text transform="translate(749.3,838) rotate(-90)" class="l"><tspan x="0" y="-0" style="font-size:23px">C</tspan><tspan x="16.28" y="3.77" style="font-size:16.1px">2</tspan><tspan x="27.15" y="-0" style="font-size:23px">H</tspan><tspan x="44.67" y="3.77" style="font-size:16.1px">5</tspan><tspan x="55.54" y="-0" style="font-size:23px">C</tspan><tspan x="71.6" y="-0" style="font-size:23px">N</tspan></text>
<text transform="translate(766.6,846.3) rotate(-90)" class="l"><tspan x="0" y="-0" style="font-size:23px">C</tspan><tspan x="16.06" y="-0" style="font-size:23px">H</tspan><tspan x="33.57" y="3.77" style="font-size:16.1px">2</tspan><tspan x="44.45" y="-0" style="font-size:23px">C</tspan><tspan x="60.51" y="-0" style="font-size:23px">H</tspan><tspan x="77.8" y="-0" style="font-size:23px">O</tspan><tspan x="95.9" y="-0" style="font-size:23px">H</tspan></text>
<rect x="695.4" y="551.7" width="404" height="404.3" fill="none" stroke="#000" stroke-width="2.6"/>
<path d="M689.9,956H695.4M1099.4,956H1104.9" stroke="#000" stroke-width="2.0"/>
<path d="M689.9,937.62H695.4M1099.4,937.62H1104.9" stroke="#000" stroke-width="2.0"/>
<path d="M680.6,919.25H695.4M1099.4,919.25H1114.2" stroke="#000" stroke-width="2.6"/>
<text x="670.6" y="933.85" text-anchor="end" class="t">0</text>
<path d="M689.9,900.87H695.4M1099.4,900.87H1104.9" stroke="#000" stroke-width="2.0"/>
<path d="M689.9,882.49H695.4M1099.4,882.49H1104.9" stroke="#000" stroke-width="2.0"/>
<path d="M689.9,864.11H695.4M1099.4,864.11H1104.9" stroke="#000" stroke-width="2.0"/>
<path d="M680.6,845.74H695.4M1099.4,845.74H1114.2" stroke="#000" stroke-width="2.6"/>
<text x="670.6" y="860.34" text-anchor="end" class="t">20</text>
<path d="M689.9,827.36H695.4M1099.4,827.36H1104.9" stroke="#000" stroke-width="2.0"/>
<path d="M689.9,808.98H695.4M1099.4,808.98H1104.9" stroke="#000" stroke-width="2.0"/>
<path d="M689.9,790.6H695.4M1099.4,790.6H1104.9" stroke="#000" stroke-width="2.0"/>
<path d="M680.6,772.23H695.4M1099.4,772.23H1114.2" stroke="#000" stroke-width="2.6"/>
<text x="670.6" y="786.83" text-anchor="end" class="t">40</text>
<path d="M689.9,753.85H695.4M1099.4,753.85H1104.9" stroke="#000" stroke-width="2.0"/>
<path d="M689.9,735.47H695.4M1099.4,735.47H1104.9" stroke="#000" stroke-width="2.0"/>
<path d="M689.9,717.1H695.4M1099.4,717.1H1104.9" stroke="#000" stroke-width="2.0"/>
<path d="M680.6,698.72H695.4M1099.4,698.72H1114.2" stroke="#000" stroke-width="2.6"/>
<text x="670.6" y="713.32" text-anchor="end" class="t">60</text>
<path d="M689.9,680.34H695.4M1099.4,680.34H1104.9" stroke="#000" stroke-width="2.0"/>
<path d="M689.9,661.96H695.4M1099.4,661.96H1104.9" stroke="#000" stroke-width="2.0"/>
<path d="M689.9,643.59H695.4M1099.4,643.59H1104.9" stroke="#000" stroke-width="2.0"/>
<path d="M680.6,625.21H695.4M1099.4,625.21H1114.2" stroke="#000" stroke-width="2.6"/>
<text x="670.6" y="639.81" text-anchor="end" class="t">80</text>
<path d="M689.9,606.83H695.4M1099.4,606.83H1104.9" stroke="#000" stroke-width="2.0"/>
<path d="M689.9,588.45H695.4M1099.4,588.45H1104.9" stroke="#000" stroke-width="2.0"/>
<path d="M689.9,570.08H695.4M1099.4,570.08H1104.9" stroke="#000" stroke-width="2.0"/>
<path d="M680.6,551.7H695.4M1099.4,551.7H1114.2" stroke="#000" stroke-width="2.6"/>
<text x="670.6" y="566.3" text-anchor="end" class="t">100</text>
<path d="M761.3,956V970.8M761.3,536.9V551.7" stroke="#000" stroke-width="2.6"/>
<text x="761.3" y="1011.3" text-anchor="middle" class="t">142.350</text>
<path d="M993.2,956V970.8M993.2,536.9V551.7" stroke="#000" stroke-width="2.6"/>
<text x="993.2" y="1011.3" text-anchor="middle" class="t">142.400</text>
<path d="M714.92,956V961.5M714.92,546.2V551.7" stroke="#000" stroke-width="2.0"/>
<path d="M807.68,956V961.5M807.68,546.2V551.7" stroke="#000" stroke-width="2.0"/>
<path d="M854.06,956V961.5M854.06,546.2V551.7" stroke="#000" stroke-width="2.0"/>
<path d="M900.44,956V961.5M900.44,546.2V551.7" stroke="#000" stroke-width="2.0"/>
<path d="M946.82,956V961.5M946.82,546.2V551.7" stroke="#000" stroke-width="2.0"/>
<path d="M1039.58,956V961.5M1039.58,546.2V551.7" stroke="#000" stroke-width="2.0"/>
<path d="M1085.96,956V961.5M1085.96,546.2V551.7" stroke="#000" stroke-width="2.0"/>
<clipPath id="c7"><rect x="1220.8" y="551.7" width="404.7" height="404.3"/></clipPath>
<g clip-path="url(#c7)">
<path d="M1221.07,919.25 L1221.07,895.86 L1224.44,895.86 L1224.44,890.46 L1232.53,890.46 L1232.53,886.42 L1236.57,886.42 L1236.57,881.7 L1241.97,881.7 L1241.97,886.42 L1245.34,886.42 L1245.34,897.21 L1248.71,897.21 L1248.71,899.23 L1254.1,899.23 L1254.1,909.34 L1258.15,909.34 L1258.15,913.39 L1262.2,913.39 L1262.2,917.43 L1265.57,917.43 L1265.57,922.83 L1270.29,922.83 L1270.29,913.39 L1272.98,913.39 L1272.98,907.99 L1285.12,907.99 L1285.12,901.25 L1290.51,901.25 L1290.51,905.3 L1295.91,905.3 L1295.91,893.16 L1299.95,893.16 L1299.95,878.33 L1304,878.33 L1304,863.5 L1306.69,863.5 L1306.69,857.43 L1310.74,857.43 L1310.74,878.33 L1313.44,878.33 L1313.44,895.86 L1318.83,895.86 L1318.83,891.81 L1324.22,891.81 L1324.22,899.9 L1328.27,899.9 L1328.27,909.34 L1332.31,909.34 L1332.31,914.74 L1341.75,914.74 L1341.75,905.97 L1347.15,905.97 L1347.15,908.67 L1352.54,908.67 L1352.54,910.02 L1361.98,910.02 L1361.98,905.97 L1367.37,905.97 L1367.37,912.04 L1370.07,912.04 L1370.07,918.78 L1375.46,918.78 L1375.46,916.08 L1379.51,916.08 L1379.51,912.04 L1382.21,912.04 L1382.21,904.62 L1386.25,904.62 L1386.25,893.16 L1390.3,893.16 L1390.3,885.07 L1392.99,885.07 L1392.99,872.93 L1397,872.93 L1397,854.56 L1399.5,854.56 L1399.5,836.41 L1402.9,836.41 L1402.9,811.45 L1406.31,811.45 L1406.31,784.22 L1410.84,784.22 L1410.84,756.99 L1415.38,756.99 L1415.38,716.15 L1422.19,716.15 L1422.19,713.88 L1427.86,713.88 L1427.86,710.47 L1432.4,710.47 L1432.4,727.49 L1436.94,727.49 L1436.94,754.72 L1440.34,754.72 L1440.34,784.22 L1444.88,784.22 L1444.88,797.84 L1449.42,797.84 L1449.42,820.53 L1453.96,820.53 L1453.96,840.95 L1457.36,840.95 L1457.36,863.64 L1460.76,863.64 L1460.76,879.52 L1465.3,879.52 L1465.3,888.6 L1469.84,888.6 L1469.84,902.21 L1474.38,902.21 L1474.38,918.1 L1478.92,918.1 L1478.92,927.17 L1483.52,927.17 L1483.52,941.34 L1491.28,941.34 L1491.28,934.3 L1496.92,934.3 L1496.92,930.07 L1502.56,930.07 L1502.56,925.84 L1508.2,925.84 L1508.2,923.02 L1513.84,923.02 L1513.84,925.84 L1519.48,925.84 L1519.48,921.61 L1522.3,921.61 L1522.3,911.74 L1527.93,911.74 L1527.93,900.46 L1532.16,900.46 L1532.16,877.9 L1535.69,877.9 L1535.69,858.16 L1539.21,858.16 L1539.21,848.3 L1542.74,848.3 L1542.74,838.43 L1546.26,838.43 L1546.26,832.79 L1550.49,832.79 L1550.49,828.56 L1556.13,828.56 L1556.13,837.02 L1560.36,837.02 L1560.36,851.82 L1563.89,851.82 L1563.89,857.46 L1568.12,857.46 L1568.12,870.85 L1571.64,870.85 L1571.64,880.72 L1577.28,880.72 L1577.28,888.48 L1581.51,888.48 L1581.51,897.64 L1587.15,897.64 L1587.15,900.46 L1591.38,900.46 L1591.38,910.33 L1595.61,910.33 L1595.61,913.15 L1601.25,913.15 L1601.25,914.56 L1606.89,914.56 L1606.89,915.97 L1610.41,915.97 L1610.41,925.84 L1615.34,925.84 L1615.34,921.61 L1618.87,921.61 L1618.87,904.69 L1622.39,904.69 L1622.39,880.72 L1626.62,880.72 L1626.62,919.25 Z" fill="#e9e9e9" stroke="none"/>
<line x1="1220.8" y1="919.25" x2="1625.5" y2="919.25" stroke="#e0e0e0" stroke-width="2.6"/>
<path d="M1221.07,895.86 L1224.44,895.86 L1224.44,890.46 L1232.53,890.46 L1232.53,886.42 L1236.57,886.42 L1236.57,881.7 L1241.97,881.7 L1241.97,886.42 L1245.34,886.42 L1245.34,897.21 L1248.71,897.21 L1248.71,899.23 L1254.1,899.23 L1254.1,909.34 L1258.15,909.34 L1258.15,913.39 L1262.2,913.39 L1262.2,917.43 L1265.57,917.43 L1265.57,922.83 L1270.29,922.83 L1270.29,913.39 L1272.98,913.39 L1272.98,907.99 L1285.12,907.99 L1285.12,901.25 L1290.51,901.25 L1290.51,905.3 L1295.91,905.3 L1295.91,893.16 L1299.95,893.16 L1299.95,878.33 L1304,878.33 L1304,863.5 L1306.69,863.5 L1306.69,857.43 L1310.74,857.43 L1310.74,878.33 L1313.44,878.33 L1313.44,895.86 L1318.83,895.86 L1318.83,891.81 L1324.22,891.81 L1324.22,899.9 L1328.27,899.9 L1328.27,909.34 L1332.31,909.34 L1332.31,914.74 L1341.75,914.74 L1341.75,905.97 L1347.15,905.97 L1347.15,908.67 L1352.54,908.67 L1352.54,910.02 L1361.98,910.02 L1361.98,905.97 L1367.37,905.97 L1367.37,912.04 L1370.07,912.04 L1370.07,918.78 L1375.46,918.78 L1375.46,916.08 L1379.51,916.08 L1379.51,912.04 L1382.21,912.04 L1382.21,904.62 L1386.25,904.62 L1386.25,893.16 L1390.3,893.16 L1390.3,885.07 L1392.99,885.07 L1392.99,872.93 L1397,872.93 L1397,854.56 L1399.5,854.56 L1399.5,836.41 L1402.9,836.41 L1402.9,811.45 L1406.31,811.45 L1406.31,784.22 L1410.84,784.22 L1410.84,756.99 L1415.38,756.99 L1415.38,716.15 L1422.19,716.15 L1422.19,713.88 L1427.86,713.88 L1427.86,710.47 L1432.4,710.47 L1432.4,727.49 L1436.94,727.49 L1436.94,754.72 L1440.34,754.72 L1440.34,784.22 L1444.88,784.22 L1444.88,797.84 L1449.42,797.84 L1449.42,820.53 L1453.96,820.53 L1453.96,840.95 L1457.36,840.95 L1457.36,863.64 L1460.76,863.64 L1460.76,879.52 L1465.3,879.52 L1465.3,888.6 L1469.84,888.6 L1469.84,902.21 L1474.38,902.21 L1474.38,918.1 L1478.92,918.1 L1478.92,927.17 L1483.52,927.17 L1483.52,941.34 L1491.28,941.34 L1491.28,934.3 L1496.92,934.3 L1496.92,930.07 L1502.56,930.07 L1502.56,925.84 L1508.2,925.84 L1508.2,923.02 L1513.84,923.02 L1513.84,925.84 L1519.48,925.84 L1519.48,921.61 L1522.3,921.61 L1522.3,911.74 L1527.93,911.74 L1527.93,900.46 L1532.16,900.46 L1532.16,877.9 L1535.69,877.9 L1535.69,858.16 L1539.21,858.16 L1539.21,848.3 L1542.74,848.3 L1542.74,838.43 L1546.26,838.43 L1546.26,832.79 L1550.49,832.79 L1550.49,828.56 L1556.13,828.56 L1556.13,837.02 L1560.36,837.02 L1560.36,851.82 L1563.89,851.82 L1563.89,857.46 L1568.12,857.46 L1568.12,870.85 L1571.64,870.85 L1571.64,880.72 L1577.28,880.72 L1577.28,888.48 L1581.51,888.48 L1581.51,897.64 L1587.15,897.64 L1587.15,900.46 L1591.38,900.46 L1591.38,910.33 L1595.61,910.33 L1595.61,913.15 L1601.25,913.15 L1601.25,914.56 L1606.89,914.56 L1606.89,915.97 L1610.41,915.97 L1610.41,925.84 L1615.34,925.84 L1615.34,921.61 L1618.87,921.61 L1618.87,904.69 L1622.39,904.69 L1622.39,880.72 L1626.62,880.72" fill="none" stroke="#000" stroke-width="3.6" stroke-linejoin="miter" stroke-linecap="square"/>
<path d="M1218.8,899.09 L1219.8,898.61 L1220.8,898.14 L1221.8,897.71 L1222.8,897.31 L1223.8,896.93 L1224.8,896.59 L1225.8,896.27 L1226.8,895.98 L1227.8,895.72 L1228.8,895.49 L1229.8,895.29 L1230.8,895.12 L1231.8,894.97 L1232.8,894.86 L1233.8,894.78 L1234.8,894.73 L1235.8,894.71 L1236.8,894.73 L1237.8,894.78 L1238.8,894.86 L1239.8,894.98 L1240.8,895.14 L1241.8,895.33 L1242.8,895.56 L1243.8,895.83 L1244.8,896.13 L1245.8,896.47 L1246.8,896.85 L1247.8,897.26 L1248.8,897.71 L1249.8,898.18 L1250.8,898.69 L1251.8,899.23 L1252.8,899.8 L1253.8,900.39 L1254.8,901 L1255.8,901.64 L1256.8,902.29 L1257.8,902.95 L1258.8,903.62 L1259.8,904.3 L1260.8,904.98 L1261.8,905.67 L1262.8,906.35 L1263.8,907.02 L1264.8,907.69 L1265.8,908.35 L1266.8,909 L1267.8,909.62 L1268.8,910.24 L1269.8,910.83 L1270.8,911.4 L1271.8,911.94 L1272.8,912.45 L1273.8,912.94 L1274.8,913.39 L1275.8,913.8 L1276.8,914.17 L1277.8,914.5 L1278.8,914.76 L1279.8,914.96 L1280.8,915.08 L1281.8,915.1 L1282.8,915.03 L1283.8,914.82 L1284.8,914.48 L1285.8,913.96 L1286.8,913.26 L1287.8,912.35 L1288.8,911.2 L1289.8,909.8 L1290.8,908.13 L1291.8,906.18 L1292.8,903.95 L1293.8,901.45 L1294.8,898.69 L1295.8,895.7 L1296.8,892.52 L1297.8,889.22 L1298.8,885.84 L1299.8,882.48 L1300.8,879.21 L1301.8,876.12 L1302.8,873.3 L1303.8,870.83 L1304.8,868.79 L1305.8,867.26 L1306.8,866.27 L1307.8,865.86 L1308.8,866.06 L1309.8,866.85 L1310.8,868.2 L1311.8,870.08 L1312.8,872.42 L1313.8,875.15 L1314.8,878.19 L1315.8,881.45 L1316.8,884.84 L1317.8,888.28 L1318.8,891.69 L1319.8,895 L1320.8,898.15 L1321.8,901.1 L1322.8,903.81 L1323.8,906.26 L1324.8,908.45 L1325.8,910.37 L1326.8,912.03 L1327.8,913.44 L1328.8,914.63 L1329.8,915.62 L1330.8,916.42 L1331.8,917.07 L1332.8,917.59 L1333.8,917.99 L1334.8,918.31 L1335.8,918.54 L1336.8,918.72 L1337.8,918.85 L1338.8,918.95 L1339.8,919.01 L1340.8,919.05 L1341.8,919.07 L1342.8,919.08 L1343.8,919.08 L1344.8,919.06 L1345.8,919.04 L1346.8,919.01 L1347.8,918.97 L1348.8,918.93 L1349.8,918.87 L1350.8,918.8 L1351.8,918.72 L1352.8,918.63 L1353.8,918.53 L1354.8,918.4 L1355.8,918.26 L1356.8,918.1 L1357.8,917.91 L1358.8,917.69 L1359.8,917.45 L1360.8,917.16 L1361.8,916.84 L1362.8,916.48 L1363.8,916.07 L1364.8,915.61 L1365.8,915.08 L1366.8,914.5 L1367.8,913.84 L1368.8,913.1 L1369.8,912.28 L1370.8,911.37 L1371.8,910.36 L1372.8,909.24 L1373.8,908.01 L1374.8,906.65 L1375.8,905.16 L1376.8,903.52 L1377.8,901.74 L1378.8,899.8 L1379.8,897.69 L1380.8,895.4 L1381.8,892.93 L1382.8,890.27 L1383.8,887.41 L1384.8,884.35 L1385.8,881.07 L1386.8,877.59 L1387.8,873.88 L1388.8,869.95 L1389.8,865.81 L1390.8,861.44 L1391.8,856.86 L1392.8,852.06 L1393.8,847.05 L1394.8,841.85 L1395.8,836.45 L1396.8,830.87 L1397.8,825.13 L1398.8,819.23 L1399.8,813.21 L1400.8,807.07 L1401.8,800.83 L1402.8,794.53 L1403.8,788.19 L1404.8,781.83 L1405.8,775.48 L1406.8,769.17 L1407.8,762.94 L1408.8,756.8 L1409.8,750.8 L1410.8,744.97 L1411.8,739.34 L1412.8,733.93 L1413.8,728.79 L1414.8,723.94 L1415.8,719.41 L1416.8,715.24 L1417.8,711.43 L1418.8,708.03 L1419.8,705.05 L1420.8,702.51 L1421.8,700.42 L1422.8,698.81 L1423.8,697.68 L1424.8,697.04 L1425.8,696.89 L1426.8,697.24 L1427.8,698.07 L1428.8,699.4 L1429.8,701.2 L1430.8,703.47 L1431.8,706.19 L1432.8,709.34 L1433.8,712.91 L1434.8,716.86 L1435.8,721.18 L1436.8,725.84 L1437.8,730.81 L1438.8,736.06 L1439.8,741.56 L1440.8,747.28 L1441.8,753.18 L1442.8,759.24 L1443.8,765.42 L1444.8,771.69 L1445.8,778.01 L1446.8,784.37 L1447.8,790.73 L1448.8,797.06 L1449.8,803.33 L1450.8,809.53 L1451.8,815.63 L1452.8,821.6 L1453.8,827.44 L1454.8,833.11 L1455.8,838.62 L1456.8,843.94 L1457.8,849.07 L1458.8,853.99 L1459.8,858.7 L1460.8,863.2 L1461.8,867.47 L1462.8,871.53 L1463.8,875.37 L1464.8,878.98 L1465.8,882.38 L1466.8,885.57 L1467.8,888.55 L1468.8,891.32 L1469.8,893.91 L1470.8,896.3 L1471.8,898.51 L1472.8,900.55 L1473.8,902.42 L1474.8,904.14 L1475.8,905.71 L1476.8,907.14 L1477.8,908.44 L1478.8,909.62 L1479.8,910.69 L1480.8,911.65 L1481.8,912.52 L1482.8,913.29 L1483.8,913.98 L1484.8,914.6 L1485.8,915.15 L1486.8,915.63 L1487.8,916.05 L1488.8,916.43 L1489.8,916.75 L1490.8,917.03 L1491.8,917.27 L1492.8,917.48 L1493.8,917.65 L1494.8,917.79 L1495.8,917.9 L1496.8,917.99 L1497.8,918.05 L1498.8,918.09 L1499.8,918.11 L1500.8,918.11 L1501.8,918.09 L1502.8,918.05 L1503.8,917.99 L1504.8,917.91 L1505.8,917.81 L1506.8,917.69 L1507.8,917.56 L1508.8,917.39 L1509.8,917.21 L1510.8,917.01 L1511.8,916.77 L1512.8,916.52 L1513.8,916.23 L1514.8,915.92 L1515.8,915.57 L1516.8,915.2 L1517.8,914.79 L1518.8,914.34 L1519.8,913.86 L1520.8,913.35 L1521.8,912.79 L1522.8,912.19 L1523.8,911.56 L1524.8,910.88 L1525.8,910.16 L1526.8,909.4 L1527.8,908.6 L1528.8,907.77 L1529.8,906.89 L1530.8,905.97 L1531.8,905.02 L1532.8,904.04 L1533.8,903.02 L1534.8,901.98 L1535.8,900.92 L1536.8,899.83 L1537.8,898.73 L1538.8,897.62 L1539.8,896.5 L1540.8,895.39 L1541.8,894.28 L1542.8,893.18 L1543.8,892.09 L1544.8,891.03 L1545.8,890 L1546.8,889.01 L1547.8,888.06 L1548.8,887.16 L1549.8,886.31 L1550.8,885.51 L1551.8,884.79 L1552.8,884.13 L1553.8,883.55 L1554.8,883.04 L1555.8,882.61 L1556.8,882.27 L1557.8,882.01 L1558.8,881.84 L1559.8,881.75 L1560.8,881.75 L1561.8,881.84 L1562.8,882.01 L1563.8,882.26 L1564.8,882.6 L1565.8,883 L1566.8,883.48 L1567.8,884.03 L1568.8,884.64 L1569.8,885.31 L1570.8,886.04 L1571.8,886.8 L1572.8,887.61 L1573.8,888.46 L1574.8,889.33 L1575.8,890.22 L1576.8,891.13 L1577.8,892.05 L1578.8,892.98 L1579.8,893.9 L1580.8,894.81 L1581.8,895.72 L1582.8,896.6 L1583.8,897.47 L1584.8,898.3 L1585.8,899.11 L1586.8,899.89 L1587.8,900.63 L1588.8,901.33 L1589.8,901.99 L1590.8,902.61 L1591.8,903.18 L1592.8,903.7 L1593.8,904.18 L1594.8,904.61 L1595.8,904.98 L1596.8,905.31 L1597.8,905.58 L1598.8,905.81 L1599.8,905.98 L1600.8,906.1 L1601.8,906.16 L1602.8,906.18 L1603.8,906.13 L1604.8,906.04 L1605.8,905.89 L1606.8,905.69 L1607.8,905.44 L1608.8,905.13 L1609.8,904.77 L1610.8,904.35 L1611.8,903.88 L1612.8,903.35 L1613.8,902.77 L1614.8,902.14 L1615.8,901.45 L1616.8,900.71 L1617.8,899.92 L1618.8,899.07 L1619.8,898.18 L1620.8,897.24 L1621.8,896.25 L1622.8,895.21 L1623.8,894.13 L1624.8,893.01 L1625.8,891.86 L1626.8,890.67" fill="none" stroke="#1f77b4" stroke-width="3.0" stroke-linejoin="round"/>
<path d="M1218.8,919.25 L1219.8,919.25 L1220.8,919.25 L1221.8,919.25 L1222.8,919.25 L1223.8,919.25 L1224.8,919.25 L1225.8,919.25 L1226.8,919.25 L1227.8,919.25 L1228.8,919.25 L1229.8,919.25 L1230.8,919.25 L1231.8,919.25 L1232.8,919.25 L1233.8,919.25 L1234.8,919.25 L1235.8,919.25 L1236.8,919.25 L1237.8,919.25 L1238.8,919.25 L1239.8,919.25 L1240.8,919.25 L1241.8,919.25 L1242.8,919.25 L1243.8,919.25 L1244.8,919.25 L1245.8,919.25 L1246.8,919.25 L1247.8,919.25 L1248.8,919.25 L1249.8,919.25 L1250.8,919.25 L1251.8,919.25 L1252.8,919.25 L1253.8,919.25 L1254.8,919.25 L1255.8,919.25 L1256.8,919.25 L1257.8,919.25 L1258.8,919.25 L1259.8,919.25 L1260.8,919.25 L1261.8,919.25 L1262.8,919.25 L1263.8,919.25 L1264.8,919.25 L1265.8,919.25 L1266.8,919.25 L1267.8,919.25 L1268.8,919.25 L1269.8,919.25 L1270.8,919.25 L1271.8,919.25 L1272.8,919.25 L1273.8,919.25 L1274.8,919.25 L1275.8,919.25 L1276.8,919.25 L1277.8,919.25 L1278.8,919.25 L1279.8,919.25 L1280.8,919.25 L1281.8,919.25 L1282.8,919.25 L1283.8,919.25 L1284.8,919.25 L1285.8,919.25 L1286.8,919.25 L1287.8,919.25 L1288.8,919.25 L1289.8,919.25 L1290.8,919.25 L1291.8,919.25 L1292.8,919.25 L1293.8,919.25 L1294.8,919.25 L1295.8,919.25 L1296.8,919.25 L1297.8,919.25 L1298.8,919.25 L1299.8,919.25 L1300.8,919.25 L1301.8,919.25 L1302.8,919.25 L1303.8,919.25 L1304.8,919.25 L1305.8,919.25 L1306.8,919.25 L1307.8,919.25 L1308.8,919.25 L1309.8,919.25 L1310.8,919.25 L1311.8,919.25 L1312.8,919.25 L1313.8,919.25 L1314.8,919.25 L1315.8,919.25 L1316.8,919.25 L1317.8,919.25 L1318.8,919.25 L1319.8,919.25 L1320.8,919.25 L1321.8,919.24 L1322.8,919.24 L1323.8,919.24 L1324.8,919.24 L1325.8,919.24 L1326.8,919.24 L1327.8,919.24 L1328.8,919.24 L1329.8,919.24 L1330.8,919.24 L1331.8,919.24 L1332.8,919.24 L1333.8,919.24 L1334.8,919.24 L1335.8,919.23 L1336.8,919.23 L1337.8,919.23 L1338.8,919.22 L1339.8,919.22 L1340.8,919.21 L1341.8,919.2 L1342.8,919.2 L1343.8,919.18 L1344.8,919.17 L1345.8,919.16 L1346.8,919.14 L1347.8,919.12 L1348.8,919.09 L1349.8,919.06 L1350.8,919.02 L1351.8,918.98 L1352.8,918.93 L1353.8,918.87 L1354.8,918.8 L1355.8,918.72 L1356.8,918.62 L1357.8,918.51 L1358.8,918.38 L1359.8,918.23 L1360.8,918.06 L1361.8,917.86 L1362.8,917.64 L1363.8,917.38 L1364.8,917.08 L1365.8,916.74 L1366.8,916.36 L1367.8,915.93 L1368.8,915.44 L1369.8,914.89 L1370.8,914.26 L1371.8,913.57 L1372.8,912.79 L1373.8,911.93 L1374.8,910.96 L1375.8,909.89 L1376.8,908.71 L1377.8,907.41 L1378.8,905.97 L1379.8,904.4 L1380.8,902.68 L1381.8,900.8 L1382.8,898.76 L1383.8,896.54 L1384.8,894.14 L1385.8,891.56 L1386.8,888.78 L1387.8,885.8 L1388.8,882.61 L1389.8,879.21 L1390.8,875.6 L1391.8,871.78 L1392.8,867.74 L1393.8,863.49 L1394.8,859.02 L1395.8,854.35 L1396.8,849.48 L1397.8,844.42 L1398.8,839.18 L1399.8,833.78 L1400.8,828.22 L1401.8,822.53 L1402.8,816.71 L1403.8,810.81 L1404.8,804.83 L1405.8,798.8 L1406.8,792.75 L1407.8,786.71 L1408.8,780.7 L1409.8,774.75 L1410.8,768.9 L1411.8,763.18 L1412.8,757.62 L1413.8,752.26 L1414.8,747.11 L1415.8,742.22 L1416.8,737.62 L1417.8,733.33 L1418.8,729.39 L1419.8,725.81 L1420.8,722.62 L1421.8,719.85 L1422.8,717.51 L1423.8,715.62 L1424.8,714.19 L1425.8,713.23 L1426.8,712.75 L1427.8,712.75 L1428.8,713.23 L1429.8,714.19 L1430.8,715.62 L1431.8,717.51 L1432.8,719.85 L1433.8,722.62 L1434.8,725.81 L1435.8,729.39 L1436.8,733.33 L1437.8,737.62 L1438.8,742.22 L1439.8,747.11 L1440.8,752.26 L1441.8,757.62 L1442.8,763.18 L1443.8,768.9 L1444.8,774.75 L1445.8,780.7 L1446.8,786.71 L1447.8,792.75 L1448.8,798.8 L1449.8,804.83 L1450.8,810.81 L1451.8,816.71 L1452.8,822.53 L1453.8,828.22 L1454.8,833.78 L1455.8,839.18 L1456.8,844.42 L1457.8,849.48 L1458.8,854.35 L1459.8,859.02 L1460.8,863.49 L1461.8,867.74 L1462.8,871.78 L1463.8,875.6 L1464.8,879.21 L1465.8,882.61 L1466.8,885.8 L1467.8,888.78 L1468.8,891.56 L1469.8,894.14 L1470.8,896.54 L1471.8,898.76 L1472.8,900.8 L1473.8,902.68 L1474.8,904.4 L1475.8,905.97 L1476.8,907.41 L1477.8,908.71 L1478.8,909.89 L1479.8,910.96 L1480.8,911.93 L1481.8,912.79 L1482.8,913.57 L1483.8,914.26 L1484.8,914.89 L1485.8,915.44 L1486.8,915.93 L1487.8,916.36 L1488.8,916.74 L1489.8,917.08 L1490.8,917.38 L1491.8,917.64 L1492.8,917.86 L1493.8,918.06 L1494.8,918.23 L1495.8,918.38 L1496.8,918.51 L1497.8,918.62 L1498.8,918.72 L1499.8,918.8 L1500.8,918.87 L1501.8,918.93 L1502.8,918.98 L1503.8,919.02 L1504.8,919.06 L1505.8,919.09 L1506.8,919.12 L1507.8,919.14 L1508.8,919.16 L1509.8,919.17 L1510.8,919.18 L1511.8,919.2 L1512.8,919.2 L1513.8,919.21 L1514.8,919.22 L1515.8,919.22 L1516.8,919.23 L1517.8,919.23 L1518.8,919.23 L1519.8,919.24 L1520.8,919.24 L1521.8,919.24 L1522.8,919.24 L1523.8,919.24 L1524.8,919.24 L1525.8,919.24 L1526.8,919.24 L1527.8,919.24 L1528.8,919.24 L1529.8,919.24 L1530.8,919.24 L1531.8,919.24 L1532.8,919.24 L1533.8,919.25 L1534.8,919.25 L1535.8,919.25 L1536.8,919.25 L1537.8,919.25 L1538.8,919.25 L1539.8,919.25 L1540.8,919.25 L1541.8,919.25 L1542.8,919.25 L1543.8,919.25 L1544.8,919.25 L1545.8,919.25 L1546.8,919.25 L1547.8,919.25 L1548.8,919.25 L1549.8,919.25 L1550.8,919.25 L1551.8,919.25 L1552.8,919.25 L1553.8,919.25 L1554.8,919.25 L1555.8,919.25 L1556.8,919.25 L1557.8,919.25 L1558.8,919.25 L1559.8,919.25 L1560.8,919.25 L1561.8,919.25 L1562.8,919.25 L1563.8,919.25 L1564.8,919.25 L1565.8,919.25 L1566.8,919.25 L1567.8,919.25 L1568.8,919.25 L1569.8,919.25 L1570.8,919.25 L1571.8,919.25 L1572.8,919.25 L1573.8,919.25 L1574.8,919.25 L1575.8,919.25 L1576.8,919.25 L1577.8,919.25 L1578.8,919.25 L1579.8,919.25 L1580.8,919.25 L1581.8,919.25 L1582.8,919.25 L1583.8,919.25 L1584.8,919.25 L1585.8,919.25 L1586.8,919.25 L1587.8,919.25 L1588.8,919.25 L1589.8,919.25 L1590.8,919.25 L1591.8,919.25 L1592.8,919.25 L1593.8,919.25 L1594.8,919.25 L1595.8,919.25 L1596.8,919.25 L1597.8,919.25 L1598.8,919.25 L1599.8,919.25 L1600.8,919.25 L1601.8,919.25 L1602.8,919.25 L1603.8,919.25 L1604.8,919.25 L1605.8,919.25 L1606.8,919.25 L1607.8,919.25 L1608.8,919.25 L1609.8,919.25 L1610.8,919.25 L1611.8,919.25 L1612.8,919.25 L1613.8,919.25 L1614.8,919.25 L1615.8,919.25 L1616.8,919.25 L1617.8,919.25 L1618.8,919.25 L1619.8,919.25 L1620.8,919.25 L1621.8,919.25 L1622.8,919.25 L1623.8,919.25 L1624.8,919.25 L1625.8,919.25 L1626.8,919.25" fill="none" stroke="#d62728" stroke-width="3.0" stroke-linejoin="round"/>
</g>
<text transform="translate(1250.1,872) rotate(-90)" class="l"><tspan style="font-size:23px">Z-HNCHCN</tspan></text>
<text transform="translate(1318.2,846) rotate(-90)" class="l"><tspan x="0" y="-0" style="font-size:23px">N</tspan><tspan x="17.43" y="3.77" style="font-size:16.1px">2</tspan><tspan x="28.3" y="-0" style="font-size:23px">D</tspan><tspan x="46.23" y="-9.8" style="font-size:16.1px">+</tspan></text>
<text transform="translate(1435.4,684) rotate(-90)" class="l"><tspan x="0" y="-0" style="font-size:23px">C</tspan><tspan x="16.28" y="3.77" style="font-size:16.1px">2</tspan><tspan x="27.15" y="-0" style="font-size:23px">H</tspan><tspan x="44.67" y="3.77" style="font-size:16.1px">5</tspan><tspan x="55.54" y="-0" style="font-size:23px">C</tspan><tspan x="71.6" y="-0" style="font-size:23px">N</tspan></text>
<text transform="translate(1564.6,818.8) rotate(-90)" class="l"><tspan x="0" y="-0" style="font-size:23px">C</tspan><tspan x="16.06" y="-0" style="font-size:23px">H</tspan><tspan x="33.57" y="3.77" style="font-size:16.1px">3</tspan><tspan x="44.45" y="-0" style="font-size:23px">C</tspan><tspan x="60.51" y="-0" style="font-size:23px">H</tspan><tspan x="77.8" y="-0" style="font-size:23px">O</tspan></text>
<rect x="1220.8" y="551.7" width="404.7" height="404.3" fill="none" stroke="#000" stroke-width="2.6"/>
<path d="M1215.3,956H1220.8M1625.5,956H1631" stroke="#000" stroke-width="2.0"/>
<path d="M1215.3,937.62H1220.8M1625.5,937.62H1631" stroke="#000" stroke-width="2.0"/>
<path d="M1206,919.25H1220.8M1625.5,919.25H1640.3" stroke="#000" stroke-width="2.6"/>
<text x="1196" y="933.85" text-anchor="end" class="t">0</text>
<path d="M1215.3,900.87H1220.8M1625.5,900.87H1631" stroke="#000" stroke-width="2.0"/>
<path d="M1215.3,882.49H1220.8M1625.5,882.49H1631" stroke="#000" stroke-width="2.0"/>
<path d="M1215.3,864.11H1220.8M1625.5,864.11H1631" stroke="#000" stroke-width="2.0"/>
<path d="M1206,845.74H1220.8M1625.5,845.74H1640.3" stroke="#000" stroke-width="2.6"/>
<text x="1196" y="860.34" text-anchor="end" class="t">20</text>
<path d="M1215.3,827.36H1220.8M1625.5,827.36H1631" stroke="#000" stroke-width="2.0"/>
<path d="M1215.3,808.98H1220.8M1625.5,808.98H1631" stroke="#000" stroke-width="2.0"/>
<path d="M1215.3,790.6H1220.8M1625.5,790.6H1631" stroke="#000" stroke-width="2.0"/>
<path d="M1206,772.23H1220.8M1625.5,772.23H1640.3" stroke="#000" stroke-width="2.6"/>
<text x="1196" y="786.83" text-anchor="end" class="t">40</text>
<path d="M1215.3,753.85H1220.8M1625.5,753.85H1631" stroke="#000" stroke-width="2.0"/>
<path d="M1215.3,735.47H1220.8M1625.5,735.47H1631" stroke="#000" stroke-width="2.0"/>
<path d="M1215.3,717.1H1220.8M1625.5,717.1H1631" stroke="#000" stroke-width="2.0"/>
<path d="M1206,698.72H1220.8M1625.5,698.72H1640.3" stroke="#000" stroke-width="2.6"/>
<text x="1196" y="713.32" text-anchor="end" class="t">60</text>
<path d="M1215.3,680.34H1220.8M1625.5,680.34H1631" stroke="#000" stroke-width="2.0"/>
<path d="M1215.3,661.96H1220.8M1625.5,661.96H1631" stroke="#000" stroke-width="2.0"/>
<path d="M1215.3,643.59H1220.8M1625.5,643.59H1631" stroke="#000" stroke-width="2.0"/>
<path d="M1206,625.21H1220.8M1625.5,625.21H1640.3" stroke="#000" stroke-width="2.6"/>
<text x="1196" y="639.81" text-anchor="end" class="t">80</text>
<path d="M1215.3,606.83H1220.8M1625.5,606.83H1631" stroke="#000" stroke-width="2.0"/>
<path d="M1215.3,588.45H1220.8M1625.5,588.45H1631" stroke="#000" stroke-width="2.0"/>
<path d="M1215.3,570.08H1220.8M1625.5,570.08H1631" stroke="#000" stroke-width="2.0"/>
<path d="M1206,551.7H1220.8M1625.5,551.7H1640.3" stroke="#000" stroke-width="2.6"/>
<text x="1196" y="566.3" text-anchor="end" class="t">100</text>
<path d="M1239,956V970.8M1239,536.9V551.7" stroke="#000" stroke-width="2.6"/>
<text x="1239" y="1011.3" text-anchor="middle" class="t">154.200</text>
<path d="M1453.5,956V970.8M1453.5,536.9V551.7" stroke="#000" stroke-width="2.6"/>
<text x="1453.5" y="1011.3" text-anchor="middle" class="t">154.250</text>
<path d="M1281.9,956V961.5M1281.9,546.2V551.7" stroke="#000" stroke-width="2.0"/>
<path d="M1324.8,956V961.5M1324.8,546.2V551.7" stroke="#000" stroke-width="2.0"/>
<path d="M1367.7,956V961.5M1367.7,546.2V551.7" stroke="#000" stroke-width="2.0"/>
<path d="M1410.6,956V961.5M1410.6,546.2V551.7" stroke="#000" stroke-width="2.0"/>
<path d="M1496.4,956V961.5M1496.4,546.2V551.7" stroke="#000" stroke-width="2.0"/>
<path d="M1539.3,956V961.5M1539.3,546.2V551.7" stroke="#000" stroke-width="2.0"/>
<path d="M1582.2,956V961.5M1582.2,546.2V551.7" stroke="#000" stroke-width="2.0"/>
<path d="M1625.1,956V961.5M1625.1,546.2V551.7" stroke="#000" stroke-width="2.0"/>
<clipPath id="c8"><rect x="1746.2" y="551.7" width="404.3" height="404.3"/></clipPath>
<g clip-path="url(#c8)">
<path d="M1747.76,898.24 L1747.76,893.61 L1749.87,893.61 L1749.87,908.42 L1753.4,908.42 L1753.4,876.69 L1759.75,876.69 L1759.75,892.2 L1763.27,892.2 L1763.27,880.92 L1768.21,880.92 L1768.21,885.15 L1771.03,885.15 L1771.03,923.94 L1774.56,923.94 L1774.56,876.69 L1775.97,876.69 L1775.97,859.76 L1779.49,859.76 L1779.49,954.26 L1782.31,954.26 L1782.31,917.59 L1786.54,917.59 L1786.54,928.87 L1790.07,928.87 L1790.07,911.95 L1793.6,911.95 L1793.6,931.69 L1797.83,931.69 L1797.83,896.43 L1802.06,896.43 L1802.06,909.13 L1804.88,909.13 L1804.88,865.4 L1809.11,865.4 L1809.11,879.51 L1813.34,879.51 L1813.34,889.38 L1816.16,889.38 L1816.16,828.73 L1819.69,828.73 L1819.69,916.18 L1822.51,916.18 L1822.51,858.35 L1826.04,858.35 L1826.04,951.44 L1830.97,951.44 L1830.97,892.2 L1833.79,892.2 L1833.79,868.22 L1840.14,868.22 L1840.14,933.1 L1844.37,933.1 L1844.37,866.81 L1848.6,866.81 L1848.6,906.3 L1851.42,906.3 L1851.42,849.89 L1853.54,849.89 L1853.54,924.64 L1856.36,924.64 L1856.36,865.4 L1859.89,865.4 L1859.89,825.91 L1862.71,825.91 L1862.71,803.34 L1865.53,803.34 L1865.53,832.96 L1868.35,832.96 L1868.35,786.42 L1872.58,786.42 L1872.58,811.81 L1876.81,811.81 L1876.81,776.54 L1880.34,776.54 L1880.34,742.69 L1882.45,742.69 L1882.45,755.39 L1886.69,755.39 L1886.69,794.88 L1889.51,794.88 L1889.51,821.68 L1893.03,821.68 L1893.03,797.7 L1895.15,797.7 L1895.15,830.14 L1898.67,830.14 L1898.67,807.57 L1901.5,807.57 L1901.5,803.34 L1905.02,803.34 L1905.02,834.37 L1907.84,834.37 L1907.84,827.32 L1912.07,827.32 L1912.07,865.4 L1914.19,865.4 L1914.19,818.86 L1916.3,818.86 L1916.3,792.06 L1919.13,792.06 L1919.13,874.57 L1922.65,874.57 L1922.65,837.19 L1926.18,837.19 L1926.18,841.42 L1931.82,841.42 L1931.82,838.6 L1936.05,838.6 L1936.05,889.38 L1938.87,889.38 L1938.87,872.45 L1941.69,872.45 L1941.69,766.67 L1944.51,766.67 L1944.51,758.21 L1947.33,758.21 L1947.33,814.59 L1950.57,814.59 L1950.57,896.36 L1954.1,896.36 L1954.1,747.62 L1958.33,747.62 L1958.33,752.56 L1961.15,752.56 L1961.15,828.69 L1964.67,828.69 L1964.67,817.41 L1970.31,817.41 L1970.31,863.93 L1973.84,863.93 L1973.84,847.02 L1978.07,847.02 L1978.07,796.26 L1982.3,796.26 L1982.3,923.15 L1985.82,923.15 L1985.82,872.39 L1991.46,872.39 L1991.46,941.48 L1995.69,941.48 L1995.69,894.95 L1999.21,894.95 L1999.21,832.92 L2003.44,832.92 L2003.44,882.26 L2006.97,882.26 L2006.97,914.69 L2011.2,914.69 L2011.2,858.3 L2014.72,858.3 L2014.72,931.61 L2018.95,931.61 L2018.95,876.62 L2023.18,876.62 L2023.18,949.94 L2027.41,949.94 L2027.41,904.82 L2030.23,904.82 L2030.23,870.98 L2033.75,870.98 L2033.75,942.89 L2037.28,942.89 L2037.28,885.08 L2040.1,885.08 L2040.1,896.36 L2042.92,896.36 L2042.92,969.67 L2047.15,969.67 L2047.15,917.51 L2052.79,917.51 L2052.79,887.9 L2057.02,887.9 L2057.02,914.69 L2062.66,914.69 L2062.66,849.84 L2068.3,849.84 L2068.3,821.64 L2071.12,821.64 L2071.12,906.23 L2075.34,906.23 L2075.34,879.44 L2079.57,879.44 L2079.57,916.1 L2083.8,916.1 L2083.8,875.21 L2088.03,875.21 L2088.03,896.36 L2092.26,896.36 L2092.26,935.84 L2096.49,935.84 L2096.49,889.31 L2100.72,889.31 L2100.72,839.97 L2104.95,839.97 L2104.95,947.12 L2109.18,947.12 L2109.18,837.15 L2113.41,837.15 L2113.41,902 L2117.64,902 L2117.64,835.74 L2121.87,835.74 L2121.87,848.43 L2126.1,848.43 L2126.1,854.07 L2130.33,854.07 L2130.33,814.59 L2134.56,814.59 L2134.56,907.64 L2138.79,907.64 L2138.79,825.87 L2143.02,825.87 L2143.02,887.9 L2147.25,887.9 L2147.25,821.64 L2151.48,821.64 L2151.48,898.24 Z" fill="#e9e9e9" stroke="none"/>
<line x1="1746.2" y1="898.24" x2="2150.5" y2="898.24" stroke="#e0e0e0" stroke-width="2.6"/>
<path d="M1747.76,893.61 L1749.87,893.61 L1749.87,908.42 L1753.4,908.42 L1753.4,876.69 L1759.75,876.69 L1759.75,892.2 L1763.27,892.2 L1763.27,880.92 L1768.21,880.92 L1768.21,885.15 L1771.03,885.15 L1771.03,923.94 L1774.56,923.94 L1774.56,876.69 L1775.97,876.69 L1775.97,859.76 L1779.49,859.76 L1779.49,954.26 L1782.31,954.26 L1782.31,917.59 L1786.54,917.59 L1786.54,928.87 L1790.07,928.87 L1790.07,911.95 L1793.6,911.95 L1793.6,931.69 L1797.83,931.69 L1797.83,896.43 L1802.06,896.43 L1802.06,909.13 L1804.88,909.13 L1804.88,865.4 L1809.11,865.4 L1809.11,879.51 L1813.34,879.51 L1813.34,889.38 L1816.16,889.38 L1816.16,828.73 L1819.69,828.73 L1819.69,916.18 L1822.51,916.18 L1822.51,858.35 L1826.04,858.35 L1826.04,951.44 L1830.97,951.44 L1830.97,892.2 L1833.79,892.2 L1833.79,868.22 L1840.14,868.22 L1840.14,933.1 L1844.37,933.1 L1844.37,866.81 L1848.6,866.81 L1848.6,906.3 L1851.42,906.3 L1851.42,849.89 L1853.54,849.89 L1853.54,924.64 L1856.36,924.64 L1856.36,865.4 L1859.89,865.4 L1859.89,825.91 L1862.71,825.91 L1862.71,803.34 L1865.53,803.34 L1865.53,832.96 L1868.35,832.96 L1868.35,786.42 L1872.58,786.42 L1872.58,811.81 L1876.81,811.81 L1876.81,776.54 L1880.34,776.54 L1880.34,742.69 L1882.45,742.69 L1882.45,755.39 L1886.69,755.39 L1886.69,794.88 L1889.51,794.88 L1889.51,821.68 L1893.03,821.68 L1893.03,797.7 L1895.15,797.7 L1895.15,830.14 L1898.67,830.14 L1898.67,807.57 L1901.5,807.57 L1901.5,803.34 L1905.02,803.34 L1905.02,834.37 L1907.84,834.37 L1907.84,827.32 L1912.07,827.32 L1912.07,865.4 L1914.19,865.4 L1914.19,818.86 L1916.3,818.86 L1916.3,792.06 L1919.13,792.06 L1919.13,874.57 L1922.65,874.57 L1922.65,837.19 L1926.18,837.19 L1926.18,841.42 L1931.82,841.42 L1931.82,838.6 L1936.05,838.6 L1936.05,889.38 L1938.87,889.38 L1938.87,872.45 L1941.69,872.45 L1941.69,766.67 L1944.51,766.67 L1944.51,758.21 L1947.33,758.21 L1947.33,814.59 L1950.57,814.59 L1950.57,896.36 L1954.1,896.36 L1954.1,747.62 L1958.33,747.62 L1958.33,752.56 L1961.15,752.56 L1961.15,828.69 L1964.67,828.69 L1964.67,817.41 L1970.31,817.41 L1970.31,863.93 L1973.84,863.93 L1973.84,847.02 L1978.07,847.02 L1978.07,796.26 L1982.3,796.26 L1982.3,923.15 L1985.82,923.15 L1985.82,872.39 L1991.46,872.39 L1991.46,941.48 L1995.69,941.48 L1995.69,894.95 L1999.21,894.95 L1999.21,832.92 L2003.44,832.92 L2003.44,882.26 L2006.97,882.26 L2006.97,914.69 L2011.2,914.69 L2011.2,858.3 L2014.72,858.3 L2014.72,931.61 L2018.95,931.61 L2018.95,876.62 L2023.18,876.62 L2023.18,949.94 L2027.41,949.94 L2027.41,904.82 L2030.23,904.82 L2030.23,870.98 L2033.75,870.98 L2033.75,942.89 L2037.28,942.89 L2037.28,885.08 L2040.1,885.08 L2040.1,896.36 L2042.92,896.36 L2042.92,969.67 L2047.15,969.67 L2047.15,917.51 L2052.79,917.51 L2052.79,887.9 L2057.02,887.9 L2057.02,914.69 L2062.66,914.69 L2062.66,849.84 L2068.3,849.84 L2068.3,821.64 L2071.12,821.64 L2071.12,906.23 L2075.34,906.23 L2075.34,879.44 L2079.57,879.44 L2079.57,916.1 L2083.8,916.1 L2083.8,875.21 L2088.03,875.21 L2088.03,896.36 L2092.26,896.36 L2092.26,935.84 L2096.49,935.84 L2096.49,889.31 L2100.72,889.31 L2100.72,839.97 L2104.95,839.97 L2104.95,947.12 L2109.18,947.12 L2109.18,837.15 L2113.41,837.15 L2113.41,902 L2117.64,902 L2117.64,835.74 L2121.87,835.74 L2121.87,848.43 L2126.1,848.43 L2126.1,854.07 L2130.33,854.07 L2130.33,814.59 L2134.56,814.59 L2134.56,907.64 L2138.79,907.64 L2138.79,825.87 L2143.02,825.87 L2143.02,887.9 L2147.25,887.9 L2147.25,821.64 L2151.48,821.64" fill="none" stroke="#000" stroke-width="3.6" stroke-linejoin="miter" stroke-linecap="square"/>
<path d="M1744.2,894.85 L1745.2,894.89 L1746.2,894.94 L1747.2,894.99 L1748.2,895.06 L1749.2,895.13 L1750.2,895.2 L1751.2,895.28 L1752.2,895.37 L1753.2,895.46 L1754.2,895.55 L1755.2,895.65 L1756.2,895.75 L1757.2,895.85 L1758.2,895.95 L1759.2,896.06 L1760.2,896.16 L1761.2,896.27 L1762.2,896.37 L1763.2,896.47 L1764.2,896.58 L1765.2,896.68 L1766.2,896.77 L1767.2,896.87 L1768.2,896.96 L1769.2,897.05 L1770.2,897.13 L1771.2,897.22 L1772.2,897.29 L1773.2,897.37 L1774.2,897.44 L1775.2,897.51 L1776.2,897.57 L1777.2,897.63 L1778.2,897.68 L1779.2,897.74 L1780.2,897.78 L1781.2,897.83 L1782.2,897.87 L1783.2,897.91 L1784.2,897.94 L1785.2,897.97 L1786.2,898 L1787.2,898.03 L1788.2,898.05 L1789.2,898.07 L1790.2,898.09 L1791.2,898.11 L1792.2,898.13 L1793.2,898.14 L1794.2,898.15 L1795.2,898.17 L1796.2,898.18 L1797.2,898.18 L1798.2,898.19 L1799.2,898.2 L1800.2,898.21 L1801.2,898.21 L1802.2,898.21 L1803.2,898.22 L1804.2,898.22 L1805.2,898.22 L1806.2,898.23 L1807.2,898.23 L1808.2,898.23 L1809.2,898.23 L1810.2,898.23 L1811.2,898.23 L1812.2,898.23 L1813.2,898.23 L1814.2,898.23 L1815.2,898.22 L1816.2,898.22 L1817.2,898.22 L1818.2,898.21 L1819.2,898.21 L1820.2,898.2 L1821.2,898.19 L1822.2,898.18 L1823.2,898.16 L1824.2,898.14 L1825.2,898.12 L1826.2,898.1 L1827.2,898.07 L1828.2,898.03 L1829.2,897.99 L1830.2,897.94 L1831.2,897.88 L1832.2,897.81 L1833.2,897.73 L1834.2,897.63 L1835.2,897.52 L1836.2,897.4 L1837.2,897.25 L1838.2,897.09 L1839.2,896.9 L1840.2,896.68 L1841.2,896.43 L1842.2,896.16 L1843.2,895.84 L1844.2,895.49 L1845.2,895.1 L1846.2,894.66 L1847.2,894.17 L1848.2,893.63 L1849.2,893.04 L1850.2,892.38 L1851.2,891.67 L1852.2,890.89 L1853.2,890.04 L1854.2,889.13 L1855.2,888.14 L1856.2,887.08 L1857.2,885.95 L1858.2,884.74 L1859.2,883.46 L1860.2,882.12 L1861.2,880.7 L1862.2,879.21 L1863.2,877.66 L1864.2,876.06 L1865.2,874.4 L1866.2,872.7 L1867.2,870.96 L1868.2,869.19 L1869.2,867.41 L1870.2,865.61 L1871.2,863.81 L1872.2,862.02 L1873.2,860.25 L1874.2,858.52 L1875.2,856.83 L1876.2,855.2 L1877.2,853.64 L1878.2,852.15 L1879.2,850.76 L1880.2,849.46 L1881.2,848.27 L1882.2,847.19 L1883.2,846.22 L1884.2,845.39 L1885.2,844.67 L1886.2,844.09 L1887.2,843.63 L1888.2,843.29 L1889.2,843.07 L1890.2,842.97 L1891.2,842.97 L1892.2,843.07 L1893.2,843.26 L1894.2,843.53 L1895.2,843.86 L1896.2,844.25 L1897.2,844.67 L1898.2,845.13 L1899.2,845.6 L1900.2,846.07 L1901.2,846.54 L1902.2,846.98 L1903.2,847.39 L1904.2,847.77 L1905.2,848.09 L1906.2,848.36 L1907.2,848.56 L1908.2,848.69 L1909.2,848.74 L1910.2,848.71 L1911.2,848.59 L1912.2,848.38 L1913.2,848.07 L1914.2,847.65 L1915.2,847.12 L1916.2,846.47 L1917.2,845.7 L1918.2,844.8 L1919.2,843.77 L1920.2,842.6 L1921.2,841.29 L1922.2,839.83 L1923.2,838.21 L1924.2,836.45 L1925.2,834.53 L1926.2,832.46 L1927.2,830.23 L1928.2,827.87 L1929.2,825.36 L1930.2,822.73 L1931.2,819.98 L1932.2,817.13 L1933.2,814.2 L1934.2,811.19 L1935.2,808.13 L1936.2,805.04 L1937.2,801.94 L1938.2,798.85 L1939.2,795.81 L1940.2,792.82 L1941.2,789.92 L1942.2,787.13 L1943.2,784.47 L1944.2,781.97 L1945.2,779.64 L1946.2,777.51 L1947.2,775.59 L1948.2,773.91 L1949.2,772.47 L1950.2,771.28 L1951.2,770.37 L1952.2,769.74 L1953.2,769.39 L1954.2,769.33 L1955.2,769.57 L1956.2,770.09 L1957.2,770.9 L1958.2,772 L1959.2,773.37 L1960.2,775.01 L1961.2,776.91 L1962.2,779.06 L1963.2,781.43 L1964.2,784.03 L1965.2,786.82 L1966.2,789.79 L1967.2,792.93 L1968.2,796.22 L1969.2,799.62 L1970.2,803.14 L1971.2,806.74 L1972.2,810.41 L1973.2,814.12 L1974.2,817.87 L1975.2,821.62 L1976.2,825.37 L1977.2,829.1 L1978.2,832.78 L1979.2,836.42 L1980.2,839.98 L1981.2,843.47 L1982.2,846.87 L1983.2,850.16 L1984.2,853.35 L1985.2,856.43 L1986.2,859.38 L1987.2,862.21 L1988.2,864.91 L1989.2,867.48 L1990.2,869.92 L1991.2,872.22 L1992.2,874.39 L1993.2,876.43 L1994.2,878.35 L1995.2,880.13 L1996.2,881.8 L1997.2,883.34 L1998.2,884.77 L1999.2,886.1 L2000.2,887.31 L2001.2,888.43 L2002.2,889.46 L2003.2,890.39 L2004.2,891.24 L2005.2,892.02 L2006.2,892.72 L2007.2,893.35 L2008.2,893.92 L2009.2,894.44 L2010.2,894.9 L2011.2,895.31 L2012.2,895.67 L2013.2,896 L2014.2,896.29 L2015.2,896.54 L2016.2,896.77 L2017.2,896.97 L2018.2,897.14 L2019.2,897.3 L2020.2,897.43 L2021.2,897.55 L2022.2,897.65 L2023.2,897.73 L2024.2,897.81 L2025.2,897.88 L2026.2,897.93 L2027.2,897.98 L2028.2,898.02 L2029.2,898.06 L2030.2,898.09 L2031.2,898.11 L2032.2,898.13 L2033.2,898.15 L2034.2,898.17 L2035.2,898.18 L2036.2,898.19 L2037.2,898.2 L2038.2,898.21 L2039.2,898.21 L2040.2,898.22 L2041.2,898.22 L2042.2,898.23 L2043.2,898.23 L2044.2,898.23 L2045.2,898.23 L2046.2,898.23 L2047.2,898.23 L2048.2,898.23 L2049.2,898.23 L2050.2,898.23 L2051.2,898.23 L2052.2,898.23 L2053.2,898.23 L2054.2,898.23 L2055.2,898.23 L2056.2,898.23 L2057.2,898.23 L2058.2,898.22 L2059.2,898.22 L2060.2,898.21 L2061.2,898.21 L2062.2,898.2 L2063.2,898.2 L2064.2,898.19 L2065.2,898.18 L2066.2,898.17 L2067.2,898.16 L2068.2,898.15 L2069.2,898.13 L2070.2,898.12 L2071.2,898.1 L2072.2,898.08 L2073.2,898.05 L2074.2,898.03 L2075.2,897.99 L2076.2,897.96 L2077.2,897.92 L2078.2,897.88 L2079.2,897.83 L2080.2,897.77 L2081.2,897.71 L2082.2,897.64 L2083.2,897.56 L2084.2,897.47 L2085.2,897.38 L2086.2,897.27 L2087.2,897.16 L2088.2,897.03 L2089.2,896.89 L2090.2,896.73 L2091.2,896.56 L2092.2,896.38 L2093.2,896.18 L2094.2,895.95 L2095.2,895.72 L2096.2,895.46 L2097.2,895.18 L2098.2,894.87 L2099.2,894.55 L2100.2,894.19 L2101.2,893.82 L2102.2,893.41 L2103.2,892.98 L2104.2,892.52 L2105.2,892.03 L2106.2,891.51 L2107.2,890.96 L2108.2,890.38 L2109.2,889.76 L2110.2,889.12 L2111.2,888.44 L2112.2,887.73 L2113.2,886.99 L2114.2,886.21 L2115.2,885.41 L2116.2,884.57 L2117.2,883.71 L2118.2,882.82 L2119.2,881.9 L2120.2,880.96 L2121.2,879.99 L2122.2,879.01 L2123.2,878 L2124.2,876.98 L2125.2,875.95 L2126.2,874.91 L2127.2,873.86 L2128.2,872.81 L2129.2,871.76 L2130.2,870.71 L2131.2,869.68 L2132.2,868.65 L2133.2,867.64 L2134.2,866.66 L2135.2,865.69 L2136.2,864.76 L2137.2,863.86 L2138.2,862.99 L2139.2,862.17 L2140.2,861.39 L2141.2,860.66 L2142.2,859.98 L2143.2,859.36 L2144.2,858.8 L2145.2,858.29 L2146.2,857.85 L2147.2,857.48 L2148.2,857.18 L2149.2,856.94 L2150.2,856.77 L2151.2,856.68 L2152.2,856.66" fill="none" stroke="#1f77b4" stroke-width="3.0" stroke-linejoin="round"/>
<path d="M1744.2,898.24 L1745.2,898.24 L1746.2,898.24 L1747.2,898.24 L1748.2,898.24 L1749.2,898.24 L1750.2,898.24 L1751.2,898.24 L1752.2,898.24 L1753.2,898.24 L1754.2,898.24 L1755.2,898.24 L1756.2,898.24 L1757.2,898.24 L1758.2,898.24 L1759.2,898.24 L1760.2,898.24 L1761.2,898.24 L1762.2,898.24 L1763.2,898.24 L1764.2,898.24 L1765.2,898.24 L1766.2,898.24 L1767.2,898.24 L1768.2,898.24 L1769.2,898.24 L1770.2,898.24 L1771.2,898.24 L1772.2,898.24 L1773.2,898.24 L1774.2,898.24 L1775.2,898.24 L1776.2,898.24 L1777.2,898.24 L1778.2,898.24 L1779.2,898.24 L1780.2,898.24 L1781.2,898.24 L1782.2,898.24 L1783.2,898.24 L1784.2,898.24 L1785.2,898.24 L1786.2,898.24 L1787.2,898.24 L1788.2,898.24 L1789.2,898.24 L1790.2,898.24 L1791.2,898.24 L1792.2,898.24 L1793.2,898.24 L1794.2,898.24 L1795.2,898.24 L1796.2,898.24 L1797.2,898.24 L1798.2,898.24 L1799.2,898.24 L1800.2,898.24 L1801.2,898.24 L1802.2,898.24 L1803.2,898.24 L1804.2,898.24 L1805.2,898.24 L1806.2,898.24 L1807.2,898.24 L1808.2,898.24 L1809.2,898.24 L1810.2,898.24 L1811.2,898.24 L1812.2,898.24 L1813.2,898.24 L1814.2,898.24 L1815.2,898.24 L1816.2,898.24 L1817.2,898.24 L1818.2,898.24 L1819.2,898.24 L1820.2,898.24 L1821.2,898.24 L1822.2,898.24 L1823.2,898.24 L1824.2,898.24 L1825.2,898.24 L1826.2,898.24 L1827.2,898.24 L1828.2,898.24 L1829.2,898.24 L1830.2,898.24 L1831.2,898.24 L1832.2,898.24 L1833.2,898.24 L1834.2,898.24 L1835.2,898.24 L1836.2,898.24 L1837.2,898.24 L1838.2,898.24 L1839.2,898.24 L1840.2,898.24 L1841.2,898.24 L1842.2,898.24 L1843.2,898.24 L1844.2,898.24 L1845.2,898.24 L1846.2,898.24 L1847.2,898.24 L1848.2,898.24 L1849.2,898.24 L1850.2,898.24 L1851.2,898.24 L1852.2,898.24 L1853.2,898.24 L1854.2,898.24 L1855.2,898.24 L1856.2,898.24 L1857.2,898.24 L1858.2,898.24 L1859.2,898.24 L1860.2,898.24 L1861.2,898.24 L1862.2,898.24 L1863.2,898.23 L1864.2,898.23 L1865.2,898.23 L1866.2,898.23 L1867.2,898.22 L1868.2,898.22 L1869.2,898.21 L1870.2,898.21 L1871.2,898.2 L1872.2,898.19 L1873.2,898.18 L1874.2,898.16 L1875.2,898.15 L1876.2,898.13 L1877.2,898.11 L1878.2,898.08 L1879.2,898.05 L1880.2,898.01 L1881.2,897.97 L1882.2,897.92 L1883.2,897.86 L1884.2,897.79 L1885.2,897.72 L1886.2,897.63 L1887.2,897.52 L1888.2,897.4 L1889.2,897.26 L1890.2,897.11 L1891.2,896.93 L1892.2,896.73 L1893.2,896.49 L1894.2,896.23 L1895.2,895.94 L1896.2,895.6 L1897.2,895.23 L1898.2,894.81 L1899.2,894.35 L1900.2,893.82 L1901.2,893.24 L1902.2,892.6 L1903.2,891.89 L1904.2,891.11 L1905.2,890.25 L1906.2,889.3 L1907.2,888.27 L1908.2,887.15 L1909.2,885.92 L1910.2,884.59 L1911.2,883.15 L1912.2,881.6 L1913.2,879.94 L1914.2,878.15 L1915.2,876.24 L1916.2,874.2 L1917.2,872.04 L1918.2,869.75 L1919.2,867.32 L1920.2,864.77 L1921.2,862.09 L1922.2,859.29 L1923.2,856.37 L1924.2,853.33 L1925.2,850.19 L1926.2,846.94 L1927.2,843.6 L1928.2,840.17 L1929.2,836.67 L1930.2,833.12 L1931.2,829.51 L1932.2,825.88 L1933.2,822.22 L1934.2,818.57 L1935.2,814.94 L1936.2,811.34 L1937.2,807.79 L1938.2,804.32 L1939.2,800.94 L1940.2,797.67 L1941.2,794.53 L1942.2,791.54 L1943.2,788.72 L1944.2,786.08 L1945.2,783.64 L1946.2,781.42 L1947.2,779.43 L1948.2,777.69 L1949.2,776.2 L1950.2,774.98 L1951.2,774.04 L1952.2,773.38 L1953.2,773 L1954.2,772.92 L1955.2,773.12 L1956.2,773.61 L1957.2,774.38 L1958.2,775.44 L1959.2,776.77 L1960.2,778.36 L1961.2,780.2 L1962.2,782.28 L1963.2,784.59 L1964.2,787.11 L1965.2,789.82 L1966.2,792.72 L1967.2,795.77 L1968.2,798.96 L1969.2,802.28 L1970.2,805.7 L1971.2,809.2 L1972.2,812.77 L1973.2,816.39 L1974.2,820.03 L1975.2,823.69 L1976.2,827.33 L1977.2,830.96 L1978.2,834.54 L1979.2,838.08 L1980.2,841.55 L1981.2,844.94 L1982.2,848.25 L1983.2,851.46 L1984.2,854.56 L1985.2,857.55 L1986.2,860.43 L1987.2,863.18 L1988.2,865.81 L1989.2,868.31 L1990.2,870.68 L1991.2,872.92 L1992.2,875.03 L1993.2,877.02 L1994.2,878.88 L1995.2,880.62 L1996.2,882.24 L1997.2,883.74 L1998.2,885.14 L1999.2,886.42 L2000.2,887.61 L2001.2,888.7 L2002.2,889.69 L2003.2,890.6 L2004.2,891.43 L2005.2,892.18 L2006.2,892.87 L2007.2,893.48 L2008.2,894.04 L2009.2,894.54 L2010.2,894.99 L2011.2,895.39 L2012.2,895.74 L2013.2,896.06 L2014.2,896.34 L2015.2,896.59 L2016.2,896.81 L2017.2,897 L2018.2,897.17 L2019.2,897.32 L2020.2,897.45 L2021.2,897.56 L2022.2,897.66 L2023.2,897.75 L2024.2,897.82 L2025.2,897.89 L2026.2,897.94 L2027.2,897.99 L2028.2,898.03 L2029.2,898.06 L2030.2,898.09 L2031.2,898.11 L2032.2,898.14 L2033.2,898.15 L2034.2,898.17 L2035.2,898.18 L2036.2,898.19 L2037.2,898.2 L2038.2,898.21 L2039.2,898.21 L2040.2,898.22 L2041.2,898.22 L2042.2,898.23 L2043.2,898.23 L2044.2,898.23 L2045.2,898.23 L2046.2,898.24 L2047.2,898.24 L2048.2,898.24 L2049.2,898.24 L2050.2,898.24 L2051.2,898.24 L2052.2,898.24 L2053.2,898.24 L2054.2,898.24 L2055.2,898.24 L2056.2,898.24 L2057.2,898.24 L2058.2,898.24 L2059.2,898.24 L2060.2,898.24 L2061.2,898.24 L2062.2,898.24 L2063.2,898.24 L2064.2,898.24 L2065.2,898.24 L2066.2,898.24 L2067.2,898.24 L2068.2,898.24 L2069.2,898.24 L2070.2,898.24 L2071.2,898.24 L2072.2,898.24 L2073.2,898.24 L2074.2,898.24 L2075.2,898.24 L2076.2,898.24 L2077.2,898.24 L2078.2,898.24 L2079.2,898.24 L2080.2,898.24 L2081.2,898.24 L2082.2,898.24 L2083.2,898.24 L2084.2,898.24 L2085.2,898.24 L2086.2,898.24 L2087.2,898.24 L2088.2,898.24 L2089.2,898.24 L2090.2,898.24 L2091.2,898.24 L2092.2,898.24 L2093.2,898.24 L2094.2,898.24 L2095.2,898.24 L2096.2,898.24 L2097.2,898.24 L2098.2,898.24 L2099.2,898.24 L2100.2,898.24 L2101.2,898.24 L2102.2,898.24 L2103.2,898.24 L2104.2,898.24 L2105.2,898.24 L2106.2,898.24 L2107.2,898.24 L2108.2,898.24 L2109.2,898.24 L2110.2,898.24 L2111.2,898.24 L2112.2,898.24 L2113.2,898.24 L2114.2,898.24 L2115.2,898.24 L2116.2,898.24 L2117.2,898.24 L2118.2,898.24 L2119.2,898.24 L2120.2,898.24 L2121.2,898.24 L2122.2,898.24 L2123.2,898.24 L2124.2,898.24 L2125.2,898.24 L2126.2,898.24 L2127.2,898.24 L2128.2,898.24 L2129.2,898.24 L2130.2,898.24 L2131.2,898.24 L2132.2,898.24 L2133.2,898.24 L2134.2,898.24 L2135.2,898.24 L2136.2,898.24 L2137.2,898.24 L2138.2,898.24 L2139.2,898.24 L2140.2,898.24 L2141.2,898.24 L2142.2,898.24 L2143.2,898.24 L2144.2,898.24 L2145.2,898.24 L2146.2,898.24 L2147.2,898.24 L2148.2,898.24 L2149.2,898.24 L2150.2,898.24 L2151.2,898.24 L2152.2,898.24" fill="none" stroke="#d62728" stroke-width="3.0" stroke-linejoin="round"/>
</g>
<text transform="translate(1896,741.5) rotate(-90)" class="l"><tspan style="font-size:23px">t-HCOOH</tspan></text>
<rect x="1746.2" y="551.7" width="404.3" height="404.3" fill="none" stroke="#000" stroke-width="2.6"/>
<path d="M1740.7,956H1746.2M2150.5,956H2156" stroke="#000" stroke-width="2.0"/>
<path d="M1740.7,927.12H1746.2M2150.5,927.12H2156" stroke="#000" stroke-width="2.0"/>
<path d="M1731.4,898.24H1746.2M2150.5,898.24H2165.3" stroke="#000" stroke-width="2.6"/>
<text x="1721.4" y="912.84" text-anchor="end" class="t">0</text>
<path d="M1740.7,869.36H1746.2M2150.5,869.36H2156" stroke="#000" stroke-width="2.0"/>
<path d="M1740.7,840.49H1746.2M2150.5,840.49H2156" stroke="#000" stroke-width="2.0"/>
<path d="M1740.7,811.61H1746.2M2150.5,811.61H2156" stroke="#000" stroke-width="2.0"/>
<path d="M1731.4,782.73H1746.2M2150.5,782.73H2165.3" stroke="#000" stroke-width="2.6"/>
<text x="1721.4" y="797.33" text-anchor="end" class="t">20</text>
<path d="M1740.7,753.85H1746.2M2150.5,753.85H2156" stroke="#000" stroke-width="2.0"/>
<path d="M1740.7,724.97H1746.2M2150.5,724.97H2156" stroke="#000" stroke-width="2.0"/>
<path d="M1740.7,696.09H1746.2M2150.5,696.09H2156" stroke="#000" stroke-width="2.0"/>
<path d="M1731.4,667.21H1746.2M2150.5,667.21H2165.3" stroke="#000" stroke-width="2.6"/>
<text x="1721.4" y="681.81" text-anchor="end" class="t">40</text>
<path d="M1740.7,638.34H1746.2M2150.5,638.34H2156" stroke="#000" stroke-width="2.0"/>
<path d="M1740.7,609.46H1746.2M2150.5,609.46H2156" stroke="#000" stroke-width="2.0"/>
<path d="M1740.7,580.58H1746.2M2150.5,580.58H2156" stroke="#000" stroke-width="2.0"/>
<path d="M1731.4,551.7H1746.2M2150.5,551.7H2165.3" stroke="#000" stroke-width="2.6"/>
<text x="1721.4" y="566.3" text-anchor="end" class="t">60</text>
<path d="M1778.8,956V970.8M1778.8,536.9V551.7" stroke="#000" stroke-width="2.6"/>
<text x="1778.8" y="1011.3" text-anchor="middle" class="t">201.640</text>
<path d="M1975.2,956V970.8M1975.2,536.9V551.7" stroke="#000" stroke-width="2.6"/>
<text x="1975.2" y="1011.3" text-anchor="middle" class="t">201.700</text>
<path d="M1827.9,956V961.5M1827.9,546.2V551.7" stroke="#000" stroke-width="2.0"/>
<path d="M1877,956V961.5M1877,546.2V551.7" stroke="#000" stroke-width="2.0"/>
<path d="M1926.1,956V961.5M1926.1,546.2V551.7" stroke="#000" stroke-width="2.0"/>
<path d="M2024.3,956V961.5M2024.3,546.2V551.7" stroke="#000" stroke-width="2.0"/>
<path d="M2073.4,956V961.5M2073.4,546.2V551.7" stroke="#000" stroke-width="2.0"/>
<path d="M2122.5,956V961.5M2122.5,546.2V551.7" stroke="#000" stroke-width="2.0"/>
<clipPath id="c9"><rect x="169.5" y="1085.2" width="404.9" height="405.1"/></clipPath>
<g clip-path="url(#c9)">
<path d="M171.01,1432.43 L171.01,1472.32 L173.26,1472.32 L173.26,1371.68 L175.52,1371.68 L175.52,1275.54 L178.52,1275.54 L178.52,1265.02 L180.77,1265.02 L180.77,1419.75 L183.78,1419.75 L183.78,1401.72 L187.53,1401.72 L187.53,1420.5 L190.54,1420.5 L190.54,1384.44 L192.79,1384.44 L192.79,1416.74 L196.55,1416.74 L196.55,1407.73 L199.55,1407.73 L199.55,1379.19 L201.8,1379.19 L201.8,1466.31 L204.81,1466.31 L204.81,1457.3 L207.81,1457.3 L207.81,1406.98 L210.07,1406.98 L210.07,1436.27 L213.07,1436.27 L213.07,1343.89 L216.07,1343.89 L216.07,1406.23 L219.08,1406.23 L219.08,1355.15 L222.83,1355.15 L222.83,1463.31 L225.09,1463.31 L225.09,1401.72 L228.09,1401.72 L228.09,1406.23 L231.1,1406.23 L231.1,1398.72 L234.1,1398.72 L234.1,1433.27 L237.1,1433.27 L237.1,1350.65 L240.11,1350.65 L240.11,1338.63 L243.11,1338.63 L243.11,1419.75 L246.12,1419.75 L246.12,1403.22 L249.12,1403.22 L249.12,1421.25 L253.63,1421.25 L253.63,1393.46 L255.88,1393.46 L255.88,1532.41 L258.14,1532.41 L258.14,1449.79 L261.14,1449.79 L261.14,1398.72 L264.14,1398.72 L264.14,1353.65 L267.15,1353.65 L267.15,1440.78 L270.15,1440.78 L270.15,1377.69 L273.16,1377.69 L273.16,1442.28 L276.16,1442.28 L276.16,1385.2 L282.17,1385.2 L282.17,1442.28 L285.17,1442.28 L285.17,1407.73 L288.18,1407.73 L288.18,1440.78 L291.18,1440.78 L291.18,1409.23 L294.19,1409.23 L294.19,1443.78 L297.19,1443.78 L297.19,1401.72 L300.2,1401.72 L300.2,1407.73 L303.2,1407.73 L303.2,1390.45 L306.2,1390.45 L306.2,1410.73 L309.21,1410.73 L309.21,1436.27 L312.96,1436.27 L312.96,1440.78 L315.97,1440.78 L315.97,1454.3 L319.72,1454.3 L319.72,1439.27 L322.73,1439.27 L322.73,1391.96 L325.73,1391.96 L325.73,1412.24 L329.49,1412.24 L329.49,1369.42 L331.74,1369.42 L331.74,1346.89 L336.25,1346.89 L336.25,1401.72 L340,1401.72 L340,1352.15 L343.76,1352.15 L343.76,1347.64 L348.27,1347.64 L348.27,1302.58 L352.02,1302.58 L352.02,1355.15 L355.03,1355.15 L355.03,1401.72 L358.78,1401.72 L358.78,1318.35 L361.79,1318.35 L361.79,1331.12 L364.79,1331.12 L364.79,1261.27 L367.06,1261.27 L367.06,1294.69 L373.41,1294.69 L373.41,1276 L379.02,1276 L379.02,1311.52 L383.7,1311.52 L383.7,1337.69 L388.37,1337.69 L388.37,1304.04 L393.04,1304.04 L393.04,1398.45 L396.78,1398.45 L396.78,1333.95 L402.39,1333.95 L402.39,1403.12 L407.06,1403.12 L407.06,1390.04 L411.74,1390.04 L411.74,1439.58 L415.48,1439.58 L415.48,1401.25 L419.22,1401.25 L419.22,1477.9 L422.95,1477.9 L422.95,1429.3 L427.63,1429.3 L427.63,1392.84 L432.3,1392.84 L432.3,1395.65 L436.04,1395.65 L436.04,1354.52 L439.78,1354.52 L439.78,1326.47 L443.52,1326.47 L443.52,1320.87 L447.26,1320.87 L447.26,1378.82 L451,1378.82 L451,1423.69 L454.74,1423.69 L454.74,1453.6 L458.48,1453.6 L458.48,1442.38 L462.21,1442.38 L462.21,1374.15 L465.95,1374.15 L465.95,1395.65 L469.69,1395.65 L469.69,1444.25 L473.43,1444.25 L473.43,1325.54 L477.17,1325.54 L477.17,1414.34 L480.91,1414.34 L480.91,1402.19 L484.65,1402.19 L484.65,1447.06 L488.39,1447.06 L488.39,1349.84 L492.13,1349.84 L492.13,1414.34 L495.87,1414.34 L495.87,1361.99 L499.6,1361.99 L499.6,1344.23 L503.34,1344.23 L503.34,1414.34 L507.08,1414.34 L507.08,1339.56 L510.82,1339.56 L510.82,1322.74 L514.56,1322.74 L514.56,1395.65 L518.3,1395.65 L518.3,1296.56 L522.04,1296.56 L522.04,1429.3 L525.78,1429.3 L525.78,1393.78 L530.45,1393.78 L530.45,1303.11 L534.19,1303.11 L534.19,1420.88 L536.99,1420.88 L536.99,1333.95 L540.73,1333.95 L540.73,1324.6 L544.47,1324.6 L544.47,1347.97 L548.21,1347.97 L548.21,1379.76 L551.95,1379.76 L551.95,1392.84 L555.69,1392.84 L555.69,1317.13 L559.43,1317.13 L559.43,1377.89 L563.17,1377.89 L563.17,1365.73 L566.91,1365.73 L566.91,1390.04 L570.65,1390.04 L570.65,1442.38 L574.38,1442.38 L574.38,1432.43 Z" fill="#e9e9e9" stroke="none"/>
<line x1="169.5" y1="1432.43" x2="574.4" y2="1432.43" stroke="#e0e0e0" stroke-width="2.6"/>
<path d="M171.01,1472.32 L173.26,1472.32 L173.26,1371.68 L175.52,1371.68 L175.52,1275.54 L178.52,1275.54 L178.52,1265.02 L180.77,1265.02 L180.77,1419.75 L183.78,1419.75 L183.78,1401.72 L187.53,1401.72 L187.53,1420.5 L190.54,1420.5 L190.54,1384.44 L192.79,1384.44 L192.79,1416.74 L196.55,1416.74 L196.55,1407.73 L199.55,1407.73 L199.55,1379.19 L201.8,1379.19 L201.8,1466.31 L204.81,1466.31 L204.81,1457.3 L207.81,1457.3 L207.81,1406.98 L210.07,1406.98 L210.07,1436.27 L213.07,1436.27 L213.07,1343.89 L216.07,1343.89 L216.07,1406.23 L219.08,1406.23 L219.08,1355.15 L222.83,1355.15 L222.83,1463.31 L225.09,1463.31 L225.09,1401.72 L228.09,1401.72 L228.09,1406.23 L231.1,1406.23 L231.1,1398.72 L234.1,1398.72 L234.1,1433.27 L237.1,1433.27 L237.1,1350.65 L240.11,1350.65 L240.11,1338.63 L243.11,1338.63 L243.11,1419.75 L246.12,1419.75 L246.12,1403.22 L249.12,1403.22 L249.12,1421.25 L253.63,1421.25 L253.63,1393.46 L255.88,1393.46 L255.88,1532.41 L258.14,1532.41 L258.14,1449.79 L261.14,1449.79 L261.14,1398.72 L264.14,1398.72 L264.14,1353.65 L267.15,1353.65 L267.15,1440.78 L270.15,1440.78 L270.15,1377.69 L273.16,1377.69 L273.16,1442.28 L276.16,1442.28 L276.16,1385.2 L282.17,1385.2 L282.17,1442.28 L285.17,1442.28 L285.17,1407.73 L288.18,1407.73 L288.18,1440.78 L291.18,1440.78 L291.18,1409.23 L294.19,1409.23 L294.19,1443.78 L297.19,1443.78 L297.19,1401.72 L300.2,1401.72 L300.2,1407.73 L303.2,1407.73 L303.2,1390.45 L306.2,1390.45 L306.2,1410.73 L309.21,1410.73 L309.21,1436.27 L312.96,1436.27 L312.96,1440.78 L315.97,1440.78 L315.97,1454.3 L319.72,1454.3 L319.72,1439.27 L322.73,1439.27 L322.73,1391.96 L325.73,1391.96 L325.73,1412.24 L329.49,1412.24 L329.49,1369.42 L331.74,1369.42 L331.74,1346.89 L336.25,1346.89 L336.25,1401.72 L340,1401.72 L340,1352.15 L343.76,1352.15 L343.76,1347.64 L348.27,1347.64 L348.27,1302.58 L352.02,1302.58 L352.02,1355.15 L355.03,1355.15 L355.03,1401.72 L358.78,1401.72 L358.78,1318.35 L361.79,1318.35 L361.79,1331.12 L364.79,1331.12 L364.79,1261.27 L367.06,1261.27 L367.06,1294.69 L373.41,1294.69 L373.41,1276 L379.02,1276 L379.02,1311.52 L383.7,1311.52 L383.7,1337.69 L388.37,1337.69 L388.37,1304.04 L393.04,1304.04 L393.04,1398.45 L396.78,1398.45 L396.78,1333.95 L402.39,1333.95 L402.39,1403.12 L407.06,1403.12 L407.06,1390.04 L411.74,1390.04 L411.74,1439.58 L415.48,1439.58 L415.48,1401.25 L419.22,1401.25 L419.22,1477.9 L422.95,1477.9 L422.95,1429.3 L427.63,1429.3 L427.63,1392.84 L432.3,1392.84 L432.3,1395.65 L436.04,1395.65 L436.04,1354.52 L439.78,1354.52 L439.78,1326.47 L443.52,1326.47 L443.52,1320.87 L447.26,1320.87 L447.26,1378.82 L451,1378.82 L451,1423.69 L454.74,1423.69 L454.74,1453.6 L458.48,1453.6 L458.48,1442.38 L462.21,1442.38 L462.21,1374.15 L465.95,1374.15 L465.95,1395.65 L469.69,1395.65 L469.69,1444.25 L473.43,1444.25 L473.43,1325.54 L477.17,1325.54 L477.17,1414.34 L480.91,1414.34 L480.91,1402.19 L484.65,1402.19 L484.65,1447.06 L488.39,1447.06 L488.39,1349.84 L492.13,1349.84 L492.13,1414.34 L495.87,1414.34 L495.87,1361.99 L499.6,1361.99 L499.6,1344.23 L503.34,1344.23 L503.34,1414.34 L507.08,1414.34 L507.08,1339.56 L510.82,1339.56 L510.82,1322.74 L514.56,1322.74 L514.56,1395.65 L518.3,1395.65 L518.3,1296.56 L522.04,1296.56 L522.04,1429.3 L525.78,1429.3 L525.78,1393.78 L530.45,1393.78 L530.45,1303.11 L534.19,1303.11 L534.19,1420.88 L536.99,1420.88 L536.99,1333.95 L540.73,1333.95 L540.73,1324.6 L544.47,1324.6 L544.47,1347.97 L548.21,1347.97 L548.21,1379.76 L551.95,1379.76 L551.95,1392.84 L555.69,1392.84 L555.69,1317.13 L559.43,1317.13 L559.43,1377.89 L563.17,1377.89 L563.17,1365.73 L566.91,1365.73 L566.91,1390.04 L570.65,1390.04 L570.65,1442.38 L574.38,1442.38" fill="none" stroke="#000" stroke-width="3.6" stroke-linejoin="miter" stroke-linecap="square"/>
<path d="M167.5,1432.43 L168.5,1432.42 L169.5,1432.42 L170.5,1432.42 L171.5,1432.42 L172.5,1432.42 L173.5,1432.41 L174.5,1432.41 L175.5,1432.4 L176.5,1432.4 L177.5,1432.39 L178.5,1432.38 L179.5,1432.37 L180.5,1432.36 L181.5,1432.34 L182.5,1432.32 L183.5,1432.29 L184.5,1432.26 L185.5,1432.23 L186.5,1432.19 L187.5,1432.14 L188.5,1432.09 L189.5,1432.02 L190.5,1431.95 L191.5,1431.86 L192.5,1431.76 L193.5,1431.65 L194.5,1431.52 L195.5,1431.38 L196.5,1431.22 L197.5,1431.04 L198.5,1430.84 L199.5,1430.62 L200.5,1430.38 L201.5,1430.12 L202.5,1429.84 L203.5,1429.53 L204.5,1429.21 L205.5,1428.86 L206.5,1428.49 L207.5,1428.11 L208.5,1427.71 L209.5,1427.29 L210.5,1426.86 L211.5,1426.42 L212.5,1425.98 L213.5,1425.54 L214.5,1425.09 L215.5,1424.66 L216.5,1424.23 L217.5,1423.82 L218.5,1423.43 L219.5,1423.06 L220.5,1422.73 L221.5,1422.42 L222.5,1422.15 L223.5,1421.92 L224.5,1421.73 L225.5,1421.58 L226.5,1421.49 L227.5,1421.44 L228.5,1421.44 L229.5,1421.49 L230.5,1421.58 L231.5,1421.73 L232.5,1421.92 L233.5,1422.15 L234.5,1422.42 L235.5,1422.73 L236.5,1423.06 L237.5,1423.43 L238.5,1423.82 L239.5,1424.23 L240.5,1424.66 L241.5,1425.09 L242.5,1425.54 L243.5,1425.98 L244.5,1426.42 L245.5,1426.86 L246.5,1427.29 L247.5,1427.71 L248.5,1428.11 L249.5,1428.49 L250.5,1428.86 L251.5,1429.21 L252.5,1429.53 L253.5,1429.84 L254.5,1430.12 L255.5,1430.38 L256.5,1430.62 L257.5,1430.84 L258.5,1431.04 L259.5,1431.22 L260.5,1431.38 L261.5,1431.52 L262.5,1431.65 L263.5,1431.76 L264.5,1431.86 L265.5,1431.95 L266.5,1432.02 L267.5,1432.09 L268.5,1432.14 L269.5,1432.19 L270.5,1432.23 L271.5,1432.26 L272.5,1432.29 L273.5,1432.32 L274.5,1432.34 L275.5,1432.35 L276.5,1432.37 L277.5,1432.38 L278.5,1432.39 L279.5,1432.4 L280.5,1432.4 L281.5,1432.41 L282.5,1432.41 L283.5,1432.41 L284.5,1432.41 L285.5,1432.41 L286.5,1432.41 L287.5,1432.41 L288.5,1432.41 L289.5,1432.41 L290.5,1432.4 L291.5,1432.4 L292.5,1432.39 L293.5,1432.38 L294.5,1432.38 L295.5,1432.37 L296.5,1432.35 L297.5,1432.34 L298.5,1432.32 L299.5,1432.3 L300.5,1432.28 L301.5,1432.25 L302.5,1432.22 L303.5,1432.19 L304.5,1432.15 L305.5,1432.1 L306.5,1432.04 L307.5,1431.98 L308.5,1431.9 L309.5,1431.82 L310.5,1431.72 L311.5,1431.61 L312.5,1431.49 L313.5,1431.35 L314.5,1431.19 L315.5,1431.01 L316.5,1430.8 L317.5,1430.57 L318.5,1430.32 L319.5,1430.03 L320.5,1429.71 L321.5,1429.36 L322.5,1428.96 L323.5,1428.53 L324.5,1428.05 L325.5,1427.52 L326.5,1426.94 L327.5,1426.3 L328.5,1425.61 L329.5,1424.85 L330.5,1424.03 L331.5,1423.14 L332.5,1422.17 L333.5,1421.13 L334.5,1420.02 L335.5,1418.82 L336.5,1417.54 L337.5,1416.17 L338.5,1414.72 L339.5,1413.18 L340.5,1411.55 L341.5,1409.83 L342.5,1408.03 L343.5,1406.13 L344.5,1404.16 L345.5,1402.1 L346.5,1399.96 L347.5,1397.75 L348.5,1395.46 L349.5,1393.11 L350.5,1390.71 L351.5,1388.25 L352.5,1385.75 L353.5,1383.22 L354.5,1380.66 L355.5,1378.09 L356.5,1375.52 L357.5,1372.95 L358.5,1370.41 L359.5,1367.89 L360.5,1365.42 L361.5,1363.01 L362.5,1360.67 L363.5,1358.41 L364.5,1356.24 L365.5,1354.18 L366.5,1352.25 L367.5,1350.44 L368.5,1348.78 L369.5,1347.27 L370.5,1345.92 L371.5,1344.74 L372.5,1343.74 L373.5,1342.92 L374.5,1342.29 L375.5,1341.86 L376.5,1341.62 L377.5,1341.58 L378.5,1341.74 L379.5,1342.09 L380.5,1342.64 L381.5,1343.39 L382.5,1344.31 L383.5,1345.42 L384.5,1346.71 L385.5,1348.15 L386.5,1349.76 L387.5,1351.51 L388.5,1353.39 L389.5,1355.4 L390.5,1357.53 L391.5,1359.75 L392.5,1362.06 L393.5,1364.45 L394.5,1366.9 L395.5,1369.4 L396.5,1371.93 L397.5,1374.49 L398.5,1377.06 L399.5,1379.64 L400.5,1382.2 L401.5,1384.74 L402.5,1387.26 L403.5,1389.73 L404.5,1392.16 L405.5,1394.53 L406.5,1396.84 L407.5,1399.08 L408.5,1401.25 L409.5,1403.34 L410.5,1405.35 L411.5,1407.28 L412.5,1409.12 L413.5,1410.87 L414.5,1412.54 L415.5,1414.11 L416.5,1415.6 L417.5,1417 L418.5,1418.32 L419.5,1419.55 L420.5,1420.7 L421.5,1421.77 L422.5,1422.76 L423.5,1423.68 L424.5,1424.53 L425.5,1425.31 L426.5,1426.03 L427.5,1426.69 L428.5,1427.29 L429.5,1427.84 L430.5,1428.34 L431.5,1428.8 L432.5,1429.21 L433.5,1429.57 L434.5,1429.91 L435.5,1430.21 L436.5,1430.47 L437.5,1430.71 L438.5,1430.93 L439.5,1431.12 L440.5,1431.28 L441.5,1431.43 L442.5,1431.56 L443.5,1431.68 L444.5,1431.78 L445.5,1431.87 L446.5,1431.95 L447.5,1432.01 L448.5,1432.07 L449.5,1432.12 L450.5,1432.17 L451.5,1432.2 L452.5,1432.23 L453.5,1432.26 L454.5,1432.28 L455.5,1432.3 L456.5,1432.31 L457.5,1432.32 L458.5,1432.32 L459.5,1432.32 L460.5,1432.31 L461.5,1432.3 L462.5,1432.29 L463.5,1432.26 L464.5,1432.23 L465.5,1432.19 L466.5,1432.13 L467.5,1432.07 L468.5,1431.98 L469.5,1431.88 L470.5,1431.76 L471.5,1431.61 L472.5,1431.43 L473.5,1431.22 L474.5,1430.96 L475.5,1430.66 L476.5,1430.31 L477.5,1429.9 L478.5,1429.42 L479.5,1428.87 L480.5,1428.23 L481.5,1427.5 L482.5,1426.68 L483.5,1425.74 L484.5,1424.68 L485.5,1423.5 L486.5,1422.18 L487.5,1420.71 L488.5,1419.1 L489.5,1417.34 L490.5,1415.41 L491.5,1413.33 L492.5,1411.08 L493.5,1408.68 L494.5,1406.12 L495.5,1403.42 L496.5,1400.58 L497.5,1397.62 L498.5,1394.56 L499.5,1391.4 L500.5,1388.18 L501.5,1384.91 L502.5,1381.64 L503.5,1378.37 L504.5,1375.15 L505.5,1372.01 L506.5,1368.97 L507.5,1366.07 L508.5,1363.35 L509.5,1360.83 L510.5,1358.54 L511.5,1356.51 L512.5,1354.76 L513.5,1353.31 L514.5,1352.18 L515.5,1351.37 L516.5,1350.9 L517.5,1350.76 L518.5,1350.95 L519.5,1351.45 L520.5,1352.26 L521.5,1353.35 L522.5,1354.7 L523.5,1356.27 L524.5,1358.03 L525.5,1359.94 L526.5,1361.96 L527.5,1364.06 L528.5,1366.17 L529.5,1368.27 L530.5,1370.3 L531.5,1372.22 L532.5,1373.99 L533.5,1375.58 L534.5,1376.93 L535.5,1378.03 L536.5,1378.85 L537.5,1379.37 L538.5,1379.56 L539.5,1379.43 L540.5,1378.97 L541.5,1378.18 L542.5,1377.07 L543.5,1375.67 L544.5,1373.99 L545.5,1372.07 L546.5,1369.94 L547.5,1367.65 L548.5,1365.23 L549.5,1362.73 L550.5,1360.21 L551.5,1357.72 L552.5,1355.31 L553.5,1353.03 L554.5,1350.93 L555.5,1349.06 L556.5,1347.46 L557.5,1346.18 L558.5,1345.23 L559.5,1344.65 L560.5,1344.47 L561.5,1344.68 L562.5,1345.3 L563.5,1346.33 L564.5,1347.75 L565.5,1349.56 L566.5,1351.72 L567.5,1354.21 L568.5,1357 L569.5,1360.06 L570.5,1363.33 L571.5,1366.79 L572.5,1370.39 L573.5,1374.09 L574.5,1377.85 L575.5,1381.62" fill="none" stroke="#1f77b4" stroke-width="3.0" stroke-linejoin="round"/>
<path d="M167.5,1432.43 L168.5,1432.43 L169.5,1432.43 L170.5,1432.43 L171.5,1432.43 L172.5,1432.43 L173.5,1432.43 L174.5,1432.43 L175.5,1432.43 L176.5,1432.43 L177.5,1432.43 L178.5,1432.43 L179.5,1432.43 L180.5,1432.43 L181.5,1432.43 L182.5,1432.43 L183.5,1432.43 L184.5,1432.43 L185.5,1432.43 L186.5,1432.43 L187.5,1432.43 L188.5,1432.43 L189.5,1432.43 L190.5,1432.43 L191.5,1432.43 L192.5,1432.43 L193.5,1432.43 L194.5,1432.43 L195.5,1432.43 L196.5,1432.43 L197.5,1432.43 L198.5,1432.43 L199.5,1432.43 L200.5,1432.43 L201.5,1432.43 L202.5,1432.43 L203.5,1432.43 L204.5,1432.43 L205.5,1432.43 L206.5,1432.43 L207.5,1432.43 L208.5,1432.43 L209.5,1432.43 L210.5,1432.43 L211.5,1432.43 L212.5,1432.43 L213.5,1432.43 L214.5,1432.43 L215.5,1432.43 L216.5,1432.43 L217.5,1432.43 L218.5,1432.43 L219.5,1432.43 L220.5,1432.43 L221.5,1432.43 L222.5,1432.43 L223.5,1432.43 L224.5,1432.43 L225.5,1432.43 L226.5,1432.43 L227.5,1432.43 L228.5,1432.43 L229.5,1432.43 L230.5,1432.43 L231.5,1432.43 L232.5,1432.43 L233.5,1432.43 L234.5,1432.43 L235.5,1432.43 L236.5,1432.43 L237.5,1432.43 L238.5,1432.43 L239.5,1432.43 L240.5,1432.43 L241.5,1432.43 L242.5,1432.43 L243.5,1432.43 L244.5,1432.43 L245.5,1432.43 L246.5,1432.43 L247.5,1432.43 L248.5,1432.43 L249.5,1432.43 L250.5,1432.43 L251.5,1432.43 L252.5,1432.43 L253.5,1432.43 L254.5,1432.43 L255.5,1432.43 L256.5,1432.43 L257.5,1432.43 L258.5,1432.43 L259.5,1432.43 L260.5,1432.43 L261.5,1432.43 L262.5,1432.43 L263.5,1432.43 L264.5,1432.43 L265.5,1432.43 L266.5,1432.43 L267.5,1432.43 L268.5,1432.43 L269.5,1432.43 L270.5,1432.43 L271.5,1432.43 L272.5,1432.43 L273.5,1432.43 L274.5,1432.43 L275.5,1432.43 L276.5,1432.43 L277.5,1432.43 L278.5,1432.43 L279.5,1432.43 L280.5,1432.43 L281.5,1432.42 L282.5,1432.42 L283.5,1432.42 L284.5,1432.42 L285.5,1432.42 L286.5,1432.42 L287.5,1432.41 L288.5,1432.41 L289.5,1432.41 L290.5,1432.4 L291.5,1432.4 L292.5,1432.39 L293.5,1432.39 L294.5,1432.38 L295.5,1432.37 L296.5,1432.35 L297.5,1432.34 L298.5,1432.32 L299.5,1432.3 L300.5,1432.28 L301.5,1432.25 L302.5,1432.22 L303.5,1432.19 L304.5,1432.15 L305.5,1432.1 L306.5,1432.04 L307.5,1431.98 L308.5,1431.9 L309.5,1431.82 L310.5,1431.72 L311.5,1431.61 L312.5,1431.49 L313.5,1431.35 L314.5,1431.19 L315.5,1431.01 L316.5,1430.8 L317.5,1430.57 L318.5,1430.32 L319.5,1430.03 L320.5,1429.71 L321.5,1429.36 L322.5,1428.96 L323.5,1428.53 L324.5,1428.05 L325.5,1427.52 L326.5,1426.94 L327.5,1426.3 L328.5,1425.61 L329.5,1424.85 L330.5,1424.03 L331.5,1423.14 L332.5,1422.17 L333.5,1421.13 L334.5,1420.02 L335.5,1418.82 L336.5,1417.54 L337.5,1416.17 L338.5,1414.72 L339.5,1413.18 L340.5,1411.55 L341.5,1409.83 L342.5,1408.03 L343.5,1406.13 L344.5,1404.16 L345.5,1402.1 L346.5,1399.96 L347.5,1397.75 L348.5,1395.46 L349.5,1393.11 L350.5,1390.71 L351.5,1388.25 L352.5,1385.75 L353.5,1383.22 L354.5,1380.66 L355.5,1378.09 L356.5,1375.52 L357.5,1372.95 L358.5,1370.41 L359.5,1367.89 L360.5,1365.42 L361.5,1363.01 L362.5,1360.67 L363.5,1358.41 L364.5,1356.24 L365.5,1354.18 L366.5,1352.25 L367.5,1350.44 L368.5,1348.78 L369.5,1347.27 L370.5,1345.92 L371.5,1344.74 L372.5,1343.74 L373.5,1342.92 L374.5,1342.29 L375.5,1341.86 L376.5,1341.62 L377.5,1341.58 L378.5,1341.74 L379.5,1342.09 L380.5,1342.64 L381.5,1343.39 L382.5,1344.31 L383.5,1345.42 L384.5,1346.71 L385.5,1348.15 L386.5,1349.76 L387.5,1351.51 L388.5,1353.39 L389.5,1355.4 L390.5,1357.53 L391.5,1359.75 L392.5,1362.06 L393.5,1364.45 L394.5,1366.9 L395.5,1369.4 L396.5,1371.93 L397.5,1374.49 L398.5,1377.06 L399.5,1379.64 L400.5,1382.2 L401.5,1384.74 L402.5,1387.26 L403.5,1389.73 L404.5,1392.16 L405.5,1394.53 L406.5,1396.84 L407.5,1399.08 L408.5,1401.25 L409.5,1403.34 L410.5,1405.35 L411.5,1407.28 L412.5,1409.12 L413.5,1410.87 L414.5,1412.54 L415.5,1414.11 L416.5,1415.6 L417.5,1417 L418.5,1418.32 L419.5,1419.55 L420.5,1420.7 L421.5,1421.77 L422.5,1422.76 L423.5,1423.68 L424.5,1424.53 L425.5,1425.31 L426.5,1426.03 L427.5,1426.69 L428.5,1427.29 L429.5,1427.84 L430.5,1428.34 L431.5,1428.8 L432.5,1429.21 L433.5,1429.57 L434.5,1429.91 L435.5,1430.21 L436.5,1430.47 L437.5,1430.71 L438.5,1430.93 L439.5,1431.12 L440.5,1431.28 L441.5,1431.43 L442.5,1431.56 L443.5,1431.68 L444.5,1431.78 L445.5,1431.87 L446.5,1431.95 L447.5,1432.02 L448.5,1432.08 L449.5,1432.13 L450.5,1432.17 L451.5,1432.21 L452.5,1432.24 L453.5,1432.27 L454.5,1432.3 L455.5,1432.32 L456.5,1432.33 L457.5,1432.35 L458.5,1432.36 L459.5,1432.37 L460.5,1432.38 L461.5,1432.39 L462.5,1432.4 L463.5,1432.4 L464.5,1432.41 L465.5,1432.41 L466.5,1432.41 L467.5,1432.42 L468.5,1432.42 L469.5,1432.42 L470.5,1432.42 L471.5,1432.42 L472.5,1432.42 L473.5,1432.42 L474.5,1432.43 L475.5,1432.43 L476.5,1432.43 L477.5,1432.43 L478.5,1432.43 L479.5,1432.43 L480.5,1432.43 L481.5,1432.43 L482.5,1432.43 L483.5,1432.43 L484.5,1432.43 L485.5,1432.43 L486.5,1432.43 L487.5,1432.43 L488.5,1432.43 L489.5,1432.43 L490.5,1432.43 L491.5,1432.43 L492.5,1432.43 L493.5,1432.43 L494.5,1432.43 L495.5,1432.43 L496.5,1432.43 L497.5,1432.43 L498.5,1432.43 L499.5,1432.43 L500.5,1432.43 L501.5,1432.43 L502.5,1432.43 L503.5,1432.43 L504.5,1432.43 L505.5,1432.43 L506.5,1432.43 L507.5,1432.43 L508.5,1432.43 L509.5,1432.43 L510.5,1432.43 L511.5,1432.43 L512.5,1432.43 L513.5,1432.43 L514.5,1432.43 L515.5,1432.43 L516.5,1432.43 L517.5,1432.43 L518.5,1432.43 L519.5,1432.43 L520.5,1432.43 L521.5,1432.43 L522.5,1432.43 L523.5,1432.43 L524.5,1432.43 L525.5,1432.43 L526.5,1432.43 L527.5,1432.43 L528.5,1432.43 L529.5,1432.43 L530.5,1432.43 L531.5,1432.43 L532.5,1432.43 L533.5,1432.43 L534.5,1432.43 L535.5,1432.43 L536.5,1432.43 L537.5,1432.43 L538.5,1432.43 L539.5,1432.43 L540.5,1432.43 L541.5,1432.43 L542.5,1432.43 L543.5,1432.43 L544.5,1432.43 L545.5,1432.43 L546.5,1432.43 L547.5,1432.43 L548.5,1432.43 L549.5,1432.43 L550.5,1432.43 L551.5,1432.43 L552.5,1432.43 L553.5,1432.43 L554.5,1432.43 L555.5,1432.43 L556.5,1432.43 L557.5,1432.43 L558.5,1432.43 L559.5,1432.43 L560.5,1432.43 L561.5,1432.43 L562.5,1432.43 L563.5,1432.43 L564.5,1432.43 L565.5,1432.43 L566.5,1432.43 L567.5,1432.43 L568.5,1432.43 L569.5,1432.43 L570.5,1432.43 L571.5,1432.43 L572.5,1432.43 L573.5,1432.43 L574.5,1432.43 L575.5,1432.43" fill="none" stroke="#d62728" stroke-width="3.0" stroke-linejoin="round"/>
</g>
<text transform="translate(519,1303.7) rotate(-90)" class="l"><tspan x="0" y="-0" style="font-size:23px">C</tspan><tspan x="16.06" y="-0" style="font-size:23px">H</tspan><tspan x="33.57" y="3.77" style="font-size:16.1px">3</tspan><tspan x="44.45" y="-0" style="font-size:23px">N</tspan><tspan x="61.65" y="-0" style="font-size:23px">C</tspan><tspan x="77.71" y="-0" style="font-size:23px">H</tspan><tspan x="95.23" y="3.77" style="font-size:16.1px">2</tspan></text>
<text transform="translate(560,1317.7) rotate(-90)" class="l"><tspan x="0" y="-0" style="font-size:23px">C</tspan><tspan x="16.06" y="-0" style="font-size:23px">H</tspan><tspan x="33.57" y="3.77" style="font-size:16.1px">3</tspan><tspan x="44.45" y="-0" style="font-size:23px">N</tspan><tspan x="61.65" y="-0" style="font-size:23px">C</tspan><tspan x="77.71" y="-0" style="font-size:23px">H</tspan><tspan x="95.23" y="3.77" style="font-size:16.1px">2</tspan></text>
<rect x="169.5" y="1085.2" width="404.9" height="405.1" fill="none" stroke="#000" stroke-width="2.6"/>
<path d="M164,1490.3H169.5M574.4,1490.3H579.9" stroke="#000" stroke-width="2.0"/>
<path d="M164,1461.36H169.5M574.4,1461.36H579.9" stroke="#000" stroke-width="2.0"/>
<path d="M154.7,1432.43H169.5M574.4,1432.43H589.2" stroke="#000" stroke-width="2.6"/>
<text x="144.7" y="1447.03" text-anchor="end" class="t">0</text>
<path d="M164,1403.49H169.5M574.4,1403.49H579.9" stroke="#000" stroke-width="2.0"/>
<path d="M164,1374.56H169.5M574.4,1374.56H579.9" stroke="#000" stroke-width="2.0"/>
<path d="M164,1345.62H169.5M574.4,1345.62H579.9" stroke="#000" stroke-width="2.0"/>
<path d="M154.7,1316.69H169.5M574.4,1316.69H589.2" stroke="#000" stroke-width="2.6"/>
<text x="144.7" y="1331.29" text-anchor="end" class="t">20</text>
<path d="M164,1287.75H169.5M574.4,1287.75H579.9" stroke="#000" stroke-width="2.0"/>
<path d="M164,1258.81H169.5M574.4,1258.81H579.9" stroke="#000" stroke-width="2.0"/>
<path d="M164,1229.88H169.5M574.4,1229.88H579.9" stroke="#000" stroke-width="2.0"/>
<path d="M154.7,1200.94H169.5M574.4,1200.94H589.2" stroke="#000" stroke-width="2.6"/>
<text x="144.7" y="1215.54" text-anchor="end" class="t">40</text>
<path d="M164,1172.01H169.5M574.4,1172.01H579.9" stroke="#000" stroke-width="2.0"/>
<path d="M164,1143.07H169.5M574.4,1143.07H579.9" stroke="#000" stroke-width="2.0"/>
<path d="M164,1114.14H169.5M574.4,1114.14H579.9" stroke="#000" stroke-width="2.0"/>
<path d="M154.7,1085.2H169.5M574.4,1085.2H589.2" stroke="#000" stroke-width="2.6"/>
<text x="144.7" y="1099.8" text-anchor="end" class="t">60</text>
<path d="M269.4,1490.3V1505.1M269.4,1070.4V1085.2" stroke="#000" stroke-width="2.6"/>
<text x="269.4" y="1545.6" text-anchor="middle" class="t">213.520</text>
<path d="M515.8,1490.3V1505.1M515.8,1070.4V1085.2" stroke="#000" stroke-width="2.6"/>
<text x="515.8" y="1545.6" text-anchor="middle" class="t">213.600</text>
<path d="M207.8,1490.3V1495.8M207.8,1079.7V1085.2" stroke="#000" stroke-width="2.0"/>
<path d="M331,1490.3V1495.8M331,1079.7V1085.2" stroke="#000" stroke-width="2.0"/>
<path d="M392.6,1490.3V1495.8M392.6,1079.7V1085.2" stroke="#000" stroke-width="2.0"/>
<path d="M454.2,1490.3V1495.8M454.2,1079.7V1085.2" stroke="#000" stroke-width="2.0"/>
<clipPath id="c10"><rect x="695.4" y="1085.2" width="404" height="405.1"/></clipPath>
<g clip-path="url(#c10)">
<path d="M696.07,1432.43 L696.07,1416.77 L699.93,1416.77 L699.93,1421.18 L704.35,1421.18 L704.35,1436.63 L709.31,1436.63 L709.31,1425.59 L713.17,1425.59 L713.17,1422.28 L716.48,1422.28 L716.48,1418.97 L720.9,1418.97 L720.9,1423.94 L724.21,1423.94 L724.21,1423.39 L729.73,1423.39 L729.73,1421.73 L734.14,1421.73 L734.14,1423.94 L738.55,1423.94 L738.55,1422.28 L742.97,1422.28 L742.97,1422.84 L747.38,1422.84 L747.38,1426.7 L751.8,1426.7 L751.8,1424.49 L756.21,1424.49 L756.21,1422.28 L760.62,1422.28 L760.62,1424.49 L767.25,1424.49 L767.25,1426.7 L771.66,1426.7 L771.66,1418.97 L773.87,1418.97 L773.87,1412.35 L777.18,1412.35 L777.18,1409.04 L780.49,1409.04 L780.49,1415.66 L783.8,1415.66 L783.8,1423.39 L788.21,1423.39 L788.21,1422.28 L791.52,1422.28 L791.52,1412.35 L794.83,1412.35 L794.83,1409.04 L798.14,1409.04 L798.14,1405.73 L801.45,1405.73 L801.45,1405.18 L804.76,1405.18 L804.76,1410.7 L808.08,1410.7 L808.08,1410.15 L811.39,1410.15 L811.39,1412.35 L814.7,1412.35 L814.7,1417.87 L818.01,1417.87 L818.01,1412.35 L821.32,1412.35 L821.32,1405.18 L824.63,1405.18 L824.63,1404.08 L827.94,1404.08 L827.94,1415.66 L833.46,1415.66 L833.46,1411.25 L836.77,1411.25 L836.77,1409.04 L842.28,1409.04 L842.28,1406.84 L846.7,1406.84 L846.7,1405.18 L852.22,1405.18 L852.22,1404.63 L856.63,1404.63 L856.63,1396.9 L859.94,1396.9 L859.94,1389.18 L864.35,1389.18 L864.35,1379.25 L867.66,1379.25 L867.66,1369.32 L870.98,1369.32 L870.98,1359.38 L873.18,1359.38 L873.18,1353.87 L877.6,1353.87 L877.6,1351.66 L882.01,1351.66 L882.01,1349.45 L886.42,1349.45 L886.42,1338.42 L888.63,1338.42 L888.63,1329.59 L890.77,1329.59 L890.77,1321.07 L892.91,1321.07 L892.91,1324.14 L895.98,1324.14 L895.98,1331.8 L899.04,1331.8 L899.04,1325.67 L902.11,1325.67 L902.11,1321.07 L905.17,1321.07 L905.17,1328.74 L908.24,1328.74 L908.24,1337.93 L912.84,1337.93 L912.84,1341.76 L917.43,1341.76 L917.43,1344.06 L920.5,1344.06 L920.5,1353.26 L923.56,1353.26 L923.56,1367.05 L926.63,1367.05 L926.63,1376.25 L932.76,1376.25 L932.76,1375.48 L941.95,1375.48 L941.95,1380.84 L946.55,1380.84 L946.55,1385.44 L951.15,1385.44 L951.15,1380.08 L957.28,1380.08 L957.28,1376.25 L960.34,1376.25 L960.34,1368.58 L963.41,1368.58 L963.41,1365.52 L966.48,1365.52 L966.48,1370.11 L971.07,1370.11 L971.07,1373.18 L977.2,1373.18 L977.2,1377.78 L983.33,1377.78 L983.33,1383.91 L987.93,1383.91 L987.93,1390.04 L992.53,1390.04 L992.53,1403.83 L997.13,1403.83 L997.13,1414.56 L1001.72,1414.56 L1001.72,1417.62 L1009.39,1417.62 L1009.39,1414.56 L1013.98,1414.56 L1013.98,1419.16 L1018.58,1419.16 L1018.58,1420.69 L1023.18,1420.69 L1023.18,1409.96 L1027.78,1409.96 L1027.78,1397.7 L1030.84,1397.7 L1030.84,1390.04 L1035.44,1390.04 L1035.44,1383.91 L1040.04,1383.91 L1040.04,1377.78 L1044.64,1377.78 L1044.64,1368.58 L1047.7,1368.58 L1047.7,1362.45 L1050.77,1362.45 L1050.77,1368.58 L1053.83,1368.58 L1053.83,1374.71 L1056.9,1374.71 L1056.9,1375.48 L1063.03,1375.48 L1063.03,1374.71 L1070.69,1374.71 L1070.69,1376.25 L1075.29,1376.25 L1075.29,1373.18 L1081.42,1373.18 L1081.42,1379.31 L1086.02,1379.31 L1086.02,1388.51 L1090.61,1388.51 L1090.61,1390.04 L1096.74,1390.04 L1096.74,1400.77 L1101.34,1400.77 L1101.34,1432.43 Z" fill="#e9e9e9" stroke="none"/>
<line x1="695.4" y1="1432.43" x2="1099.4" y2="1432.43" stroke="#e0e0e0" stroke-width="2.6"/>
<path d="M696.07,1416.77 L699.93,1416.77 L699.93,1421.18 L704.35,1421.18 L704.35,1436.63 L709.31,1436.63 L709.31,1425.59 L713.17,1425.59 L713.17,1422.28 L716.48,1422.28 L716.48,1418.97 L720.9,1418.97 L720.9,1423.94 L724.21,1423.94 L724.21,1423.39 L729.73,1423.39 L729.73,1421.73 L734.14,1421.73 L734.14,1423.94 L738.55,1423.94 L738.55,1422.28 L742.97,1422.28 L742.97,1422.84 L747.38,1422.84 L747.38,1426.7 L751.8,1426.7 L751.8,1424.49 L756.21,1424.49 L756.21,1422.28 L760.62,1422.28 L760.62,1424.49 L767.25,1424.49 L767.25,1426.7 L771.66,1426.7 L771.66,1418.97 L773.87,1418.97 L773.87,1412.35 L777.18,1412.35 L777.18,1409.04 L780.49,1409.04 L780.49,1415.66 L783.8,1415.66 L783.8,1423.39 L788.21,1423.39 L788.21,1422.28 L791.52,1422.28 L791.52,1412.35 L794.83,1412.35 L794.83,1409.04 L798.14,1409.04 L798.14,1405.73 L801.45,1405.73 L801.45,1405.18 L804.76,1405.18 L804.76,1410.7 L808.08,1410.7 L808.08,1410.15 L811.39,1410.15 L811.39,1412.35 L814.7,1412.35 L814.7,1417.87 L818.01,1417.87 L818.01,1412.35 L821.32,1412.35 L821.32,1405.18 L824.63,1405.18 L824.63,1404.08 L827.94,1404.08 L827.94,1415.66 L833.46,1415.66 L833.46,1411.25 L836.77,1411.25 L836.77,1409.04 L842.28,1409.04 L842.28,1406.84 L846.7,1406.84 L846.7,1405.18 L852.22,1405.18 L852.22,1404.63 L856.63,1404.63 L856.63,1396.9 L859.94,1396.9 L859.94,1389.18 L864.35,1389.18 L864.35,1379.25 L867.66,1379.25 L867.66,1369.32 L870.98,1369.32 L870.98,1359.38 L873.18,1359.38 L873.18,1353.87 L877.6,1353.87 L877.6,1351.66 L882.01,1351.66 L882.01,1349.45 L886.42,1349.45 L886.42,1338.42 L888.63,1338.42 L888.63,1329.59 L890.77,1329.59 L890.77,1321.07 L892.91,1321.07 L892.91,1324.14 L895.98,1324.14 L895.98,1331.8 L899.04,1331.8 L899.04,1325.67 L902.11,1325.67 L902.11,1321.07 L905.17,1321.07 L905.17,1328.74 L908.24,1328.74 L908.24,1337.93 L912.84,1337.93 L912.84,1341.76 L917.43,1341.76 L917.43,1344.06 L920.5,1344.06 L920.5,1353.26 L923.56,1353.26 L923.56,1367.05 L926.63,1367.05 L926.63,1376.25 L932.76,1376.25 L932.76,1375.48 L941.95,1375.48 L941.95,1380.84 L946.55,1380.84 L946.55,1385.44 L951.15,1385.44 L951.15,1380.08 L957.28,1380.08 L957.28,1376.25 L960.34,1376.25 L960.34,1368.58 L963.41,1368.58 L963.41,1365.52 L966.48,1365.52 L966.48,1370.11 L971.07,1370.11 L971.07,1373.18 L977.2,1373.18 L977.2,1377.78 L983.33,1377.78 L983.33,1383.91 L987.93,1383.91 L987.93,1390.04 L992.53,1390.04 L992.53,1403.83 L997.13,1403.83 L997.13,1414.56 L1001.72,1414.56 L1001.72,1417.62 L1009.39,1417.62 L1009.39,1414.56 L1013.98,1414.56 L1013.98,1419.16 L1018.58,1419.16 L1018.58,1420.69 L1023.18,1420.69 L1023.18,1409.96 L1027.78,1409.96 L1027.78,1397.7 L1030.84,1397.7 L1030.84,1390.04 L1035.44,1390.04 L1035.44,1383.91 L1040.04,1383.91 L1040.04,1377.78 L1044.64,1377.78 L1044.64,1368.58 L1047.7,1368.58 L1047.7,1362.45 L1050.77,1362.45 L1050.77,1368.58 L1053.83,1368.58 L1053.83,1374.71 L1056.9,1374.71 L1056.9,1375.48 L1063.03,1375.48 L1063.03,1374.71 L1070.69,1374.71 L1070.69,1376.25 L1075.29,1376.25 L1075.29,1373.18 L1081.42,1373.18 L1081.42,1379.31 L1086.02,1379.31 L1086.02,1388.51 L1090.61,1388.51 L1090.61,1390.04 L1096.74,1390.04 L1096.74,1400.77 L1101.34,1400.77" fill="none" stroke="#000" stroke-width="3.6" stroke-linejoin="miter" stroke-linecap="square"/>
<path d="M693.4,1423.18 L694.4,1422.73 L695.4,1422.27 L696.4,1421.81 L697.4,1421.36 L698.4,1420.91 L699.4,1420.47 L700.4,1420.03 L701.4,1419.61 L702.4,1419.19 L703.4,1418.79 L704.4,1418.41 L705.4,1418.04 L706.4,1417.69 L707.4,1417.36 L708.4,1417.05 L709.4,1416.77 L710.4,1416.51 L711.4,1416.27 L712.4,1416.06 L713.4,1415.88 L714.4,1415.72 L715.4,1415.59 L716.4,1415.48 L717.4,1415.41 L718.4,1415.35 L719.4,1415.33 L720.4,1415.32 L721.4,1415.34 L722.4,1415.38 L723.4,1415.44 L724.4,1415.52 L725.4,1415.61 L726.4,1415.72 L727.4,1415.84 L728.4,1415.97 L729.4,1416.11 L730.4,1416.25 L731.4,1416.4 L732.4,1416.54 L733.4,1416.69 L734.4,1416.83 L735.4,1416.96 L736.4,1417.08 L737.4,1417.2 L738.4,1417.3 L739.4,1417.38 L740.4,1417.45 L741.4,1417.5 L742.4,1417.52 L743.4,1417.53 L744.4,1417.51 L745.4,1417.47 L746.4,1417.41 L747.4,1417.32 L748.4,1417.2 L749.4,1417.05 L750.4,1416.88 L751.4,1416.68 L752.4,1416.46 L753.4,1416.21 L754.4,1415.93 L755.4,1415.63 L756.4,1415.31 L757.4,1414.96 L758.4,1414.59 L759.4,1414.19 L760.4,1413.78 L761.4,1413.35 L762.4,1412.9 L763.4,1412.44 L764.4,1411.97 L765.4,1411.48 L766.4,1410.98 L767.4,1410.47 L768.4,1409.96 L769.4,1409.44 L770.4,1408.92 L771.4,1408.4 L772.4,1407.88 L773.4,1407.36 L774.4,1406.85 L775.4,1406.35 L776.4,1405.85 L777.4,1405.36 L778.4,1404.89 L779.4,1404.43 L780.4,1403.98 L781.4,1403.55 L782.4,1403.14 L783.4,1402.75 L784.4,1402.38 L785.4,1402.03 L786.4,1401.71 L787.4,1401.41 L788.4,1401.14 L789.4,1400.9 L790.4,1400.68 L791.4,1400.5 L792.4,1400.34 L793.4,1400.21 L794.4,1400.11 L795.4,1400.05 L796.4,1400.01 L797.4,1400.01 L798.4,1400.03 L799.4,1400.09 L800.4,1400.18 L801.4,1400.3 L802.4,1400.46 L803.4,1400.64 L804.4,1400.85 L805.4,1401.09 L806.4,1401.36 L807.4,1401.65 L808.4,1401.98 L809.4,1402.33 L810.4,1402.7 L811.4,1403.1 L812.4,1403.52 L813.4,1403.96 L814.4,1404.42 L815.4,1404.89 L816.4,1405.39 L817.4,1405.9 L818.4,1406.42 L819.4,1406.96 L820.4,1407.5 L821.4,1408.06 L822.4,1408.62 L823.4,1409.18 L824.4,1409.75 L825.4,1410.31 L826.4,1410.88 L827.4,1411.44 L828.4,1412 L829.4,1412.55 L830.4,1413.08 L831.4,1413.6 L832.4,1414.11 L833.4,1414.59 L834.4,1415.06 L835.4,1415.49 L836.4,1415.9 L837.4,1416.28 L838.4,1416.62 L839.4,1416.92 L840.4,1417.17 L841.4,1417.38 L842.4,1417.54 L843.4,1417.64 L844.4,1417.67 L845.4,1417.64 L846.4,1417.54 L847.4,1417.36 L848.4,1417.09 L849.4,1416.74 L850.4,1416.3 L851.4,1415.76 L852.4,1415.11 L853.4,1414.36 L854.4,1413.49 L855.4,1412.5 L856.4,1411.38 L857.4,1410.14 L858.4,1408.77 L859.4,1407.26 L860.4,1405.61 L861.4,1403.82 L862.4,1401.89 L863.4,1399.81 L864.4,1397.59 L865.4,1395.24 L866.4,1392.74 L867.4,1390.11 L868.4,1387.34 L869.4,1384.46 L870.4,1381.45 L871.4,1378.34 L872.4,1375.13 L873.4,1371.83 L874.4,1368.46 L875.4,1365.02 L876.4,1361.54 L877.4,1358.02 L878.4,1354.49 L879.4,1350.96 L880.4,1347.45 L881.4,1343.99 L882.4,1340.57 L883.4,1337.24 L884.4,1334 L885.4,1330.88 L886.4,1327.89 L887.4,1325.06 L888.4,1322.39 L889.4,1319.91 L890.4,1317.64 L891.4,1315.58 L892.4,1313.74 L893.4,1312.15 L894.4,1310.81 L895.4,1309.72 L896.4,1308.89 L897.4,1308.33 L898.4,1308.04 L899.4,1308.01 L900.4,1308.25 L901.4,1308.74 L902.4,1309.49 L903.4,1310.48 L904.4,1311.71 L905.4,1313.16 L906.4,1314.81 L907.4,1316.66 L908.4,1318.68 L909.4,1320.87 L910.4,1323.2 L911.4,1325.65 L912.4,1328.2 L913.4,1330.84 L914.4,1333.54 L915.4,1336.28 L916.4,1339.05 L917.4,1341.83 L918.4,1344.59 L919.4,1347.33 L920.4,1350.01 L921.4,1352.63 L922.4,1355.18 L923.4,1357.63 L924.4,1359.97 L925.4,1362.19 L926.4,1364.29 L927.4,1366.25 L928.4,1368.07 L929.4,1369.74 L930.4,1371.26 L931.4,1372.61 L932.4,1373.81 L933.4,1374.85 L934.4,1375.72 L935.4,1376.44 L936.4,1377.01 L937.4,1377.42 L938.4,1377.69 L939.4,1377.82 L940.4,1377.82 L941.4,1377.69 L942.4,1377.45 L943.4,1377.1 L944.4,1376.66 L945.4,1376.12 L946.4,1375.52 L947.4,1374.85 L948.4,1374.12 L949.4,1373.35 L950.4,1372.56 L951.4,1371.74 L952.4,1370.91 L953.4,1370.09 L954.4,1369.28 L955.4,1368.5 L956.4,1367.75 L957.4,1367.05 L958.4,1366.4 L959.4,1365.81 L960.4,1365.29 L961.4,1364.84 L962.4,1364.48 L963.4,1364.21 L964.4,1364.03 L965.4,1363.95 L966.4,1363.97 L967.4,1364.09 L968.4,1364.32 L969.4,1364.65 L970.4,1365.09 L971.4,1365.63 L972.4,1366.27 L973.4,1367.01 L974.4,1367.85 L975.4,1368.78 L976.4,1369.8 L977.4,1370.9 L978.4,1372.08 L979.4,1373.32 L980.4,1374.63 L981.4,1376 L982.4,1377.42 L983.4,1378.87 L984.4,1380.36 L985.4,1381.88 L986.4,1383.42 L987.4,1384.96 L988.4,1386.51 L989.4,1388.05 L990.4,1389.58 L991.4,1391.09 L992.4,1392.57 L993.4,1394.01 L994.4,1395.41 L995.4,1396.77 L996.4,1398.07 L997.4,1399.31 L998.4,1400.48 L999.4,1401.59 L1000.4,1402.62 L1001.4,1403.58 L1002.4,1404.45 L1003.4,1405.24 L1004.4,1405.94 L1005.4,1406.56 L1006.4,1407.08 L1007.4,1407.51 L1008.4,1407.85 L1009.4,1408.1 L1010.4,1408.26 L1011.4,1408.32 L1012.4,1408.29 L1013.4,1408.18 L1014.4,1407.97 L1015.4,1407.68 L1016.4,1407.3 L1017.4,1406.84 L1018.4,1406.31 L1019.4,1405.69 L1020.4,1405.01 L1021.4,1404.25 L1022.4,1403.43 L1023.4,1402.55 L1024.4,1401.61 L1025.4,1400.62 L1026.4,1399.58 L1027.4,1398.5 L1028.4,1397.38 L1029.4,1396.22 L1030.4,1395.04 L1031.4,1393.84 L1032.4,1392.62 L1033.4,1391.39 L1034.4,1390.15 L1035.4,1388.91 L1036.4,1387.68 L1037.4,1386.46 L1038.4,1385.25 L1039.4,1384.06 L1040.4,1382.9 L1041.4,1381.78 L1042.4,1380.69 L1043.4,1379.64 L1044.4,1378.64 L1045.4,1377.69 L1046.4,1376.8 L1047.4,1375.96 L1048.4,1375.19 L1049.4,1374.49 L1050.4,1373.86 L1051.4,1373.3 L1052.4,1372.82 L1053.4,1372.42 L1054.4,1372.1 L1055.4,1371.86 L1056.4,1371.71 L1057.4,1371.63 L1058.4,1371.65 L1059.4,1371.75 L1060.4,1371.93 L1061.4,1372.2 L1062.4,1372.55 L1063.4,1372.98 L1064.4,1373.49 L1065.4,1374.09 L1066.4,1374.75 L1067.4,1375.49 L1068.4,1376.3 L1069.4,1377.17 L1070.4,1378.11 L1071.4,1379.11 L1072.4,1380.16 L1073.4,1381.26 L1074.4,1382.41 L1075.4,1383.61 L1076.4,1384.84 L1077.4,1386.11 L1078.4,1387.41 L1079.4,1388.73 L1080.4,1390.07 L1081.4,1391.43 L1082.4,1392.81 L1083.4,1394.19 L1084.4,1395.57 L1085.4,1396.96 L1086.4,1398.34 L1087.4,1399.71 L1088.4,1401.07 L1089.4,1402.42 L1090.4,1403.75 L1091.4,1405.06 L1092.4,1406.35 L1093.4,1407.61 L1094.4,1408.85 L1095.4,1410.05 L1096.4,1411.23 L1097.4,1412.37 L1098.4,1413.47 L1099.4,1414.54 L1100.4,1415.57 L1101.4,1416.57" fill="none" stroke="#1f77b4" stroke-width="3.0" stroke-linejoin="round"/>
<path d="M693.4,1432.43 L694.4,1432.43 L695.4,1432.43 L696.4,1432.43 L697.4,1432.43 L698.4,1432.43 L699.4,1432.43 L700.4,1432.43 L701.4,1432.43 L702.4,1432.43 L703.4,1432.43 L704.4,1432.43 L705.4,1432.43 L706.4,1432.43 L707.4,1432.43 L708.4,1432.43 L709.4,1432.43 L710.4,1432.43 L711.4,1432.43 L712.4,1432.43 L713.4,1432.43 L714.4,1432.43 L715.4,1432.43 L716.4,1432.43 L717.4,1432.43 L718.4,1432.43 L719.4,1432.43 L720.4,1432.43 L721.4,1432.43 L722.4,1432.43 L723.4,1432.43 L724.4,1432.43 L725.4,1432.43 L726.4,1432.43 L727.4,1432.43 L728.4,1432.43 L729.4,1432.43 L730.4,1432.43 L731.4,1432.43 L732.4,1432.43 L733.4,1432.43 L734.4,1432.43 L735.4,1432.43 L736.4,1432.43 L737.4,1432.43 L738.4,1432.43 L739.4,1432.43 L740.4,1432.43 L741.4,1432.43 L742.4,1432.43 L743.4,1432.43 L744.4,1432.43 L745.4,1432.43 L746.4,1432.43 L747.4,1432.43 L748.4,1432.43 L749.4,1432.43 L750.4,1432.43 L751.4,1432.43 L752.4,1432.43 L753.4,1432.43 L754.4,1432.43 L755.4,1432.43 L756.4,1432.43 L757.4,1432.43 L758.4,1432.43 L759.4,1432.43 L760.4,1432.43 L761.4,1432.43 L762.4,1432.43 L763.4,1432.43 L764.4,1432.43 L765.4,1432.43 L766.4,1432.43 L767.4,1432.43 L768.4,1432.43 L769.4,1432.43 L770.4,1432.43 L771.4,1432.43 L772.4,1432.43 L773.4,1432.43 L774.4,1432.43 L775.4,1432.43 L776.4,1432.43 L777.4,1432.43 L778.4,1432.43 L779.4,1432.43 L780.4,1432.43 L781.4,1432.43 L782.4,1432.43 L783.4,1432.43 L784.4,1432.43 L785.4,1432.43 L786.4,1432.43 L787.4,1432.43 L788.4,1432.43 L789.4,1432.43 L790.4,1432.43 L791.4,1432.43 L792.4,1432.43 L793.4,1432.43 L794.4,1432.43 L795.4,1432.43 L796.4,1432.43 L797.4,1432.43 L798.4,1432.43 L799.4,1432.43 L800.4,1432.43 L801.4,1432.43 L802.4,1432.43 L803.4,1432.42 L804.4,1432.42 L805.4,1432.42 L806.4,1432.42 L807.4,1432.42 L808.4,1432.42 L809.4,1432.42 L810.4,1432.41 L811.4,1432.41 L812.4,1432.41 L813.4,1432.4 L814.4,1432.4 L815.4,1432.39 L816.4,1432.39 L817.4,1432.38 L818.4,1432.37 L819.4,1432.36 L820.4,1432.35 L821.4,1432.34 L822.4,1432.32 L823.4,1432.3 L824.4,1432.28 L825.4,1432.26 L826.4,1432.23 L827.4,1432.19 L828.4,1432.16 L829.4,1432.11 L830.4,1432.06 L831.4,1432.01 L832.4,1431.94 L833.4,1431.87 L834.4,1431.79 L835.4,1431.7 L836.4,1431.6 L837.4,1431.48 L838.4,1431.35 L839.4,1431.2 L840.4,1431.04 L841.4,1430.86 L842.4,1430.66 L843.4,1430.43 L844.4,1430.19 L845.4,1429.91 L846.4,1429.61 L847.4,1429.28 L848.4,1428.92 L849.4,1428.53 L850.4,1428.09 L851.4,1427.62 L852.4,1427.11 L853.4,1426.56 L854.4,1425.97 L855.4,1425.32 L856.4,1424.63 L857.4,1423.89 L858.4,1423.1 L859.4,1422.25 L860.4,1421.35 L861.4,1420.39 L862.4,1419.37 L863.4,1418.3 L864.4,1417.17 L865.4,1415.98 L866.4,1414.74 L867.4,1413.44 L868.4,1412.08 L869.4,1410.67 L870.4,1409.21 L871.4,1407.71 L872.4,1406.15 L873.4,1404.55 L874.4,1402.92 L875.4,1401.25 L876.4,1399.55 L877.4,1397.83 L878.4,1396.09 L879.4,1394.34 L880.4,1392.59 L881.4,1390.84 L882.4,1389.09 L883.4,1387.37 L884.4,1385.67 L885.4,1384 L886.4,1382.37 L887.4,1380.79 L888.4,1379.26 L889.4,1377.8 L890.4,1376.41 L891.4,1375.1 L892.4,1373.88 L893.4,1372.75 L894.4,1371.71 L895.4,1370.79 L896.4,1369.97 L897.4,1369.27 L898.4,1368.69 L899.4,1368.23 L900.4,1367.9 L901.4,1367.69 L902.4,1367.61 L903.4,1367.66 L904.4,1367.85 L905.4,1368.15 L906.4,1368.59 L907.4,1369.14 L908.4,1369.82 L909.4,1370.62 L910.4,1371.52 L911.4,1372.53 L912.4,1373.64 L913.4,1374.85 L914.4,1376.14 L915.4,1377.52 L916.4,1378.96 L917.4,1380.48 L918.4,1382.05 L919.4,1383.67 L920.4,1385.33 L921.4,1387.02 L922.4,1388.75 L923.4,1390.49 L924.4,1392.24 L925.4,1393.99 L926.4,1395.74 L927.4,1397.49 L928.4,1399.21 L929.4,1400.91 L930.4,1402.59 L931.4,1404.23 L932.4,1405.83 L933.4,1407.4 L934.4,1408.92 L935.4,1410.39 L936.4,1411.81 L937.4,1413.17 L938.4,1414.48 L939.4,1415.74 L940.4,1416.94 L941.4,1418.08 L942.4,1419.16 L943.4,1420.19 L944.4,1421.16 L945.4,1422.07 L946.4,1422.93 L947.4,1423.73 L948.4,1424.49 L949.4,1425.19 L950.4,1425.84 L951.4,1426.45 L952.4,1427.01 L953.4,1427.53 L954.4,1428 L955.4,1428.44 L956.4,1428.84 L957.4,1429.21 L958.4,1429.55 L959.4,1429.85 L960.4,1430.13 L961.4,1430.39 L962.4,1430.61 L963.4,1430.82 L964.4,1431 L965.4,1431.17 L966.4,1431.32 L967.4,1431.45 L968.4,1431.57 L969.4,1431.68 L970.4,1431.77 L971.4,1431.86 L972.4,1431.93 L973.4,1432 L974.4,1432.05 L975.4,1432.1 L976.4,1432.15 L977.4,1432.19 L978.4,1432.22 L979.4,1432.25 L980.4,1432.28 L981.4,1432.3 L982.4,1432.32 L983.4,1432.33 L984.4,1432.35 L985.4,1432.36 L986.4,1432.37 L987.4,1432.38 L988.4,1432.39 L989.4,1432.39 L990.4,1432.4 L991.4,1432.4 L992.4,1432.41 L993.4,1432.41 L994.4,1432.41 L995.4,1432.42 L996.4,1432.42 L997.4,1432.42 L998.4,1432.42 L999.4,1432.42 L1000.4,1432.42 L1001.4,1432.42 L1002.4,1432.43 L1003.4,1432.43 L1004.4,1432.43 L1005.4,1432.43 L1006.4,1432.43 L1007.4,1432.43 L1008.4,1432.43 L1009.4,1432.43 L1010.4,1432.43 L1011.4,1432.43 L1012.4,1432.43 L1013.4,1432.43 L1014.4,1432.43 L1015.4,1432.43 L1016.4,1432.43 L1017.4,1432.43 L1018.4,1432.43 L1019.4,1432.43 L1020.4,1432.43 L1021.4,1432.43 L1022.4,1432.43 L1023.4,1432.43 L1024.4,1432.43 L1025.4,1432.43 L1026.4,1432.43 L1027.4,1432.43 L1028.4,1432.43 L1029.4,1432.43 L1030.4,1432.43 L1031.4,1432.43 L1032.4,1432.43 L1033.4,1432.43 L1034.4,1432.43 L1035.4,1432.43 L1036.4,1432.43 L1037.4,1432.43 L1038.4,1432.43 L1039.4,1432.43 L1040.4,1432.43 L1041.4,1432.43 L1042.4,1432.43 L1043.4,1432.43 L1044.4,1432.43 L1045.4,1432.43 L1046.4,1432.43 L1047.4,1432.43 L1048.4,1432.43 L1049.4,1432.43 L1050.4,1432.43 L1051.4,1432.43 L1052.4,1432.43 L1053.4,1432.43 L1054.4,1432.43 L1055.4,1432.43 L1056.4,1432.43 L1057.4,1432.43 L1058.4,1432.43 L1059.4,1432.43 L1060.4,1432.43 L1061.4,1432.43 L1062.4,1432.43 L1063.4,1432.43 L1064.4,1432.43 L1065.4,1432.43 L1066.4,1432.43 L1067.4,1432.43 L1068.4,1432.43 L1069.4,1432.43 L1070.4,1432.43 L1071.4,1432.43 L1072.4,1432.43 L1073.4,1432.43 L1074.4,1432.43 L1075.4,1432.43 L1076.4,1432.43 L1077.4,1432.43 L1078.4,1432.43 L1079.4,1432.43 L1080.4,1432.43 L1081.4,1432.43 L1082.4,1432.43 L1083.4,1432.43 L1084.4,1432.43 L1085.4,1432.43 L1086.4,1432.43 L1087.4,1432.43 L1088.4,1432.43 L1089.4,1432.43 L1090.4,1432.43 L1091.4,1432.43 L1092.4,1432.43 L1093.4,1432.43 L1094.4,1432.43 L1095.4,1432.43 L1096.4,1432.43 L1097.4,1432.43 L1098.4,1432.43 L1099.4,1432.43 L1100.4,1432.43 L1101.4,1432.43" fill="none" stroke="#d62728" stroke-width="3.0" stroke-linejoin="round"/>
</g>
<text transform="translate(730.8,1405.6) rotate(-90)" class="l"><tspan x="0" y="-0" style="font-size:23px">C</tspan><tspan x="16.28" y="3.77" style="font-size:16.1px">2</tspan><tspan x="27.15" y="-0" style="font-size:23px">H</tspan><tspan x="44.67" y="3.77" style="font-size:16.1px">3</tspan><tspan x="55.54" y="-0" style="font-size:23px">C</tspan><tspan x="71.6" y="-0" style="font-size:23px">N</tspan></text>
<text transform="translate(772.8,1401.2) rotate(-90)" class="l"><tspan x="0" y="-0" style="font-size:23px">C</tspan><tspan x="16.28" y="3.77" style="font-size:16.1px">2</tspan><tspan x="27.15" y="-0" style="font-size:23px">H</tspan><tspan x="44.67" y="3.77" style="font-size:16.1px">3</tspan><tspan x="55.54" y="-0" style="font-size:23px">C</tspan><tspan x="71.6" y="-0" style="font-size:23px">N</tspan></text>
<text transform="translate(794.8,1393.6) rotate(-90)" class="l"><tspan x="0" y="-0" style="font-size:23px">H</tspan><tspan x="17.29" y="-0" style="font-size:23px">S</tspan><tspan x="31.89" y="-0" style="font-size:23px">C</tspan><tspan x="47.95" y="-0" style="font-size:23px">O</tspan><tspan x="66.28" y="-9.8" style="font-size:16.1px">+</tspan></text>
<text transform="translate(819.1,1393.4) rotate(-90)" class="l"><tspan x="0" y="-0" style="font-size:23px">C</tspan><tspan x="16.28" y="3.77" style="font-size:16.1px">2</tspan><tspan x="27.15" y="-0" style="font-size:23px">H</tspan><tspan x="44.67" y="3.77" style="font-size:16.1px">3</tspan><tspan x="55.54" y="-0" style="font-size:23px">C</tspan><tspan x="71.6" y="-0" style="font-size:23px">N</tspan></text>
<text transform="translate(879.8,1344.2) rotate(-90)" class="l"><tspan x="0" y="-0" style="font-size:23px">C</tspan><tspan x="16.28" y="3.77" style="font-size:16.1px">2</tspan><tspan x="27.15" y="-0" style="font-size:23px">H</tspan><tspan x="44.67" y="3.77" style="font-size:16.1px">3</tspan><tspan x="55.54" y="-0" style="font-size:23px">C</tspan><tspan x="71.6" y="-0" style="font-size:23px">N</tspan></text>
<text transform="translate(915.1,1302.6) rotate(-90)" class="l"><tspan style="font-size:23px">HCOCN</tspan></text>
<text transform="translate(969,1353) rotate(-90)" class="l"><tspan x="0" y="-0" style="font-size:23px">c</tspan><tspan x="12.65" y="-0" style="font-size:23px">-</tspan><tspan x="20.94" y="-0" style="font-size:23px">-</tspan><tspan x="29.24" y="-0" style="font-size:23px">C</tspan><tspan x="45.3" y="-0" style="font-size:23px">C</tspan><tspan x="61.58" y="-8.8" style="font-size:16.1px">1</tspan><tspan x="71.83" y="-8.8" style="font-size:16.1px">3</tspan><tspan x="82.7" y="-0" style="font-size:23px">C</tspan><tspan x="98.76" y="-0" style="font-size:23px">H</tspan><tspan x="116.27" y="3.77" style="font-size:16.1px">2</tspan></text>
<text transform="translate(1004,1387) rotate(-90)" class="l"><tspan x="0" y="-0" style="font-size:23px">C</tspan><tspan x="16.28" y="3.77" style="font-size:16.1px">2</tspan><tspan x="27.15" y="-0" style="font-size:23px">H</tspan><tspan x="44.67" y="3.77" style="font-size:16.1px">3</tspan><tspan x="55.54" y="-0" style="font-size:23px">C</tspan><tspan x="71.6" y="-0" style="font-size:23px">N</tspan></text>
<text transform="translate(1064.6,1359.5) rotate(-90)" class="l"><tspan x="0" y="-0" style="font-size:23px">C</tspan><tspan x="16.28" y="3.77" style="font-size:16.1px">2</tspan><tspan x="27.15" y="-0" style="font-size:23px">H</tspan><tspan x="44.67" y="3.77" style="font-size:16.1px">4</tspan><tspan x="55.54" y="-0" style="font-size:23px">O</tspan></text>
<rect x="695.4" y="1085.2" width="404" height="405.1" fill="none" stroke="#000" stroke-width="2.6"/>
<path d="M689.9,1490.3H695.4M1099.4,1490.3H1104.9" stroke="#000" stroke-width="2.0"/>
<path d="M689.9,1461.36H695.4M1099.4,1461.36H1104.9" stroke="#000" stroke-width="2.0"/>
<path d="M680.6,1432.43H695.4M1099.4,1432.43H1114.2" stroke="#000" stroke-width="2.6"/>
<text x="670.6" y="1447.03" text-anchor="end" class="t">0</text>
<path d="M689.9,1403.49H695.4M1099.4,1403.49H1104.9" stroke="#000" stroke-width="2.0"/>
<path d="M689.9,1374.56H695.4M1099.4,1374.56H1104.9" stroke="#000" stroke-width="2.0"/>
<path d="M689.9,1345.62H695.4M1099.4,1345.62H1104.9" stroke="#000" stroke-width="2.0"/>
<path d="M680.6,1316.69H695.4M1099.4,1316.69H1114.2" stroke="#000" stroke-width="2.6"/>
<text x="670.6" y="1331.29" text-anchor="end" class="t">20</text>
<path d="M689.9,1287.75H695.4M1099.4,1287.75H1104.9" stroke="#000" stroke-width="2.0"/>
<path d="M689.9,1258.81H695.4M1099.4,1258.81H1104.9" stroke="#000" stroke-width="2.0"/>
<path d="M689.9,1229.88H695.4M1099.4,1229.88H1104.9" stroke="#000" stroke-width="2.0"/>
<path d="M680.6,1200.94H695.4M1099.4,1200.94H1114.2" stroke="#000" stroke-width="2.6"/>
<text x="670.6" y="1215.54" text-anchor="end" class="t">40</text>
<path d="M689.9,1172.01H695.4M1099.4,1172.01H1104.9" stroke="#000" stroke-width="2.0"/>
<path d="M689.9,1143.07H695.4M1099.4,1143.07H1104.9" stroke="#000" stroke-width="2.0"/>
<path d="M689.9,1114.14H695.4M1099.4,1114.14H1104.9" stroke="#000" stroke-width="2.0"/>
<path d="M680.6,1085.2H695.4M1099.4,1085.2H1114.2" stroke="#000" stroke-width="2.6"/>
<text x="670.6" y="1099.8" text-anchor="end" class="t">60</text>
<path d="M740.3,1490.3V1505.1M740.3,1070.4V1085.2" stroke="#000" stroke-width="2.6"/>
<text x="740.3" y="1545.6" text-anchor="middle" class="t">225.360</text>
<path d="M974.7,1490.3V1505.1M974.7,1070.4V1085.2" stroke="#000" stroke-width="2.6"/>
<text x="974.7" y="1545.6" text-anchor="middle" class="t">225.440</text>
<path d="M798.9,1490.3V1495.8M798.9,1079.7V1085.2" stroke="#000" stroke-width="2.0"/>
<path d="M857.5,1490.3V1495.8M857.5,1079.7V1085.2" stroke="#000" stroke-width="2.0"/>
<path d="M916.1,1490.3V1495.8M916.1,1079.7V1085.2" stroke="#000" stroke-width="2.0"/>
<path d="M1033.3,1490.3V1495.8M1033.3,1079.7V1085.2" stroke="#000" stroke-width="2.0"/>
<path d="M1091.9,1490.3V1495.8M1091.9,1079.7V1085.2" stroke="#000" stroke-width="2.0"/>
<rect x="1918.9" y="1029.9" width="3.8" height="1.2" fill="#222"/><rect x="1939.9" y="1029.9" width="3.6" height="1.2" fill="#ccc"/><rect x="2007.1" y="1029.9" width="3.8" height="1.2" fill="#222"/>
<text x="1155.4" y="1623.5" text-anchor="middle" class="a"><tspan font-style="italic">&#957;</tspan> (GHz)</text>
<text transform="translate(30.7,840) rotate(-90)" class="a"><tspan x="0" font-style="italic">T</tspan><tspan x="24" dy="5.8" style="font-size:27.2px">A</tspan><tspan x="50" dy="-5.8">*</tspan><tspan x="78">(mK)</tspan></text>
</svg>
</body></html>
